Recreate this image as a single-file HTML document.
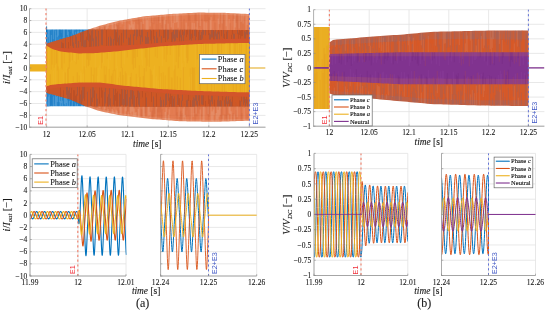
<!DOCTYPE html><html><head><meta charset="utf-8"><style>html,body{margin:0;padding:0;background:#fff;width:550px;height:313px;overflow:hidden}svg{display:block}</style></head><body>
<svg width="550" height="313" viewBox="0 0 550 313">
<rect width="550" height="313" fill="#fff"/>
<line x1="46.6" y1="8.6" x2="46.6" y2="127.2" stroke="#e2e2e2" stroke-width="0.8" />
<line x1="87.15" y1="8.6" x2="87.15" y2="127.2" stroke="#e2e2e2" stroke-width="0.8" />
<line x1="127.7" y1="8.6" x2="127.7" y2="127.2" stroke="#e2e2e2" stroke-width="0.8" />
<line x1="168.25" y1="8.6" x2="168.25" y2="127.2" stroke="#e2e2e2" stroke-width="0.8" />
<line x1="208.8" y1="8.6" x2="208.8" y2="127.2" stroke="#e2e2e2" stroke-width="0.8" />
<line x1="249.35" y1="8.6" x2="249.35" y2="127.2" stroke="#e2e2e2" stroke-width="0.8" />
<line x1="29.5" y1="8.7" x2="265.5" y2="8.7" stroke="#e2e2e2" stroke-width="0.8" />
<line x1="29.5" y1="20.55" x2="265.5" y2="20.55" stroke="#e2e2e2" stroke-width="0.8" />
<line x1="29.5" y1="32.4" x2="265.5" y2="32.4" stroke="#e2e2e2" stroke-width="0.8" />
<line x1="29.5" y1="44.25" x2="265.5" y2="44.25" stroke="#e2e2e2" stroke-width="0.8" />
<line x1="29.5" y1="56.1" x2="265.5" y2="56.1" stroke="#e2e2e2" stroke-width="0.8" />
<line x1="29.5" y1="67.95" x2="265.5" y2="67.95" stroke="#e2e2e2" stroke-width="0.8" />
<line x1="29.5" y1="79.8" x2="265.5" y2="79.8" stroke="#e2e2e2" stroke-width="0.8" />
<line x1="29.5" y1="91.65" x2="265.5" y2="91.65" stroke="#e2e2e2" stroke-width="0.8" />
<line x1="29.5" y1="103.5" x2="265.5" y2="103.5" stroke="#e2e2e2" stroke-width="0.8" />
<line x1="29.5" y1="115.35" x2="265.5" y2="115.35" stroke="#e2e2e2" stroke-width="0.8" />
<line x1="29.5" y1="127.2" x2="265.5" y2="127.2" stroke="#e2e2e2" stroke-width="0.8" />
<clipPath id="cTL"><rect x="29.5" y="6.6" width="236.0" height="120.60000000000001"/></clipPath>
<g clip-path="url(#cTL)">
<polygon points="29.5,64.28 46.3,64.28 46.3,71.62 29.5,71.62" fill="#EDB120" />
<polygon points="46.3,29.44 48.35,29.44 50.4,29.44 52.45,29.44 54.5,29.44 56.55,29.44 58.6,29.44 60.65,29.44 62.7,29.45 64.75,29.45 66.81,29.46 68.86,29.47 70.91,29.47 72.96,29.48 75.01,29.49 77.06,29.49 79.11,29.5 81.16,29.51 83.21,29.51 85.26,29.52 87.31,29.53 89.36,29.53 91.41,29.54 93.46,29.55 95.51,29.55 97.56,29.56 99.61,29.57 101.66,29.57 103.71,29.58 105.76,29.59 107.82,29.59 109.87,29.6 111.92,29.61 113.97,29.62 116.02,29.62 118.07,29.63 120.12,29.64 122.17,29.64 124.22,29.65 126.27,29.66 128.32,29.66 130.37,29.67 132.42,29.68 134.47,29.68 136.52,29.69 138.57,29.7 140.62,29.7 142.67,29.71 144.72,29.72 146.77,29.72 148.83,29.73 150.88,29.74 152.93,29.74 154.98,29.75 157.03,29.75 159.08,29.76 161.13,29.77 163.18,29.77 165.23,29.78 167.28,29.79 169.33,29.79 171.38,29.8 173.43,29.8 175.48,29.81 177.53,29.82 179.58,29.82 181.63,29.83 183.68,29.83 185.73,29.84 187.78,29.85 189.84,29.85 191.89,29.86 193.94,29.86 195.99,29.87 198.04,29.88 200.09,29.88 202.14,29.89 204.19,29.9 206.24,29.9 208.29,29.91 210.34,29.91 212.39,29.92 214.44,29.93 216.49,29.93 218.54,29.94 220.59,29.94 222.64,29.95 224.69,29.96 226.74,29.96 228.79,29.97 230.85,29.97 232.9,29.98 234.95,29.99 237,29.99 239.05,30 241.1,30.01 243.15,30.01 245.2,30.02 247.25,30.02 249.3,30.03 249.3,106.46 247.25,106.47 245.2,106.47 243.15,106.48 241.1,106.49 239.05,106.49 237,106.5 234.95,106.51 232.9,106.51 230.85,106.52 228.79,106.52 226.74,106.53 224.69,106.54 222.64,106.54 220.59,106.55 218.54,106.55 216.49,106.56 214.44,106.57 212.39,106.57 210.34,106.58 208.29,106.58 206.24,106.59 204.19,106.6 202.14,106.6 200.09,106.61 198.04,106.62 195.99,106.62 193.94,106.63 191.89,106.63 189.84,106.64 187.78,106.65 185.73,106.65 183.68,106.66 181.63,106.66 179.58,106.67 177.53,106.68 175.48,106.68 173.43,106.69 171.38,106.69 169.33,106.7 167.28,106.71 165.23,106.71 163.18,106.72 161.13,106.73 159.08,106.73 157.03,106.74 154.98,106.74 152.93,106.75 150.88,106.76 148.83,106.75 146.77,106.74 144.72,106.72 142.67,106.71 140.62,106.7 138.57,106.68 136.52,106.67 134.47,106.66 132.42,106.64 130.37,106.63 128.32,106.62 126.27,106.6 124.22,106.59 122.17,106.58 120.12,106.56 118.07,106.55 116.02,106.54 113.97,106.52 111.92,106.51 109.87,106.49 107.82,106.48 105.76,106.47 103.71,106.45 101.66,106.44 99.61,106.43 97.56,106.41 95.51,106.4 93.46,106.39 91.41,106.37 89.36,106.36 87.31,106.35 85.26,106.33 83.21,106.32 81.16,106.31 79.11,106.29 77.06,106.28 75.01,106.27 72.96,106.25 70.91,106.24 68.86,106.22 66.81,106.21 64.75,106.2 62.7,106.18 60.65,106.17 58.6,106.2 56.55,106.24 54.5,106.29 52.45,106.33 50.4,106.37 48.35,106.42 46.3,106.46" fill="#2A88CE" />
<polygon points="46.3,43.66 48.35,43.04 50.4,42.43 52.45,41.81 54.5,41.2 56.55,40.58 58.6,39.97 60.65,39.35 62.7,38.74 64.75,38.12 66.81,37.51 68.86,36.89 70.91,36.2 72.96,35.43 75.01,34.65 77.06,33.88 79.11,33.1 81.16,32.32 83.21,31.55 85.26,30.77 87.31,29.99 89.36,29.26 91.41,28.55 93.46,27.85 95.51,27.14 97.56,26.43 99.61,25.72 101.66,25.17 103.71,24.65 105.76,24.13 107.82,23.62 109.87,23.1 111.92,22.59 113.97,22.07 116.02,21.55 118.07,21.04 120.12,20.53 122.17,20.17 124.22,19.81 126.27,19.45 128.32,19.09 130.37,18.73 132.42,18.37 134.47,18.01 136.52,17.65 138.57,17.29 140.62,16.93 142.67,16.57 144.72,16.3 146.77,16.12 148.83,15.93 150.88,15.75 152.93,15.57 154.98,15.38 157.03,15.2 159.08,15.01 161.13,14.83 163.18,14.64 165.23,14.46 167.28,14.28 169.33,14.09 171.38,13.96 173.43,13.86 175.48,13.75 177.53,13.65 179.58,13.54 181.63,13.44 183.68,13.33 185.73,13.23 187.78,13.12 189.84,13.02 191.89,12.91 193.94,12.81 195.99,12.71 198.04,12.6 200.09,12.56 202.14,12.59 204.19,12.61 206.24,12.63 208.29,12.66 210.34,12.68 212.39,12.7 214.44,12.73 216.49,12.75 218.54,12.77 220.59,12.8 222.64,12.82 224.69,12.84 226.74,12.93 228.79,13.03 230.85,13.13 232.9,13.23 234.95,13.33 237,13.43 239.05,13.53 241.1,13.63 243.15,13.73 245.2,13.83 247.25,13.93 249.3,14.03 249.3,120.68 247.25,120.75 245.2,120.82 243.15,120.9 241.1,120.97 239.05,121.04 237,121.11 234.95,121.18 232.9,121.25 230.85,121.32 228.79,121.39 226.74,121.46 224.69,121.53 222.64,121.6 220.59,121.67 218.54,121.75 216.49,121.82 214.44,121.86 212.39,121.82 210.34,121.79 208.29,121.75 206.24,121.72 204.19,121.68 202.14,121.65 200.09,121.62 198.04,121.58 195.99,121.55 193.94,121.51 191.89,121.48 189.84,121.44 187.78,121.41 185.73,121.37 183.68,121.34 181.63,121.3 179.58,121.24 177.53,121.08 175.48,120.92 173.43,120.76 171.38,120.59 169.33,120.43 167.28,120.27 165.23,120.11 163.18,119.95 161.13,119.78 159.08,119.62 157.03,119.46 154.98,119.3 152.93,119.14 150.88,118.97 148.83,118.77 146.77,118.52 144.72,118.28 142.67,118.04 140.62,117.79 138.57,117.55 136.52,117.31 134.47,117.06 132.42,116.82 130.37,116.58 128.32,116.34 126.27,116.09 124.22,115.85 122.17,115.61 120.12,115.36 118.07,114.95 116.02,114.52 113.97,114.1 111.92,113.67 109.87,113.25 107.82,112.82 105.76,112.4 103.71,111.97 101.66,111.55 99.61,111.07 97.56,110.38 95.51,109.68 93.46,108.99 91.41,108.29 89.36,107.6 87.31,106.91 85.26,106.13 83.21,105.22 81.16,104.31 79.11,103.4 77.06,102.49 75.01,101.58 72.96,100.67 70.91,99.76 68.86,99.04 66.81,98.47 64.75,97.91 62.7,97.35 60.65,96.78 58.6,96.22 56.55,95.65 54.5,95.09 52.45,94.53 50.4,93.96 48.35,93.4 46.3,92.84" fill="#D95319" fill-opacity="0.68"/>
<polygon points="46.3,45.73 48.35,45.12 50.4,44.5 52.45,43.89 54.5,43.27 56.55,42.66 58.6,42.04 60.65,41.43 62.7,40.81 64.75,40.19 66.81,39.58 68.86,38.96 70.91,38.28 72.96,37.5 75.01,36.73 77.06,35.95 79.11,35.17 81.16,34.4 83.21,33.62 85.26,32.84 87.31,32.07 89.36,31.34 91.41,30.63 93.46,29.92 95.51,29.21 97.56,28.5 99.61,27.79 101.66,27.24 103.71,26.72 105.76,26.21 107.82,25.69 109.87,25.18 111.92,24.66 113.97,24.14 116.02,23.63 118.07,23.11 120.12,22.6 122.17,22.24 124.22,21.88 126.27,21.52 128.32,21.16 130.37,20.8 132.42,20.44 134.47,20.08 136.52,19.72 138.57,19.36 140.62,19 142.67,18.64 144.72,18.38 146.77,18.19 148.83,18.01 150.88,17.82 152.93,17.64 154.98,17.45 157.03,17.27 159.08,17.09 161.13,16.9 163.18,16.72 165.23,16.53 167.28,16.35 169.33,16.17 171.38,16.04 173.43,15.93 175.48,15.83 177.53,15.72 179.58,15.62 181.63,15.51 183.68,15.41 185.73,15.3 187.78,15.2 189.84,15.09 191.89,14.99 193.94,14.88 195.99,14.78 198.04,14.67 200.09,14.64 202.14,14.66 204.19,14.68 206.24,14.71 208.29,14.73 210.34,14.75 212.39,14.78 214.44,14.8 216.49,14.82 218.54,14.85 220.59,14.87 222.64,14.89 224.69,14.92 226.74,15.01 228.79,15.11 230.85,15.21 232.9,15.31 234.95,15.41 237,15.51 239.05,15.61 241.1,15.71 243.15,15.81 245.2,15.91 247.25,16.01 249.3,16.11 249.3,118.61 247.25,118.68 245.2,118.75 243.15,118.82 241.1,118.89 239.05,118.96 237,119.03 234.95,119.1 232.9,119.18 230.85,119.25 228.79,119.32 226.74,119.39 224.69,119.46 222.64,119.53 220.59,119.6 218.54,119.67 216.49,119.74 214.44,119.78 212.39,119.75 210.34,119.71 208.29,119.68 206.24,119.65 204.19,119.61 202.14,119.58 200.09,119.54 198.04,119.51 195.99,119.47 193.94,119.44 191.89,119.4 189.84,119.37 187.78,119.33 185.73,119.3 183.68,119.26 181.63,119.23 179.58,119.17 177.53,119.01 175.48,118.84 173.43,118.68 171.38,118.52 169.33,118.36 167.28,118.2 165.23,118.03 163.18,117.87 161.13,117.71 159.08,117.55 157.03,117.39 154.98,117.22 152.93,117.06 150.88,116.9 148.83,116.69 146.77,116.45 144.72,116.21 142.67,115.96 140.62,115.72 138.57,115.48 136.52,115.23 134.47,114.99 132.42,114.75 130.37,114.51 128.32,114.26 126.27,114.02 124.22,113.78 122.17,113.53 120.12,113.29 118.07,112.88 116.02,112.45 113.97,112.03 111.92,111.6 109.87,111.17 107.82,110.75 105.76,110.32 103.71,109.9 101.66,109.47 99.61,109 97.56,108.3 95.51,107.61 93.46,106.92 91.41,106.22 89.36,105.53 87.31,104.83 85.26,104.06 83.21,103.15 81.16,102.24 79.11,101.33 77.06,100.41 75.01,99.5 72.96,98.59 70.91,97.68 68.86,96.96 66.81,96.4 64.75,95.84 62.7,95.27 60.65,94.71 58.6,94.14 56.55,93.58 54.5,93.02 52.45,92.45 50.4,91.89 48.35,91.33 46.3,90.76" fill="#D95319" fill-opacity="0.3"/>
<polygon points="46.3,43.66 48.35,43.04 50.4,42.43 52.45,41.81 54.5,41.2 56.55,40.58 58.6,39.97 60.65,39.35 62.7,38.74 64.75,38.12 66.81,37.51 68.86,36.89 70.91,36.2 72.96,35.43 75.01,34.65 77.06,33.88 79.11,33.1 81.16,32.32 83.21,31.55 85.26,30.77 87.31,29.99 89.36,29.53 91.41,29.54 93.46,29.55 95.51,29.55 97.56,29.56 99.61,29.57 101.66,29.57 103.71,29.58 105.76,29.59 107.82,29.59 109.87,29.6 111.92,29.61 113.97,29.62 116.02,29.62 118.07,29.63 120.12,29.64 122.17,29.64 124.22,29.65 126.27,29.66 128.32,29.66 130.37,29.67 132.42,29.68 134.47,29.68 136.52,29.69 138.57,29.7 140.62,29.7 142.67,29.71 144.72,29.72 146.77,29.72 148.83,29.73 150.88,29.74 152.93,29.74 154.98,29.75 157.03,29.75 159.08,29.76 161.13,29.77 163.18,29.77 165.23,29.78 167.28,29.79 169.33,29.79 171.38,29.8 173.43,29.8 175.48,29.81 177.53,29.82 179.58,29.82 181.63,29.83 183.68,29.83 185.73,29.84 187.78,29.85 189.84,29.85 191.89,29.86 193.94,29.86 195.99,29.87 198.04,29.88 200.09,29.88 202.14,29.89 204.19,29.9 206.24,29.9 208.29,29.91 210.34,29.91 212.39,29.92 214.44,29.93 216.49,29.93 218.54,29.94 220.59,29.94 222.64,29.95 224.69,29.96 226.74,29.96 228.79,29.97 230.85,29.97 232.9,29.98 234.95,29.99 237,29.99 239.05,30 241.1,30.01 243.15,30.01 245.2,30.02 247.25,30.02 249.3,30.03 249.3,106.46 247.25,106.47 245.2,106.47 243.15,106.48 241.1,106.49 239.05,106.49 237,106.5 234.95,106.51 232.9,106.51 230.85,106.52 228.79,106.52 226.74,106.53 224.69,106.54 222.64,106.54 220.59,106.55 218.54,106.55 216.49,106.56 214.44,106.57 212.39,106.57 210.34,106.58 208.29,106.58 206.24,106.59 204.19,106.6 202.14,106.6 200.09,106.61 198.04,106.62 195.99,106.62 193.94,106.63 191.89,106.63 189.84,106.64 187.78,106.65 185.73,106.65 183.68,106.66 181.63,106.66 179.58,106.67 177.53,106.68 175.48,106.68 173.43,106.69 171.38,106.69 169.33,106.7 167.28,106.71 165.23,106.71 163.18,106.72 161.13,106.73 159.08,106.73 157.03,106.74 154.98,106.74 152.93,106.75 150.88,106.76 148.83,106.75 146.77,106.74 144.72,106.72 142.67,106.71 140.62,106.7 138.57,106.68 136.52,106.67 134.47,106.66 132.42,106.64 130.37,106.63 128.32,106.62 126.27,106.6 124.22,106.59 122.17,106.58 120.12,106.56 118.07,106.55 116.02,106.54 113.97,106.52 111.92,106.51 109.87,106.49 107.82,106.48 105.76,106.47 103.71,106.45 101.66,106.44 99.61,106.43 97.56,106.41 95.51,106.4 93.46,106.39 91.41,106.37 89.36,106.36 87.31,106.35 85.26,106.13 83.21,105.22 81.16,104.31 79.11,103.4 77.06,102.49 75.01,101.58 72.96,100.67 70.91,99.76 68.86,99.04 66.81,98.47 64.75,97.91 62.7,97.35 60.65,96.78 58.6,96.22 56.55,95.65 54.5,95.09 52.45,94.53 50.4,93.96 48.35,93.4 46.3,92.84" fill="#D95319" fill-opacity="0.65"/>
<polygon points="46.3,46.62 48.35,46.81 50.4,46.99 52.45,47.18 54.5,47.36 56.55,47.55 58.6,47.73 60.65,47.92 62.7,48.1 64.75,48.29 66.81,48.35 68.86,48.22 70.91,48.09 72.96,47.96 75.01,47.84 77.06,47.71 79.11,47.58 81.16,47.45 83.21,47.32 85.26,47.19 87.31,47.03 89.36,46.87 91.41,46.71 93.46,46.54 95.51,46.38 97.56,46.22 99.61,46.06 101.66,45.97 103.71,45.9 105.76,45.83 107.82,45.76 109.87,45.69 111.92,45.62 113.97,45.55 116.02,45.49 118.07,45.42 120.12,45.35 122.17,45.28 124.22,45.21 126.27,45.14 128.32,45.07 130.37,45 132.42,44.93 134.47,44.86 136.52,44.71 138.57,44.54 140.62,44.37 142.67,44.19 144.72,44.02 146.77,43.85 148.83,43.67 150.88,43.5 152.93,43.33 154.98,43.15 157.03,42.98 159.08,42.8 161.13,42.63 163.18,42.46 165.23,42.28 167.28,42.11 169.33,41.94 171.38,41.8 173.43,41.68 175.48,41.56 177.53,41.43 179.58,41.31 181.63,41.19 183.68,41.07 185.73,40.95 187.78,40.83 189.84,40.7 191.89,40.58 193.94,40.46 195.99,40.34 198.04,40.22 200.09,40.1 202.14,39.98 204.19,39.85 206.24,39.73 208.29,39.61 210.34,39.5 212.39,39.44 214.44,39.38 216.49,39.31 218.54,39.25 220.59,39.19 222.64,39.13 224.69,39.07 226.74,39.01 228.79,38.94 230.85,38.88 232.9,38.82 234.95,38.76 237,38.7 239.05,38.63 241.1,38.57 243.15,38.51 245.2,38.45 247.25,38.39 249.3,38.33 249.3,96.98 247.25,96.91 245.2,96.84 243.15,96.77 241.1,96.7 239.05,96.63 237,96.56 234.95,96.49 232.9,96.42 230.85,96.35 228.79,96.28 226.74,96.21 224.69,96.14 222.64,96.07 220.59,96 218.54,95.93 216.49,95.86 214.44,95.79 212.39,95.72 210.34,95.65 208.29,95.58 206.24,95.51 204.19,95.44 202.14,95.37 200.09,95.3 198.04,95.23 195.99,95.16 193.94,95.09 191.89,95.02 189.84,94.95 187.78,94.88 185.73,94.81 183.68,94.74 181.63,94.67 179.58,94.57 177.53,94.39 175.48,94.2 173.43,94.01 171.38,93.82 169.33,93.63 167.28,93.44 165.23,93.25 163.18,93.06 161.13,92.87 159.08,92.68 157.03,92.5 154.98,92.31 152.93,92.12 150.88,91.93 148.83,91.74 146.77,91.55 144.72,91.36 142.67,91.17 140.62,90.98 138.57,90.79 136.52,90.61 134.47,90.42 132.42,90.25 130.37,90.07 128.32,89.9 126.27,89.73 124.22,89.55 122.17,89.38 120.12,89.21 118.07,89.03 116.02,88.86 113.97,88.68 111.92,88.51 109.87,88.34 107.82,88.16 105.76,87.99 103.71,87.82 101.66,87.64 99.61,87.49 97.56,87.41 95.51,87.33 93.46,87.24 91.41,87.16 89.36,87.08 87.31,87 85.26,86.92 83.21,86.91 81.16,86.91 79.11,86.91 77.06,86.91 75.01,86.91 72.96,86.91 70.91,86.91 68.86,86.91 66.81,86.91 64.75,87.06 62.7,87.31 60.65,87.55 58.6,87.8 56.55,88.05 54.5,88.29 52.45,88.54 50.4,88.79 48.35,89.03 46.3,89.28" fill="#D3542A" />
<path d="M90.1 29.11V29.51M94.1 27.64V29.2M95.1 27.55V29.55M96.1 26.94V29.44M98.1 26.41V29.39M101.1 27.46V29.57M103.1 26.76V29.58M106.1 26.34V29.59M107.1 25.53V29.59M108.1 23.73V28.17M112.1 23.47V29.61M113.1 23.7V29.61M115.1 22.7V29.62M116.1 26.39V29.62M122.1 20.27V24.32M125.1 20.52V29.65M129.1 24.17V29.66M130.1 25.28V29.67M131.1 19.1V27.6M132.1 21.19V29.67M133.1 24.29V29.68M134.1 21.78V29.68M141.1 22.04V29.7M143.1 17.07V23.96M146.1 16.91V29.72M147.1 19.79V29.72M148.1 17.07V29.73M150.1 16.09V26.5M160.1 15.5V22.95M164.1 19.72V29.78M165.1 14.99V24.27M168.1 23.61V29.79M171.1 14V27.43M173.1 22.93V29.8M174.1 13.9V23.07M176.1 13.98V22.69M177.1 14.07V21.89M178.1 13.79V27.71M186.1 22.56V29.84M192.1 22.67V29.86M194.1 23.14V29.87M197.1 21.07V29.87M200.1 12.8V26.09M204.1 21.4V29.9M206.1 22.48V29.9M210.1 19.83V29.91M211.1 17.07V29.92M218.1 18.52V29.94M219.1 13.08V24.19M222.1 12.86V23.5M226.1 12.94V26.3M227.1 14.64V29.96M229.1 19.04V29.97M234.1 18.81V29.98M235.1 13.52V27.48M239.1 13.72V28.6M241.1 14.1V21.86M243.1 14.19V23.55M246.1 16.11V30.02M247.1 14.16V24.87" stroke="#ffffff" stroke-opacity="0.22" stroke-width="0.7" fill="none"/>
<path d="M91.1 29.32V29.54M99.1 25.94V28.3M100.1 25.91V28.99M104.1 25.71V29.58M105.1 25.36V29.59M114.1 22.57V27.74M117.1 24.78V29.63M118.1 25.03V29.63M119.1 20.88V29.1M126.1 20.5V29.66M136.1 19.19V29.69M138.1 17.58V24.42M139.1 17.36V29.17M140.1 21.31V29.7M142.1 21.37V29.71M151.1 16.27V22.77M152.1 22.28V29.74M154.1 15.69V24.22M156.1 15.62V29.75M158.1 16.91V29.76M159.1 15.06V21.13M162.1 15.18V28.2M163.1 19.65V29.77M166.1 20.34V29.78M170.1 21.39V29.79M181.1 15.07V29.83M184.1 18.82V29.84M188.1 13.47V26.23M189.1 13.21V20.18M190.1 16.14V29.85M195.1 12.86V20.44M196.1 12.85V26.78M199.1 12.83V27.39M202.1 18.87V29.89M205.1 13.11V21.26M207.1 12.82V21.06M209.1 17.41V29.91M214.1 12.77V20.09M215.1 22.75V29.93M220.1 13.19V27.36M223.1 13.51V29.95M224.1 20.39V29.95M230.1 23.26V29.97M233.1 13.7V20.71M236.1 13.78V22.88M237.1 13.52V29.74M238.1 13.84V30M240.1 14.07V29.54M242.1 21.2V30.01M244.1 17.3V30.01" stroke="#b04028" stroke-opacity="0.2" stroke-width="0.7" fill="none"/>
<path d="M92.1 28.65V29.02M93.1 28V28.95M97.1 27.11V29.37M102.1 25.12V27.53M109.1 26.81V29.6M110.1 23.42V28.81M111.1 25.03V29.61M120.1 20.61V27.09M121.1 20.57V27.05M123.1 20.06V24.58M124.1 25.91V29.65M127.1 22.54V29.66M128.1 23.17V29.66M135.1 23.32V29.68M137.1 23.83V29.69M144.1 16.87V24.72M145.1 16.34V28.57M149.1 16.49V29.06M153.1 16.06V23.23M155.1 18.3V29.75M157.1 15.27V24.25M161.1 15.17V25.1M167.1 14.64V28.55M169.1 17.49V29.79M172.1 14.35V28.8M175.1 14.03V22.92M179.1 16.64V29.82M180.1 13.6V28.46M182.1 13.68V22.02M183.1 13.94V20.78M185.1 13.36V24.96M187.1 13.7V27.98M191.1 13.2V22.47M193.1 14.77V29.86M198.1 13.13V23.17M201.1 20.71V29.89M203.1 13.15V29.02M208.1 22.23V29.91M212.1 13.12V28.77M213.1 21.41V29.92M216.1 17.46V29.93M217.1 13.05V23.02M221.1 19.09V29.95M225.1 15.28V29.96M228.1 21.3V29.97M231.1 13.28V29.81M232.1 13.69V26.41M245.1 14.09V25.69M248.1 14.24V25.4" stroke="#F29070" stroke-opacity="0.3" stroke-width="0.7" fill="none"/>
<path d="M88.1 106.35V107.08M89.1 106.73V107.33M94.1 107.36V109.15M95.1 107.57V109.22M96.1 106.4V109.23M101.1 106.44V109.33M102.1 109.41V111.42M106.1 106.47V110.56M109.1 107.71V112.72M111.1 106.5V112.67M118.1 108.09V114.54M119.1 110.21V114.87M123.1 108.39V115.58M127.1 106.61V115.26M129.1 106.62V113.94M137.1 109.59V117.28M141.1 108.72V117.34M142.1 109.74V117.46M145.1 106.73V113.31M146.1 106.73V115.59M152.1 110.8V118.57M153.1 107.8V118.84M154.1 106.75V114.41M155.1 106.74V113.85M157.1 108.85V118.98M158.1 106.73V112.25M159.1 106.73V118.35M160.1 106.73V112.31M161.1 106.73V118.97M162.1 109.25V119.37M167.1 112.47V119.67M176.1 106.68V115.02M177.1 112.29V120.99M180.1 111.6V120.89M181.1 110.59V120.7M182.1 113.18V121.06M186.1 106.65V117.04M188.1 106.65V116.58M190.1 108.4V121.38M194.1 106.63V112.99M195.1 107.54V121.39M197.1 106.62V116.38M199.1 106.61V113.68M202.1 106.6V116.6M207.1 106.59V114.72M209.1 106.58V117.03M215.1 106.56V114.33M221.1 108.58V121.15M222.1 106.54V118.74M226.1 106.53V118.47M227.1 107.48V121.27M233.1 112.98V120.74M236.1 110.2V120.9M241.1 106.97V120.77M242.1 113.06V120.73M247.1 113.69V120.62" stroke="#b04028" stroke-opacity="0.2" stroke-width="0.7" fill="none"/>
<path d="M90.1 106.36V107.05M91.1 106.37V107.33M99.1 106.42V108.09M100.1 106.43V108.63M104.1 106.46V110.21M105.1 106.46V109.29M108.1 109V112.42M112.1 108.86V113.37M113.1 110.32V113.61M116.1 109.72V114M117.1 111.08V114.43M120.1 106.56V113.93M121.1 106.57V113.74M125.1 107.34V115.47M126.1 106.6V111.32M128.1 111.55V115.99M130.1 106.63V113.47M131.1 106.63V115.08M132.1 106.64V111.68M133.1 106.65V115.75M134.1 108.42V116.96M135.1 112.55V116.7M136.1 112.09V116.87M138.1 108.88V117.15M139.1 106.69V116.5M143.1 106.71V116.34M144.1 106.72V117.09M148.1 106.75V116.53M149.1 106.75V115.46M150.1 111.82V118.68M156.1 106.74V118.27M165.1 111.88V120.07M166.1 107.59V120.09M168.1 114.74V120.22M169.1 109.33V120.01M179.1 106.67V116.75M183.1 108.36V120.8M184.1 106.66V117.47M185.1 114.8V121.15M191.1 107.19V121.28M193.1 106.63V116.82M196.1 106.62V113.71M200.1 109.39V121.07M203.1 106.81V121.11M204.1 106.6V120.63M208.1 106.59V114.23M211.1 106.58V120.85M212.1 111.4V121.25M213.1 109.51V121.83M214.1 106.57V115.4M216.1 112.96V121.75M217.1 106.56V119.54M218.1 109.81V121.66M219.1 106.55V116.65M220.1 106.55V114.82M223.1 115.28V121.26M228.1 114.83V121.35M229.1 106.52V113.44M230.1 106.52V114.04M231.1 111.28V121.1M234.1 114.38V121M237.1 106.5V117.31M244.1 107.91V120.59" stroke="#ffffff" stroke-opacity="0.22" stroke-width="0.7" fill="none"/>
<path d="M92.1 107.24V108.07M93.1 106.95V108.61M97.1 107.84V110M98.1 106.42V110.29M103.1 106.45V110.22M107.1 106.48V109.84M110.1 106.5V110.82M114.1 106.52V109.66M115.1 106.53V112.43M122.1 107.82V115.08M124.1 106.95V115.65M140.1 107.27V117.24M147.1 112.39V117.97M151.1 106.76V118.62M163.1 110.37V119.86M164.1 114.48V119.77M170.1 106.7V114.53M171.1 106.7V118.93M172.1 113.59V120.24M173.1 106.69V119.76M174.1 108.84V120.74M175.1 106.68V116.99M178.1 114.35V120.72M187.1 110.44V121.37M189.1 106.64V119.23M192.1 112.58V121M198.1 112.69V121.31M201.1 106.61V113.84M205.1 107.45V121.65M206.1 107.7V121.31M210.1 114.1V121.51M224.1 106.54V114.04M225.1 106.53V113.88M232.1 106.51V116.75M235.1 107.34V120.75M238.1 106.5V116.77M239.1 107.81V120.99M240.1 106.49V118.91M243.1 106.48V119.18M245.1 113.43V120.51M246.1 106.47V119.5M248.1 109.42V120.38" stroke="#F29070" stroke-opacity="0.3" stroke-width="0.7" fill="none"/>
<path d="M60.5 39.4V45.96M64.5 38.4V48.26M66.5 37.6V43.44M67.5 39.5V48.3M69.5 38.29V48.18M71.5 41.39V48.05M74.5 34.84V44.26M77.5 33.71V46.89M79.5 32.95V41.74M94.5 29.55V36.77M97.5 36.49V46.23M99.5 29.57V40.86M100.5 30.87V46.02M103.5 34.16V45.91M104.5 29.58V37.2M105.5 32.61V45.84M107.5 29.59V41.82M109.5 37.21V45.71M112.5 34.77V45.6M120.5 29.64V36.39M122.5 35.1V45.27M124.5 36.23V45.2M125.5 37.91V45.16M127.5 34.77V45.1M131.5 31.34V44.96M132.5 38.17V44.93M135.5 35.27V44.79M138.5 37.93V44.55M143.5 29.71V44.02M144.5 29.79V44.04M149.5 29.73V39.49M152.5 36.63V43.36M155.5 29.75V38.66M158.5 29.76V35.62M160.5 29.77V35.35M162.5 29.77V37.25M166.5 35.75V42.18M169.5 35V41.93M170.5 33.88V41.86M178.5 32.59V41.38M185.5 29.84V36.4M188.5 35.84V40.78M193.5 29.86V34.25M197.5 29.88V37.4M204.5 31.39V39.84M206.5 33.64V39.72M207.5 32.12V39.66M220.5 31.2V39.19M222.5 34.49V39.13M225.5 32.86V39.04M228.5 32.76V38.95M229.5 29.97V35.53M230.5 30.2V38.89M235.5 33.81V38.74M236.5 30.87V38.71M243.5 34.67V38.5M248.5 34.67V38.35" stroke="#E05A20" stroke-opacity="0.35" stroke-width="0.7" fill="none"/>
<path d="M61.5 41.94V47.99M65.5 37.9V47.98M72.5 35.6V46.21M73.5 42.46V47.93M75.5 34.47V44M76.5 36.86V47.74M78.5 41.01V47.62M81.5 32.19V46.3M83.5 31.44V47.06M84.5 40.3V47.24M85.5 39.72V47.17M88.5 29.73V41.22M91.5 30.68V46.7M92.5 29.54V41.09M93.5 38.37V46.54M95.5 30.05V46.38M96.5 36.67V46.3M98.5 31.02V46.15M101.5 29.57V44.81M102.5 29.58V45.1M108.5 36.87V45.74M110.5 36.54V45.67M111.5 38.41V45.64M113.5 39.04V45.57M114.5 29.62V40.38M117.5 29.63V42.15M119.5 35.42V45.37M123.5 29.65V42.68M126.5 29.66V38.72M128.5 37.56V45.06M130.5 34.46V44.99M133.5 34.07V44.89M134.5 29.68V35.94M136.5 29.69V39.9M137.5 29.69V36.46M140.5 35.26V44.38M141.5 29.71V37.25M142.5 29.71V41.8M145.5 36.22V43.95M146.5 37.37V43.87M147.5 32.03V43.78M148.5 37.13V43.7M150.5 29.74V40.41M154.5 36.05V43.19M156.5 31.8V43.02M157.5 37.65V42.94M159.5 29.76V36.6M161.5 35.98V42.6M164.5 29.78V37.89M167.5 29.79V40.39M168.5 29.79V38.92M172.5 31.93V41.73M173.5 29.8V38.63M174.5 34.32V41.61M175.5 29.81V40.82M176.5 29.81V37.35M177.5 29.82V37.99M180.5 29.82V37.47M181.5 34.88V41.2M183.5 31.44V41.08M184.5 29.84V35.4M189.5 29.85V39.98M191.5 33.85V40.61M194.5 29.87V35.87M195.5 29.87V40.14M199.5 29.88V39.9M201.5 32.15V40.01M202.5 29.89V38.65M203.5 29.89V34.85M205.5 29.9V35.27M209.5 33.16V39.55M210.5 34.39V39.49M211.5 29.92V37.45M212.5 29.92V37.44M214.5 31.53V39.37M215.5 29.93V36.32M216.5 33.51V39.31M217.5 31.7V39.28M219.5 31.57V39.22M223.5 29.95V38.15M227.5 30.27V38.98M233.5 33.44V38.8M234.5 34.09V38.77M237.5 29.99V34.16M244.5 31.13V38.47M245.5 32.23V38.44M246.5 30.02V34.42M247.5 30.02V34.82" stroke="#4a5a80" stroke-opacity="0.35" stroke-width="0.7" fill="none"/>
<path d="M62.5 42.8V48.08M63.5 43.32V48.17M68.5 42.16V48.24M70.5 36.34V45.77M80.5 32.57V41.76M82.5 31.82V46.09M86.5 36.6V47.09M87.5 29.95V40.02M89.5 33.7V46.86M90.5 35.4V46.78M106.5 29.67V45.81M115.5 29.62V45.2M116.5 32.23V45.47M118.5 37.63V45.4M121.5 32.98V45.3M129.5 37.87V45.03M139.5 29.7V36.27M151.5 30.9V43.45M153.5 29.74V39.27M163.5 29.77V37.95M165.5 29.78V41.99M171.5 32.43V41.79M179.5 31.48V41.32M182.5 29.83V34.9M186.5 29.84V37.12M187.5 29.85V34.45M190.5 29.85V39.28M192.5 29.86V38.14M196.5 29.87V36.77M198.5 31.87V40.19M200.5 35.23V40.07M208.5 29.91V35.07M213.5 30.27V39.4M218.5 29.94V34.12M221.5 29.95V36.24M224.5 33.81V39.07M226.5 31.77V39.01M231.5 34.82V38.86M232.5 29.98V34.33M238.5 32.72V38.65M239.5 30V34.81M240.5 30.86V38.59M241.5 30.01V36.27M242.5 30.01V36.13" stroke="#7a3020" stroke-opacity="0.25" stroke-width="0.7" fill="none"/>
<path d="M60.5 87.73V96.74M63.5 90.4V97.56M70.5 93.26V99.61M71.5 87.82V100.02M73.5 90.15V100.91M74.5 90.33V101.35M75.5 95.62V101.8M76.5 94.27V102.24M79.5 86.91V103.54M81.5 90.41V104.46M84.5 86.92V100.71M91.5 97.68V106.37M94.5 90.41V106.39M99.5 87.48V103.68M101.5 87.63V97.56M102.5 90.39V106.45M107.5 96.85V106.48M114.5 95.09V106.53M115.5 88.81V100.67M116.5 93.14V106.54M117.5 91.53V106.54M120.5 94.31V106.56M121.5 89.32V105.11M125.5 90.02V106.6M132.5 90.25V104.23M136.5 97.09V106.67M137.5 90.7V97.78M142.5 91.16V97.39M145.5 92.89V106.73M151.5 91.99V101.75M156.5 93.39V106.74M169.5 97.68V106.7M170.5 93.74V103.97M171.5 96.02V106.69M173.5 98.67V106.69M178.5 94.47V104.94M179.5 98.24V106.67M188.5 94.9V100.93M190.5 100.36V106.64M199.5 95.28V105.44M203.5 95.42V104.91M205.5 101.06V106.59M208.5 95.59V103.83M209.5 99.46V106.58M214.5 99.87V106.57M220.5 100.01V106.55M222.5 96.07V100.36M225.5 97.35V106.53M229.5 99.96V106.52M232.5 96.65V106.51M239.5 100.4V106.49M241.5 96.72V101.51M244.5 96.82V102.57M246.5 96.89V103.46" stroke="#7a3020" stroke-opacity="0.25" stroke-width="0.7" fill="none"/>
<path d="M61.5 87.45V91.54M62.5 87.33V94.03M64.5 89.64V97.84M65.5 89.25V98.11M72.5 89.25V100.46M78.5 86.91V98.75M85.5 96.93V106.16M86.5 93.7V106.26M88.5 92.22V106.35M89.5 87.09V106.35M95.5 94.18V106.4M98.5 87.44V97.31M100.5 91.07V106.43M103.5 96.68V106.45M106.5 91.41V106.47M111.5 88.65V106.51M112.5 88.56V103.14M118.5 89.07V100.08M128.5 89.91V100.33M135.5 95.58V106.66M140.5 98.67V106.7M141.5 98.74V106.7M143.5 91.25V100.56M144.5 91.34V104.57M147.5 92.71V106.74M148.5 96.12V106.75M149.5 91.8V103.43M150.5 92.12V106.76M152.5 92.08V103.85M154.5 92.26V98.18M155.5 96.83V106.74M157.5 92.54V104.01M158.5 95.07V106.73M159.5 92.72V99.21M162.5 100.43V106.72M164.5 93.18V104.44M167.5 96.16V106.71M175.5 94.2V104.74M176.5 94.29V102.22M180.5 95.59V106.67M183.5 94.73V104.74M184.5 94.77V104.21M185.5 101.9V106.65M189.5 100.56V106.64M191.5 95.01V104.24M200.5 98.5V106.61M204.5 99.17V106.6M206.5 95.52V105.08M207.5 97.44V106.59M213.5 95.76V102.22M215.5 95.83V104.81M216.5 97.47V106.56M223.5 101.26V106.54M233.5 96.44V105.22M234.5 96.48V105.96M235.5 96.51V102.21M236.5 96.54V102.59M237.5 96.58V105.14M238.5 99.16V106.49M242.5 102.07V106.48M248.5 96.96V101.6" stroke="#E05A20" stroke-opacity="0.35" stroke-width="0.7" fill="none"/>
<path d="M66.5 86.93V94.84M67.5 86.91V97.78M68.5 90.47V98.94M69.5 87.57V99.26M77.5 86.91V95.65M80.5 94.44V104.02M82.5 86.91V101.27M83.5 86.91V98.54M87.5 91.72V106.35M90.5 88.98V106.37M92.5 87.21V102.18M93.5 87.25V97.71M96.5 93.59V106.41M97.5 98.75V106.41M104.5 91.97V106.46M105.5 87.97V103.53M108.5 94.31V106.49M109.5 88.31V104.94M110.5 98.38V106.5M113.5 88.65V104.71M119.5 93.64V106.56M122.5 89.41V104.91M123.5 99.15V106.58M124.5 89.58V104.98M126.5 94.06V106.6M127.5 89.83V105.56M129.5 97.2V106.62M130.5 90.08V106.55M131.5 90.17V99.09M133.5 90.92V106.65M134.5 95.47V106.66M138.5 90.79V104.66M139.5 92.61V106.69M146.5 97.46V106.74M153.5 96.52V106.75M160.5 96.84V106.73M161.5 100.17V106.72M163.5 99.73V106.72M165.5 93.96V106.71M166.5 93.37V104.97M168.5 93.55V100.83M172.5 95.87V106.69M174.5 96.56V106.69M177.5 94.38V104.91M181.5 100.54V106.66M182.5 94.7V100.87M186.5 100.31V106.65M187.5 99.59V106.65M192.5 100.24V106.63M193.5 97.23V106.63M194.5 98.5V106.63M195.5 95.14V100.73M196.5 95.18V104.8M197.5 100.94V106.62M198.5 95.25V100.81M201.5 95.35V104.31M202.5 95.38V104.88M210.5 100.21V106.58M211.5 95.69V101.63M212.5 95.72V104.21M217.5 99.84V106.56M218.5 95.93V106.41M219.5 100.66V106.55M221.5 100.74V106.55M224.5 99.83V106.54M226.5 96.2V104.1M227.5 101.38V106.53M228.5 96.27V103.86M230.5 99.11V106.52M231.5 101.78V106.52M240.5 100.95V106.49M243.5 96.78V104.85M245.5 98.99V106.47M247.5 99.53V106.47" stroke="#4a5a80" stroke-opacity="0.35" stroke-width="0.7" fill="none"/>
<path d="M47.3 34.39V43.36M48.3 29.44V37.28M49.3 29.44V42.57M51.3 34.94V42.16M53.3 29.44V39.21M55.3 30.5V40.96M57.3 29.44V37.23M58.3 29.44V35.68M63.3 29.45V38.21M64.3 29.45V37.78M67.3 29.46V35.15M68.3 31.69V37.06M72.3 29.48V33.54M73.3 29.48V35.01M75.3 31.85V34.54M77.3 31.59V33.78M78.3 30.58V33.41M80.3 31.04V32.65M81.3 29.63V32.27M84.3 29.52V30.87M85.3 29.73V30.76M86.3 29.77V30.38M87.3 29.62V30" stroke="#ffffff" stroke-opacity="0.22" stroke-width="0.7" fill="none"/>
<path d="M50.3 31.16V42.46M52.3 29.44V41.83M54.3 31.52V41.26M56.3 29.44V35.06M59.3 29.44V38.4M60.3 29.44V36.69M61.3 33.19V39.16M62.3 29.45V36.96M65.3 29.45V37.54M66.3 29.46V36.46M69.3 29.88V36.74M70.3 31.91V36.41M71.3 29.47V33.59M74.3 31.53V34.92M76.3 29.49V33.81M79.3 29.5V31.37M82.3 29.68V31.89M83.3 30.04V31.51" stroke="#0060A8" stroke-opacity="0.3" stroke-width="0.7" fill="none"/>
<path d="M47.3 93.11V101.86M50.3 95.55V106.38M51.3 94.21V104.7M52.3 95.93V106.33M54.3 95.03V103.78M58.3 96.34V106.2M63.3 97.51V104.57M68.3 98.89V105.17M70.3 102.36V106.23M71.3 99.93V104.58M73.3 100.9V106.25M74.3 102.92V106.26M76.3 102.15V104.38M78.3 103.04V106.03M79.3 103.49V105.61M80.3 104.02V106.3M83.3 105.41V106.32M84.3 105.71V106.25" stroke="#0060A8" stroke-opacity="0.3" stroke-width="0.7" fill="none"/>
<path d="M48.3 96.63V106.42M49.3 94.93V106.4M53.3 96.38V106.31M55.3 95.31V105.69M56.3 96.78V106.25M57.3 95.86V102.12M59.3 96.41V102.25M60.3 101.01V106.18M61.3 96.96V103.21M62.3 100.64V106.18M64.3 97.78V104.14M65.3 98.06V105.61M66.3 98.33V102.98M67.3 100.22V106.21M69.3 101.1V106.23M72.3 100.76V106.25M75.3 103.08V106.27M77.3 104.01V106.28M81.3 104.92V106.31M82.3 105.22V106.31" stroke="#ffffff" stroke-opacity="0.22" stroke-width="0.7" fill="none"/>
<polygon points="46.3,45.44 48.35,46.83 50.4,48.04 52.45,49.12 54.5,49.73 56.55,50.34 58.6,50.95 60.65,51.44 62.7,51.67 64.75,51.91 66.81,52.14 68.86,52.38 70.91,52.62 72.96,52.85 75.01,53.09 77.06,53.33 79.11,53.41 81.16,53.38 83.21,53.34 85.26,53.31 87.31,53.27 89.36,53.24 91.41,53.2 93.46,53.16 95.51,53.1 97.56,52.92 99.61,52.75 101.66,52.58 103.71,52.41 105.76,52.24 107.82,52.07 109.87,51.9 111.92,51.73 113.97,51.56 116.02,51.39 118.07,51.22 120.12,51.05 122.17,50.81 124.22,50.56 126.27,50.32 128.32,50.08 130.37,49.83 132.42,49.59 134.47,49.35 136.52,49.11 138.57,48.86 140.62,48.62 142.67,48.38 144.72,48.13 146.77,47.89 148.83,47.65 150.88,47.4 152.93,47.16 154.98,46.92 157.03,46.68 159.08,46.43 161.13,46.26 163.18,46.14 165.23,46.01 167.28,45.89 169.33,45.77 171.38,45.65 173.43,45.53 175.48,45.41 177.53,45.28 179.58,45.16 181.63,45.04 183.68,44.92 185.73,44.8 187.78,44.68 189.84,44.56 191.89,44.43 193.94,44.31 195.99,44.19 198.04,44.07 200.09,43.95 202.14,43.91 204.19,43.86 206.24,43.82 208.29,43.77 210.34,43.72 212.39,43.68 214.44,43.63 216.49,43.59 218.54,43.54 220.59,43.5 222.64,43.45 224.69,43.41 226.74,43.36 228.79,43.31 230.85,43.27 232.9,43.22 234.95,43.18 237,43.13 239.05,43.09 241.1,43.06 243.15,43.06 245.2,43.06 247.25,43.06 249.3,43.06 249.3,92.24 247.25,92.24 245.2,92.24 243.15,92.24 241.1,92.24 239.05,92.21 237,92.15 234.95,92.09 232.9,92.03 230.85,91.97 228.79,91.91 226.74,91.85 224.69,91.79 222.64,91.73 220.59,91.67 218.54,91.61 216.49,91.55 214.44,91.49 212.39,91.42 210.34,91.36 208.29,91.3 206.24,91.24 204.19,91.18 202.14,91.12 200.09,91.06 198.04,90.96 195.99,90.85 193.94,90.74 191.89,90.64 189.84,90.53 187.78,90.42 185.73,90.32 183.68,90.21 181.63,90.11 179.58,90 177.53,89.89 175.48,89.79 173.43,89.68 171.38,89.57 169.33,89.47 167.28,89.36 165.23,89.25 163.18,89.15 161.13,89.04 159.08,88.9 157.03,88.71 154.98,88.53 152.93,88.34 150.88,88.16 148.83,87.97 146.77,87.79 144.72,87.6 142.67,87.42 140.62,87.23 138.57,87.04 136.52,86.86 134.47,86.67 132.42,86.49 130.37,86.3 128.32,86.12 126.27,85.93 124.22,85.74 122.17,85.48 120.12,85.2 118.07,84.92 116.02,84.64 113.97,84.36 111.92,84.08 109.87,83.81 107.82,83.53 105.76,83.25 103.71,82.97 101.66,82.69 99.61,82.47 97.56,82.47 95.51,82.47 93.46,82.47 91.41,82.47 89.36,82.47 87.31,82.47 85.26,82.47 83.21,82.47 81.16,82.47 79.11,82.53 77.06,82.68 75.01,82.84 72.96,82.99 70.91,83.14 68.86,83.29 66.81,83.44 64.75,83.6 62.7,83.75 60.65,83.9 58.6,84.11 56.55,84.36 54.5,84.6 52.45,84.84 50.4,85.08 48.35,85.66 46.3,86.32" fill="#EDB120" />
<path d="M47.3 46.11V69.93M51.3 48.52V69.63M52.3 49.04V64.61M54.3 49.67V67.69M57.3 50.56V70.41M58.3 66.6V84.15M61.3 51.51V68.13M62.3 51.62V69.58M64.3 51.86V63.31M67.3 68.58V83.41M70.3 52.55V61.77M73.3 76.05V82.96M76.3 53.24V64.12M79.3 75.42V82.53M84.3 66.23V82.47M86.3 53.29V67.62M89.3 53.24V65.12M90.3 53.22V60.32M93.3 74.55V82.47M94.3 67.57V82.47M96.3 67.31V82.47M101.3 52.61V68.2M104.3 65.93V83.05M106.3 66.65V83.32M107.3 52.12V58.77M109.3 68.96V83.73M112.3 73.63V84.14M113.3 70.27V84.27M114.3 51.54V71.05M115.3 69.56V84.54M118.3 77.57V84.95M123.3 75.03V85.62M125.3 71.44V85.84M126.3 73.27V85.93M127.3 50.2V57.4M131.3 72.98V86.39M132.3 49.61V64.28M134.3 49.37V57.99M136.3 73.95V86.84M139.3 65.24V87.11M140.3 76.93V87.2M145.3 48.07V57.53M146.3 47.95V71.38M147.3 47.83V65.94M150.3 68.97V88.11M151.3 70.63V88.2M152.3 74.59V88.29M155.3 46.88V56.63M157.3 46.64V58.05M159.3 66.06V88.92M161.3 73V89.05M163.3 72.31V89.15M164.3 46.07V59.34M165.3 75.44V89.26M166.3 45.95V61.98M167.3 45.89V54.78M168.3 67.37V89.41M169.3 66.48V89.47M170.3 45.71V54.97M171.3 77.67V89.57M172.3 77.75V89.62M174.3 69.38V89.73M175.3 65.39V89.78M176.3 45.36V62.03M179.3 45.18V56.62M186.3 44.77V57.86M188.3 44.65V60.82M190.3 68.2V90.55M193.3 67.91V90.71M199.3 66.45V91.02M201.3 43.92V67.63M206.3 43.81V58.52M207.3 63.77V91.27M211.3 69.79V91.39M214.3 67.85V91.48M218.3 43.55V69.2M219.3 43.52V65.74M234.3 43.19V61.96M237.3 43.12V70.96M242.3 76.14V92.24M247.3 68.26V92.24M248.3 63.85V92.24" stroke="#E08A1A" stroke-opacity="0.25" stroke-width="0.7" fill="none"/>
<path d="M48.3 46.79V67.61M49.3 47.39V59.37M53.3 70.64V84.74M55.3 64.86V84.5M59.3 51.11V69.26M60.3 51.35V68.31M63.3 71.14V83.7M66.3 67.49V83.48M71.3 52.66V62.53M74.3 53.01V61.15M75.3 53.12V62.04M80.3 71.23V82.49M81.3 72.43V82.47M82.3 53.36V69.62M83.3 73.66V82.47M85.3 53.31V69.62M92.3 75.98V82.47M95.3 53.1V68.25M97.3 75.58V82.47M98.3 67.75V82.47M99.3 65.46V82.47M100.3 52.7V69.53M103.3 52.45V63.62M108.3 52.03V69.5M110.3 51.87V60.37M116.3 51.37V68.27M117.3 66.09V84.82M119.3 76.72V85.09M124.3 50.55V64.33M128.3 74.89V86.11M129.3 75.43V86.2M138.3 77.15V87.02M141.3 48.54V59.71M142.3 48.42V65.86M148.3 47.71V59.74M153.3 69.39V88.38M154.3 65.53V88.47M156.3 76.13V88.65M158.3 80.29V88.83M160.3 76.36V88.98M162.3 46.19V66.25M173.3 45.54V70.79M181.3 45.06V70.19M182.3 63.29V90.14M184.3 44.88V61.57M185.3 44.82V67.22M189.3 76.63V90.5M191.3 73.96V90.61M195.3 44.23V67.09M196.3 74.66V90.87M198.3 44.05V67.65M202.3 43.9V59.46M204.3 43.86V64.49M209.3 43.75V69.38M210.3 79.45V91.36M213.3 73.85V91.45M215.3 80.26V91.51M216.3 43.59V56.23M220.3 43.5V61.73M223.3 76.61V91.75M225.3 43.39V67.14M226.3 43.37V66.96M227.3 73.97V91.87M228.3 43.32V63.39M231.3 43.26V55.22M232.3 43.24V70.57M238.3 43.1V59.34M243.3 65.77V92.24M245.3 77.73V92.24" stroke="#F5C040" stroke-opacity="0.3" stroke-width="0.7" fill="none"/>
<path d="M50.3 74.12V85.11M56.3 50.26V63.49M65.3 72.56V83.55M68.3 67.19V83.33M69.3 52.43V68.93M72.3 52.78V60.16M77.3 72.54V82.67M78.3 53.38V59.48M87.3 53.27V59.39M88.3 53.25V66.13M91.3 67.27V82.47M102.3 52.53V62.66M105.3 74.75V83.19M111.3 75.81V84M120.3 71.75V85.22M121.3 50.91V67.95M122.3 67.67V85.49M130.3 76.99V86.3M133.3 49.49V69.39M135.3 49.25V67.76M137.3 49.01V57.01M143.3 75.99V87.47M144.3 68.01V87.56M149.3 47.59V66.75M177.3 76.3V89.88M178.3 45.24V68.18M180.3 77.87V90.04M183.3 67.17V90.19M187.3 44.71V63.13M192.3 67.13V90.66M194.3 67.72V90.76M197.3 44.11V59.35M200.3 80.97V91.07M203.3 43.88V56.74M205.3 43.84V64.88M208.3 43.77V68.26M212.3 43.68V68.43M217.3 43.57V58.68M221.3 43.48V69.91M222.3 66.42V91.72M224.3 77.32V91.78M229.3 43.3V56.69M230.3 43.28V68.67M233.3 81.31V92.04M235.3 43.17V61.44M236.3 73.76V92.13M239.3 43.08V71.01M240.3 80.59V92.23M241.3 43.06V68.91M244.3 74V92.24M246.3 43.06V62.9" stroke="#D06818" stroke-opacity="0.18" stroke-width="0.7" fill="none"/>
<line x1="46.6" y1="26.48" x2="46.6" y2="44.25" stroke="#0072BD" stroke-width="1" />
<line x1="249.3" y1="67.95" x2="265.5" y2="67.95" stroke="#EDB120" stroke-width="1.1" />
</g>
<line x1="46" y1="8.6" x2="46" y2="127.2" stroke="#F18672" stroke-width="1.2" stroke-dasharray="2.2,2.6" stroke-dashoffset="0.4"/>
<line x1="249.4" y1="8.6" x2="249.4" y2="127.2" stroke="#6474D6" stroke-width="1.0" stroke-dasharray="2.2,2.6" stroke-dashoffset="0.4"/>
<line x1="29.5" y1="8.6" x2="29.5" y2="127.6" stroke="#9a9a9a" stroke-width="0.8" />
<line x1="29.1" y1="127.2" x2="265.5" y2="127.2" stroke="#9a9a9a" stroke-width="0.85" />
<line x1="29.5" y1="8.7" x2="31.3" y2="8.7" stroke="#888" stroke-width="0.6" />
<line x1="29.5" y1="20.55" x2="31.3" y2="20.55" stroke="#888" stroke-width="0.6" />
<line x1="29.5" y1="32.4" x2="31.3" y2="32.4" stroke="#888" stroke-width="0.6" />
<line x1="29.5" y1="44.25" x2="31.3" y2="44.25" stroke="#888" stroke-width="0.6" />
<line x1="29.5" y1="56.1" x2="31.3" y2="56.1" stroke="#888" stroke-width="0.6" />
<line x1="29.5" y1="67.95" x2="31.3" y2="67.95" stroke="#888" stroke-width="0.6" />
<line x1="29.5" y1="79.8" x2="31.3" y2="79.8" stroke="#888" stroke-width="0.6" />
<line x1="29.5" y1="91.65" x2="31.3" y2="91.65" stroke="#888" stroke-width="0.6" />
<line x1="29.5" y1="103.5" x2="31.3" y2="103.5" stroke="#888" stroke-width="0.6" />
<line x1="29.5" y1="115.35" x2="31.3" y2="115.35" stroke="#888" stroke-width="0.6" />
<line x1="29.5" y1="127.2" x2="31.3" y2="127.2" stroke="#888" stroke-width="0.6" />
<line x1="46.6" y1="125.4" x2="46.6" y2="127.2" stroke="#888" stroke-width="0.6" />
<line x1="87.15" y1="125.4" x2="87.15" y2="127.2" stroke="#888" stroke-width="0.6" />
<line x1="127.7" y1="125.4" x2="127.7" y2="127.2" stroke="#888" stroke-width="0.6" />
<line x1="168.25" y1="125.4" x2="168.25" y2="127.2" stroke="#888" stroke-width="0.6" />
<line x1="208.8" y1="125.4" x2="208.8" y2="127.2" stroke="#888" stroke-width="0.6" />
<line x1="249.35" y1="125.4" x2="249.35" y2="127.2" stroke="#888" stroke-width="0.6" />
<text x="27.4" y="11.3" font-size="7.5" text-anchor="end" font-family="'Liberation Serif', 'DejaVu Serif', serif" fill="#1a1a1a" stroke="#1a1a1a" stroke-width="0.1" letter-spacing="0.12" >10</text>
<text x="27.4" y="23.15" font-size="7.5" text-anchor="end" font-family="'Liberation Serif', 'DejaVu Serif', serif" fill="#1a1a1a" stroke="#1a1a1a" stroke-width="0.1" letter-spacing="0.12" >8</text>
<text x="27.4" y="35" font-size="7.5" text-anchor="end" font-family="'Liberation Serif', 'DejaVu Serif', serif" fill="#1a1a1a" stroke="#1a1a1a" stroke-width="0.1" letter-spacing="0.12" >6</text>
<text x="27.4" y="46.85" font-size="7.5" text-anchor="end" font-family="'Liberation Serif', 'DejaVu Serif', serif" fill="#1a1a1a" stroke="#1a1a1a" stroke-width="0.1" letter-spacing="0.12" >4</text>
<text x="27.4" y="58.7" font-size="7.5" text-anchor="end" font-family="'Liberation Serif', 'DejaVu Serif', serif" fill="#1a1a1a" stroke="#1a1a1a" stroke-width="0.1" letter-spacing="0.12" >2</text>
<text x="27.4" y="70.55" font-size="7.5" text-anchor="end" font-family="'Liberation Serif', 'DejaVu Serif', serif" fill="#1a1a1a" stroke="#1a1a1a" stroke-width="0.1" letter-spacing="0.12" >0</text>
<text x="27.4" y="82.4" font-size="7.5" text-anchor="end" font-family="'Liberation Serif', 'DejaVu Serif', serif" fill="#1a1a1a" stroke="#1a1a1a" stroke-width="0.1" letter-spacing="0.12" >&#8722;2</text>
<text x="27.4" y="94.25" font-size="7.5" text-anchor="end" font-family="'Liberation Serif', 'DejaVu Serif', serif" fill="#1a1a1a" stroke="#1a1a1a" stroke-width="0.1" letter-spacing="0.12" >&#8722;4</text>
<text x="27.4" y="106.1" font-size="7.5" text-anchor="end" font-family="'Liberation Serif', 'DejaVu Serif', serif" fill="#1a1a1a" stroke="#1a1a1a" stroke-width="0.1" letter-spacing="0.12" >&#8722;6</text>
<text x="27.4" y="117.95" font-size="7.5" text-anchor="end" font-family="'Liberation Serif', 'DejaVu Serif', serif" fill="#1a1a1a" stroke="#1a1a1a" stroke-width="0.1" letter-spacing="0.12" >&#8722;8</text>
<text x="27.4" y="129.8" font-size="7.5" text-anchor="end" font-family="'Liberation Serif', 'DejaVu Serif', serif" fill="#1a1a1a" stroke="#1a1a1a" stroke-width="0.1" letter-spacing="0.12" >&#8722;10</text>
<text x="46.6" y="137.1" font-size="7.5" text-anchor="middle" font-family="'Liberation Serif', 'DejaVu Serif', serif" fill="#1a1a1a" stroke="#1a1a1a" stroke-width="0.1" letter-spacing="0.12" >12</text>
<text x="87.15" y="137.1" font-size="7.5" text-anchor="middle" font-family="'Liberation Serif', 'DejaVu Serif', serif" fill="#1a1a1a" stroke="#1a1a1a" stroke-width="0.1" letter-spacing="0.12" >12.05</text>
<text x="127.7" y="137.1" font-size="7.5" text-anchor="middle" font-family="'Liberation Serif', 'DejaVu Serif', serif" fill="#1a1a1a" stroke="#1a1a1a" stroke-width="0.1" letter-spacing="0.12" >12.1</text>
<text x="168.25" y="137.1" font-size="7.5" text-anchor="middle" font-family="'Liberation Serif', 'DejaVu Serif', serif" fill="#1a1a1a" stroke="#1a1a1a" stroke-width="0.1" letter-spacing="0.12" >12.15</text>
<text x="208.8" y="137.1" font-size="7.5" text-anchor="middle" font-family="'Liberation Serif', 'DejaVu Serif', serif" fill="#1a1a1a" stroke="#1a1a1a" stroke-width="0.1" letter-spacing="0.12" >12.2</text>
<text x="249.35" y="137.1" font-size="7.5" text-anchor="middle" font-family="'Liberation Serif', 'DejaVu Serif', serif" fill="#1a1a1a" stroke="#1a1a1a" stroke-width="0.1" letter-spacing="0.12" >12.25</text>
<text x="0" y="0" font-size="7.2" text-anchor="middle" dominant-baseline="central" font-family="'Liberation Sans', 'DejaVu Sans', sans-serif" fill="#F0303A" transform="translate(40.4,120.4) rotate(-90)">E1</text>
<text x="0" y="0" font-size="7.2" text-anchor="middle" dominant-baseline="central" font-family="'Liberation Sans', 'DejaVu Sans', sans-serif" fill="#3F56C4" transform="translate(255.6,113.5) rotate(-90)">E2+E3</text>
<text x="147.3" y="146.9" font-size="9.4" text-anchor="middle" font-family="'Liberation Serif', 'DejaVu Serif', serif" fill="#1a1a1a" stroke="#1a1a1a" stroke-width="0.12" paint-order="stroke"><tspan font-style="italic">time</tspan> [s]</text>
<text x="0" y="0" font-size="10.4" text-anchor="middle" font-family="'Liberation Serif', 'DejaVu Serif', serif" fill="#1a1a1a" stroke="#1a1a1a" stroke-width="0.12" paint-order="stroke" transform="translate(9.7,67.5) rotate(-90)"><tspan font-style="italic">i</tspan>/<tspan font-style="italic">I</tspan><tspan font-style="italic" font-size="6.6" dy="2">out</tspan><tspan dy="-2"> [&#8722;]</tspan></text>
<rect x="199.6" y="54.5" width="45.4" height="29.2" fill="#fff" stroke="#666" stroke-width="0.7"/>
<line x1="201.7" y1="59.1" x2="216.6" y2="59.1" stroke="#0072BD" stroke-width="1.1" />
<text x="217.8" y="62" font-size="8.4" font-family="'Liberation Serif', 'DejaVu Serif', serif" fill="#1a1a1a" stroke="#1a1a1a" stroke-width="0.12" paint-order="stroke">Phase <tspan font-style="italic">a</tspan></text>
<line x1="201.7" y1="68.8" x2="216.6" y2="68.8" stroke="#D95319" stroke-width="1.1" />
<text x="217.8" y="71.7" font-size="8.4" font-family="'Liberation Serif', 'DejaVu Serif', serif" fill="#1a1a1a" stroke="#1a1a1a" stroke-width="0.12" paint-order="stroke">Phase <tspan font-style="italic">c</tspan></text>
<line x1="201.7" y1="78.5" x2="216.6" y2="78.5" stroke="#EDB120" stroke-width="1.1" />
<text x="217.8" y="81.4" font-size="8.4" font-family="'Liberation Serif', 'DejaVu Serif', serif" fill="#1a1a1a" stroke="#1a1a1a" stroke-width="0.12" paint-order="stroke">Phase <tspan font-style="italic">b</tspan></text>
<line x1="329.4" y1="9.7" x2="329.4" y2="126.2" stroke="#e2e2e2" stroke-width="0.8" />
<line x1="369.2" y1="9.7" x2="369.2" y2="126.2" stroke="#e2e2e2" stroke-width="0.8" />
<line x1="409" y1="9.7" x2="409" y2="126.2" stroke="#e2e2e2" stroke-width="0.8" />
<line x1="448.8" y1="9.7" x2="448.8" y2="126.2" stroke="#e2e2e2" stroke-width="0.8" />
<line x1="488.6" y1="9.7" x2="488.6" y2="126.2" stroke="#e2e2e2" stroke-width="0.8" />
<line x1="528.4" y1="9.7" x2="528.4" y2="126.2" stroke="#e2e2e2" stroke-width="0.8" />
<line x1="313.6" y1="9.7" x2="544.4" y2="9.7" stroke="#e2e2e2" stroke-width="0.8" />
<line x1="313.6" y1="24.26" x2="544.4" y2="24.26" stroke="#e2e2e2" stroke-width="0.8" />
<line x1="313.6" y1="38.83" x2="544.4" y2="38.83" stroke="#e2e2e2" stroke-width="0.8" />
<line x1="313.6" y1="53.39" x2="544.4" y2="53.39" stroke="#e2e2e2" stroke-width="0.8" />
<line x1="313.6" y1="67.95" x2="544.4" y2="67.95" stroke="#e2e2e2" stroke-width="0.8" />
<line x1="313.6" y1="82.51" x2="544.4" y2="82.51" stroke="#e2e2e2" stroke-width="0.8" />
<line x1="313.6" y1="97.08" x2="544.4" y2="97.08" stroke="#e2e2e2" stroke-width="0.8" />
<line x1="313.6" y1="111.64" x2="544.4" y2="111.64" stroke="#e2e2e2" stroke-width="0.8" />
<line x1="313.6" y1="126.2" x2="544.4" y2="126.2" stroke="#e2e2e2" stroke-width="0.8" />
<clipPath id="cTR"><rect x="313.6" y="7.699999999999999" width="230.79999999999995" height="118.5"/></clipPath>
<g clip-path="url(#cTR)">
<polygon points="313.6,26.88 329.6,26.88 329.6,109.02 313.6,109.02" fill="#EAAE22" />
<line x1="313.6" y1="67.95" x2="329.6" y2="67.95" stroke="#7E2F8E" stroke-width="1.3" />
<polygon points="329.6,42.32 332.97,39.91 336.34,39.62 339.71,39.34 343.08,39.05 346.45,38.76 349.82,38.48 353.19,38.19 356.56,37.9 359.93,37.62 363.29,37.33 366.66,37.05 370.03,36.76 373.4,36.47 376.77,36.19 380.14,35.9 383.51,35.71 386.88,35.51 390.25,35.32 393.62,35.12 396.99,34.92 400.36,34.71 403.73,34.41 407.1,34.1 410.47,33.79 413.84,33.49 417.21,33.18 420.58,32.87 423.95,32.57 427.32,32.26 430.68,31.95 434.05,31.79 437.42,31.7 440.79,31.62 444.16,31.54 447.53,31.46 450.9,31.38 454.27,31.29 457.64,31.21 461.01,31.13 464.38,31.05 467.75,30.97 471.12,30.89 474.49,30.8 477.86,30.72 481.23,30.66 484.6,30.64 487.97,30.62 491.34,30.6 494.71,30.58 498.07,30.56 501.44,30.54 504.81,30.52 508.18,30.5 511.55,30.48 514.92,30.46 518.29,30.44 521.66,30.42 525.03,30.4 528.4,30.38 528.4,106.1 525.03,106.06 521.66,106.02 518.29,105.98 514.92,105.94 511.55,105.9 508.18,105.86 504.81,105.82 501.44,105.78 498.07,105.74 494.71,105.7 491.34,105.66 487.97,105.62 484.6,105.58 481.23,105.54 477.86,105.46 474.49,105.35 471.12,105.25 467.75,105.15 464.38,105.05 461.01,104.95 457.64,104.84 454.27,104.74 450.9,104.64 447.53,104.54 444.16,104.43 440.79,104.33 437.42,104.23 434.05,104.13 430.68,103.95 427.32,103.65 423.95,103.34 420.58,103.04 417.21,102.74 413.84,102.44 410.47,102.14 407.1,101.83 403.73,101.53 400.36,101.23 396.99,100.93 393.62,100.63 390.25,100.32 386.88,100.02 383.51,99.72 380.14,99.42 376.77,99.09 373.4,98.76 370.03,98.44 366.66,98.11 363.29,97.78 359.93,97.46 356.56,97.13 353.19,96.8 349.82,96.47 346.45,96.15 343.08,95.82 339.71,95.49 336.34,95.17 332.97,94.84 329.6,93.58" fill="#BE6044" />
<polygon points="329.6,47.56 332.97,45.22 336.34,45 339.71,44.79 343.08,44.57 346.45,44.35 349.82,44.13 353.19,43.92 356.56,43.7 359.93,43.48 363.29,43.27 366.66,43.05 370.03,42.83 373.4,42.61 376.77,42.4 380.14,42.18 383.51,42.06 386.88,41.93 390.25,41.8 393.62,41.67 396.99,41.55 400.36,41.41 403.73,41.17 407.1,40.93 410.47,40.7 413.84,40.46 417.21,40.22 420.58,39.98 423.95,39.75 427.32,39.51 430.68,39.27 434.05,39.17 437.42,39.16 440.79,39.14 444.16,39.13 447.53,39.12 450.9,39.11 454.27,39.09 457.64,39.08 461.01,39.07 464.38,39.06 467.75,39.04 471.12,39.03 474.49,39.02 477.86,39.01 481.23,39.02 484.6,39.06 487.97,39.11 491.34,39.16 494.71,39.21 498.07,39.26 501.44,39.31 504.81,39.36 508.18,39.41 511.55,39.45 514.92,39.5 518.29,39.55 521.66,39.6 525.03,39.65 528.4,39.7 528.4,100.28 525.03,100.27 521.66,100.26 518.29,100.25 514.92,100.24 511.55,100.22 508.18,100.21 504.81,100.2 501.44,100.19 498.07,100.18 494.71,100.17 491.34,100.16 487.97,100.15 484.6,100.14 481.23,100.13 477.86,100.08 474.49,100 471.12,99.93 467.75,99.86 464.38,99.79 461.01,99.71 457.64,99.64 454.27,99.57 450.9,99.49 447.53,99.42 444.16,99.35 440.79,99.28 437.42,99.2 434.05,99.13 430.68,98.98 427.32,98.71 423.95,98.44 420.58,98.16 417.21,97.89 413.84,97.62 410.47,97.35 407.1,97.07 403.73,96.8 400.36,96.53 396.99,96.26 393.62,95.99 390.25,95.71 386.88,95.44 383.51,95.17 380.14,94.9 376.77,94.6 373.4,94.3 370.03,94 366.66,93.71 363.29,93.41 359.93,93.11 356.56,92.81 353.19,92.52 349.82,92.22 346.45,91.92 343.08,91.62 339.71,91.33 336.34,91.03 332.97,90.73 329.6,89.5" fill="#D25A2C" />
<polygon points="329.6,53.97 332.97,53.89 336.34,53.8 339.71,53.72 343.08,53.64 346.45,53.55 349.82,53.47 353.19,53.38 356.56,53.3 359.93,53.22 363.29,53.13 366.66,53.05 370.03,52.97 373.4,52.88 376.77,52.8 380.14,52.72 383.51,52.63 386.88,52.55 390.25,52.46 393.62,52.38 396.99,52.3 400.36,52.22 403.73,52.22 407.1,52.22 410.47,52.22 413.84,52.22 417.21,52.22 420.58,52.22 423.95,52.22 427.32,52.22 430.68,52.22 434.05,52.22 437.42,52.22 440.79,52.22 444.16,52.22 447.53,52.22 450.9,52.22 454.27,52.22 457.64,52.22 461.01,52.22 464.38,52.22 467.75,52.22 471.12,52.22 474.49,52.22 477.86,52.22 481.23,52.22 484.6,52.22 487.97,52.22 491.34,52.22 494.71,52.22 498.07,52.22 501.44,52.22 504.81,52.22 508.18,52.22 511.55,52.22 514.92,52.22 518.29,52.22 521.66,52.22 525.03,52.22 528.4,52.22 528.4,84.26 525.03,84.26 521.66,84.26 518.29,84.26 514.92,84.26 511.55,84.26 508.18,84.26 504.81,84.26 501.44,84.26 498.07,84.26 494.71,84.26 491.34,84.26 487.97,84.26 484.6,84.26 481.23,84.26 477.86,84.26 474.49,84.26 471.12,84.26 467.75,84.26 464.38,84.26 461.01,84.26 457.64,84.26 454.27,84.26 450.9,84.26 447.53,84.26 444.16,84.26 440.79,84.26 437.42,84.26 434.05,84.26 430.68,84.26 427.32,84.26 423.95,84.26 420.58,84.26 417.21,84.26 413.84,84.26 410.47,84.26 407.1,84.26 403.73,84.26 400.36,84.26 396.99,84.11 393.62,83.94 390.25,83.78 386.88,83.61 383.51,83.44 380.14,83.27 376.77,83.11 373.4,82.94 370.03,82.77 366.66,82.61 363.29,82.44 359.93,82.27 356.56,82.1 353.19,81.94 349.82,81.77 346.45,81.6 343.08,81.43 339.71,81.27 336.34,81.1 332.97,80.93 329.6,80.77" fill="#904082" />
<polygon points="329.6,56.3 332.97,56.3 336.34,56.3 339.71,56.3 343.08,56.3 346.45,56.3 349.82,56.3 353.19,56.3 356.56,56.3 359.93,56.3 363.29,56.3 366.66,56.3 370.03,56.3 373.4,56.3 376.77,56.3 380.14,56.3 383.51,56.3 386.88,56.3 390.25,56.3 393.62,56.3 396.99,56.3 400.36,56.3 403.73,56.3 407.1,56.3 410.47,56.3 413.84,56.3 417.21,56.3 420.58,56.3 423.95,56.3 427.32,56.3 430.68,56.3 434.05,56.3 437.42,56.3 440.79,56.3 444.16,56.3 447.53,56.3 450.9,56.3 454.27,56.3 457.64,56.3 461.01,56.3 464.38,56.3 467.75,56.3 471.12,56.3 474.49,56.3 477.86,56.3 481.23,56.3 484.6,56.3 487.97,56.3 491.34,56.3 494.71,56.3 498.07,56.3 501.44,56.3 504.81,56.3 508.18,56.3 511.55,56.3 514.92,56.3 518.29,56.3 521.66,56.3 525.03,56.3 528.4,56.3 528.4,79.02 525.03,79 521.66,78.99 518.29,78.97 514.92,78.96 511.55,78.94 508.18,78.93 504.81,78.91 501.44,78.9 498.07,78.88 494.71,78.86 491.34,78.85 487.97,78.83 484.6,78.82 481.23,78.8 477.86,78.79 474.49,78.77 471.12,78.76 467.75,78.74 464.38,78.73 461.01,78.71 457.64,78.7 454.27,78.68 450.9,78.67 447.53,78.65 444.16,78.64 440.79,78.62 437.42,78.6 434.05,78.59 430.68,78.57 427.32,78.56 423.95,78.54 420.58,78.53 417.21,78.51 413.84,78.5 410.47,78.48 407.1,78.47 403.73,78.45 400.36,78.44 396.99,78.34 393.62,78.22 390.25,78.11 386.88,78 383.51,77.89 380.14,77.78 376.77,77.67 373.4,77.55 370.03,77.44 366.66,77.33 363.29,77.22 359.93,77.11 356.56,77 353.19,76.89 349.82,76.77 346.45,76.66 343.08,76.55 339.71,76.44 336.34,76.33 332.97,76.22 329.6,76.11" fill="#80338F" />
<path d="M330.3 42.34V46.53M331.3 44.86V53.93M336.3 39.9V48.42M337.3 39.7V46.14M347.3 41.01V53.53M348.3 38.91V48.59M350.3 38.5V49.58M356.3 38.17V46.43M357.3 47.6V53.28M360.3 38V44.23M362.3 48.43V53.16M365.3 43.97V53.08M374.3 36.95V43.28M376.3 36.67V49.15M378.3 36.76V50.07M380.3 42.93V52.71M387.3 46.76V52.54M389.3 45.32V52.49M391.3 45.12V52.44M398.3 37.34V52.27M402.3 35.2V45.1M405.3 42.98V52.22M407.3 40.38V52.22M410.3 39.95V52.22M414.3 33.86V52.22M415.3 40.53V52.22M416.3 33.9V40.13M417.3 35.98V52.22M418.3 33.35V45.89M419.3 42.46V52.22M425.3 43.38V52.22M426.3 32.97V42.76M427.3 38.02V52.22M429.3 35.35V52.22M430.3 32.45V42.95M431.3 32.47V43.71M432.3 32.65V47.96M433.3 32.55V43.42M434.3 46.02V52.22M436.3 36.95V52.22M440.3 45.88V52.22M441.3 32.09V52.03M448.3 42.56V52.22M452.3 31.56V46.32M453.3 32.6V52.22M455.3 45.31V52.22M458.3 37.02V52.22M460.3 31.23V39.73M461.3 34.83V52.22M462.3 31.53V47.46M464.3 32.78V52.22M468.3 31.59V44.85M469.3 31.72V39.03M475.3 30.96V44.22M479.3 31.23V50.28M482.3 33.57V52.22M487.3 31.18V47.08M489.3 31.28V44.92M495.3 44.41V52.22M500.3 34.18V52.22M503.3 34.37V52.22M504.3 31.19V44.33M506.3 31.01V42.47M508.3 41.37V52.22M511.3 38.23V52.22M512.3 40.9V52.22M513.3 30.84V51.25M516.3 33.03V52.22M522.3 30.43V48.52M523.3 30.88V51.12M524.3 30.92V50.34M527.3 44V52.22" stroke="#EA5A1E" stroke-opacity="0.45" stroke-width="0.7" fill="none"/>
<path d="M332.3 49.27V53.9M333.3 47.57V53.88M334.3 42.63V53.85M338.3 39.89V50.45M339.3 48.28V53.73M340.3 40.08V48.12M341.3 39.88V45.66M342.3 45.72V53.65M343.3 44.85V53.63M344.3 39.39V53.61M346.3 45.26V53.56M349.3 39.47V53.48M351.3 39.1V50.19M353.3 38.44V47.3M354.3 38.57V48.37M355.3 48.11V53.33M358.3 43.72V53.26M361.3 37.61V52.32M363.3 37.66V50.13M364.3 44.11V53.11M366.3 37.13V48.73M367.3 39.5V53.03M368.3 46.15V53.01M371.3 39.92V52.93M372.3 36.69V46.37M373.3 48.15V52.89M375.3 37.91V52.84M377.3 38.66V52.79M382.3 36.09V44.51M384.3 36.06V41.46M385.3 36.35V50.87M390.3 36.66V52.46M393.3 35.26V41.19M394.3 41.37V52.36M395.3 39.62V52.34M396.3 36.57V52.31M397.3 44.55V52.29M400.3 35.44V49.72M401.3 36.44V52.22M403.3 34.81V41.56M404.3 43.59V52.22M406.3 34.18V50.81M411.3 34.5V42.14M412.3 44V52.22M420.3 33.33V40.88M422.3 33.01V48.16M424.3 36.89V52.22M437.3 32.02V46.81M438.3 33.2V52.22M439.3 44.72V52.22M442.3 39.29V52.22M446.3 33.62V52.22M447.3 31.51V47.59M449.3 31.47V47.33M451.3 38.18V52.22M454.3 31.69V50.13M456.3 45.87V52.22M457.3 44.33V52.22M463.3 32.7V52.22M472.3 30.97V40.05M473.3 34.06V52.22M474.3 31.03V51.31M477.3 37.76V52.22M480.3 33.05V52.22M485.3 31.43V47.95M486.3 37.52V52.22M488.3 45.26V52.22M494.3 30.59V37.53M496.3 31.19V51.95M497.3 30.85V52.22M498.3 31.65V52.22M501.3 38.76V52.22M505.3 30.71V41.57M507.3 30.55V44.8M509.3 37.28V52.22M510.3 31.19V48.76M515.3 30.51V41.75M518.3 30.61V40.38M519.3 30.63V46.85M520.3 31.48V52.22M521.3 30.52V41.45M525.3 39.57V52.22M526.3 34.69V52.22" stroke="#6a6a90" stroke-opacity="0.3" stroke-width="0.7" fill="none"/>
<path d="M335.3 40.2V46.73M345.3 39.21V50.82M352.3 39.9V53.41M359.3 37.8V46.63M369.3 37.46V46.09M370.3 45.6V52.96M379.3 36.06V47.81M381.3 35.95V51.13M383.3 37.71V52.64M386.3 42.11V52.56M388.3 36.29V52.51M392.3 35.38V41.36M399.3 40.88V52.25M408.3 34.28V45.33M409.3 37.03V52.22M413.3 37.66V52.22M421.3 33.03V45.36M423.3 39.26V52.22M428.3 35.81V52.22M435.3 32.1V45.63M443.3 32V51.42M444.3 31.98V43.74M445.3 32.22V43.33M450.3 31.43V45.37M459.3 31.41V45.22M465.3 43.34V52.22M466.3 31.51V51.17M467.3 35.55V52.22M470.3 31.13V40.65M471.3 31.42V51.46M476.3 45.47V52.22M478.3 39.31V52.22M481.3 35.99V52.22M483.3 31.4V48.34M484.3 30.98V45.54M490.3 31.29V49.24M491.3 37.52V52.22M492.3 30.84V47.86M493.3 30.6V39.25M499.3 30.96V43.96M502.3 39.93V52.22M514.3 43.44V52.22M517.3 30.78V46.66" stroke="#ffffff" stroke-opacity="0.12" stroke-width="0.7" fill="none"/>
<path d="M330.3 80.8V93.18M331.3 85.26V93.96M332.3 80.9V85.59M333.3 84.94V94.75M335.3 81.05V86.19M336.3 86.14V95.11M339.3 89.73V95.01M340.3 90.89V95.2M341.3 89.17V95.28M342.3 81.4V91.85M343.3 86.93V95.22M346.3 84V95.58M349.3 89.58V95.65M351.3 81.84V94.09M354.3 81.99V90.89M355.3 82.04V92.1M358.3 82.19V92.53M363.3 88.9V97.16M365.3 87.87V97.21M369.3 82.74V88.48M371.3 82.84V90.55M376.3 89.74V98.77M380.3 93.12V98.76M385.3 89.51V99.51M387.3 83.63V94.09M402.3 84.26V95.02M405.3 84.26V97.25M406.3 84.26V95.67M408.3 84.26V97M409.3 84.26V100.07M411.3 93.75V101.5M420.3 85.16V102.26M423.3 87.28V103.21M427.3 94.12V103.47M428.3 84.26V92.1M430.3 96.25V103.68M432.3 85.47V103.86M439.3 84.26V96.51M443.3 89.93V104.32M448.3 93.11V104.39M450.3 84.26V92.18M457.3 84.26V101.37M459.3 87.65V104.68M463.3 84.26V103.1M466.3 84.26V93.34M468.3 84.26V96.71M475.3 84.26V96.1M478.3 91.69V104.68M480.3 85.11V105.49M482.3 84.26V100.97M485.3 94.71V105.53M486.3 84.26V91.67M487.3 94.49V105.05M488.3 84.26V100.06M491.3 86.63V105.64M494.3 86.36V105.51M502.3 84.26V98.22M504.3 84.26V101.67M506.3 84.26V103.83M507.3 89.57V105.5M509.3 84.26V99.03M510.3 97.92V105.17M511.3 84.26V102.28M512.3 90.84V105.67M515.3 84.26V99.55M520.3 91.1V105.69M522.3 92.45V105.76M523.3 93.45V105.6M524.3 95.51V105.99" stroke="#EA5A1E" stroke-opacity="0.45" stroke-width="0.7" fill="none"/>
<path d="M334.3 87.62V94.21M337.3 82.23V94.84M345.3 86.36V95.88M347.3 88.92V95.92M350.3 81.79V86.26M357.3 82.14V90.17M360.3 82.29V94.7M362.3 85.86V97.28M368.3 91.36V97.52M377.3 84.93V98.54M378.3 86.11V98.81M379.3 86.5V98.91M382.3 93.97V99.43M386.3 94.25V99.54M388.3 83.68V95.25M392.3 83.88V97.11M399.3 84.45V101.08M404.3 84.26V96.52M418.3 84.26V100M421.3 92.65V103M424.3 84.36V103.3M425.3 84.26V102.72M437.3 84.26V93.22M447.3 85.56V104.08M451.3 84.26V100.03M464.3 84.26V102.59M470.3 94.39V105.13M472.3 89.83V105.04M474.3 93.2V104.67M476.3 85.56V104.96M479.3 84.47V104.85M483.3 84.26V97.03M484.3 84.26V90.9M500.3 89.71V105.09M514.3 85.57V105.82M518.3 97.63V105.63M527.3 84.26V98.86" stroke="#ffffff" stroke-opacity="0.12" stroke-width="0.7" fill="none"/>
<path d="M338.3 81.2V90.61M344.3 81.49V94.46M348.3 81.69V90.98M352.3 90.35V96.36M353.3 83.96V96.74M356.3 86.08V96.42M359.3 86.52V96.62M361.3 82.34V88.58M364.3 85.35V97.84M366.3 82.59V87.19M367.3 84.09V97.67M370.3 82.79V91.72M372.3 82.88V94.83M373.3 90.88V98.48M374.3 88.94V98.83M375.3 83.26V98.5M381.3 83.33V98.38M383.3 88.14V98.95M384.3 83.48V93.64M389.3 83.73V91.42M390.3 85.72V100.06M391.3 83.83V97.09M393.3 89.96V99.87M394.3 83.98V89.19M395.3 84.03V99.33M396.3 84.08V99.63M397.3 93.79V100.18M398.3 85.08V100.8M400.3 94.64V100.49M401.3 91.1V100.78M403.3 84.26V91.5M407.3 84.26V96.18M410.3 84.26V98.09M412.3 91.53V101.51M413.3 86.9V102M414.3 88.62V102.28M415.3 93.09V102.45M416.3 84.26V91.25M417.3 90.59V101.97M419.3 84.26V96.23M422.3 84.26V91.97M426.3 87.23V102.79M429.3 84.94V103.79M431.3 92.92V103.61M433.3 84.26V95.06M434.3 84.26V98.08M435.3 96.07V103.84M436.3 84.26V90.62M438.3 97.36V103.76M440.3 84.26V97.63M441.3 86.43V103.65M442.3 84.26V98.16M444.3 84.26V93.85M445.3 84.26V102.88M446.3 97.81V104.09M449.3 86.85V103.81M452.3 94.23V104.11M453.3 84.26V104.01M454.3 84.26V94.86M455.3 84.26V100.01M456.3 94.44V104.51M458.3 91.58V104.2M460.3 89.66V104.39M461.3 91.26V104.46M462.3 84.26V95.42M465.3 93.44V104.9M467.3 84.26V100.93M469.3 84.26V103.33M471.3 97.34V104.6M473.3 90.53V104.99M477.3 84.26V92.98M481.3 84.26V94.11M489.3 84.26V104.7M490.3 84.26V93.5M492.3 98.61V104.91M493.3 84.26V92.5M495.3 95.16V105.58M496.3 87.9V104.93M497.3 90.7V105.34M498.3 84.26V103.45M499.3 91.84V105.26M501.3 84.26V99.61M503.3 92.57V105.72M505.3 97.41V105.81M508.3 88.05V105.37M513.3 84.26V96.7M516.3 84.26V103.82M517.3 84.26V91.79M519.3 84.26V97.31M521.3 92.7V105.39M525.3 84.46V105.71M526.3 84.26V95.52" stroke="#6a6a90" stroke-opacity="0.3" stroke-width="0.7" fill="none"/>
<path d="M330.3 53.95V63.58M333.3 73.77V80.95M336.3 73.12V81.1M340.3 53.7V59.79M342.3 72.36V81.4M343.3 53.63V59.85M359.3 53.23V61.77M364.3 53.11V62.11M374.3 52.86V58.05M380.3 74.03V83.28M381.3 52.69V64.62M390.3 73.97V83.78M392.3 74.5V83.88M396.3 52.31V60.56M414.3 70.98V84.26M419.3 75.86V84.26M425.3 52.22V66.09M430.3 52.22V58.87M433.3 76.77V84.26M437.3 70.99V84.26M444.3 52.22V58.68M445.3 52.22V60.23M460.3 52.22V58.21M461.3 52.22V65.5M463.3 52.22V63.74M465.3 71.01V84.26M468.3 77.24V84.26M469.3 52.22V66.28M470.3 78.43V84.26M473.3 75.45V84.26M477.3 72.86V84.26M479.3 74.91V84.26M492.3 52.22V63.86M499.3 52.22V61.9M504.3 70.28V84.26M507.3 71.51V84.26M509.3 52.22V61.55M513.3 76.78V84.26M514.3 52.22V63.8M516.3 52.22V62.35M517.3 72.91V84.26M519.3 52.22V66.19M526.3 75.42V84.26" stroke="#D05030" stroke-opacity="0.25" stroke-width="0.7" fill="none"/>
<path d="M331.3 73.97V80.85M334.3 71.04V81M337.3 74.56V81.15M339.3 53.73V62.95M341.3 53.68V64.36M344.3 71.7V81.49M347.3 53.53V62.23M349.3 53.48V58.79M351.3 53.43V66.02M356.3 69.42V82.09M357.3 53.28V62.61M358.3 53.26V60.84M361.3 75.14V82.34M363.3 53.13V59.14M365.3 53.08V61.97M366.3 53.06V60.14M367.3 70.79V82.64M369.3 52.98V60.38M370.3 74.64V82.79M371.3 52.93V65.15M378.3 72.52V83.18M379.3 52.74V58.43M384.3 52.61V63.88M385.3 52.59V58.82M387.3 52.54V60.36M388.3 52.51V57.81M393.3 52.39V64.14M395.3 52.34V61.01M398.3 75.51V84.17M399.3 76.98V84.21M400.3 52.22V60.55M408.3 74.31V84.26M412.3 52.22V61.06M413.3 52.22V57.16M415.3 52.22V59.77M417.3 52.22V63.67M418.3 52.22V65.83M421.3 74.38V84.26M422.3 52.22V59.59M426.3 76.66V84.26M427.3 77.87V84.26M432.3 52.22V60.3M434.3 52.22V58.38M435.3 78.77V84.26M446.3 78.76V84.26M447.3 73.15V84.26M450.3 52.22V57.54M452.3 78.85V84.26M454.3 52.22V62.23M456.3 74.78V84.26M457.3 76.29V84.26M458.3 73.28V84.26M464.3 75.71V84.26M471.3 76.05V84.26M480.3 52.22V57.28M482.3 76.37V84.26M483.3 72.77V84.26M485.3 77.63V84.26M486.3 52.22V61.38M489.3 75.39V84.26M490.3 52.22V65.08M491.3 76.44V84.26M494.3 52.22V65.16M495.3 77.62V84.26M502.3 52.22V63.92M503.3 52.22V57.14M505.3 79.25V84.26M506.3 75.1V84.26M508.3 69.87V84.26M510.3 52.22V66.63M511.3 52.22V59.92M512.3 52.22V61.85M518.3 52.22V58.08M525.3 75.41V84.26" stroke="#6a2078" stroke-opacity="0.35" stroke-width="0.7" fill="none"/>
<path d="M332.3 53.9V65.12M335.3 53.83V63.81M338.3 71.07V81.2M345.3 53.58V65.15M346.3 76.8V81.59M348.3 76.28V81.69M350.3 69.18V81.79M352.3 53.41V63.8M353.3 73.32V81.94M354.3 53.36V61.32M355.3 74.71V82.04M360.3 73.66V82.29M362.3 53.16V62.5M368.3 78.1V82.69M372.3 75.3V82.88M373.3 52.89V62.61M375.3 71.2V83.03M376.3 52.81V62.76M377.3 52.79V59.98M382.3 72.33V83.38M383.3 71.7V83.43M386.3 74.39V83.58M389.3 77.64V83.73M391.3 52.44V63.41M394.3 74.19V83.98M397.3 52.29V63.45M401.3 72.08V84.26M402.3 52.22V60.93M403.3 78.55V84.26M404.3 72.13V84.26M405.3 52.22V59.68M406.3 76.36V84.26M407.3 76.52V84.26M409.3 52.22V66.15M410.3 52.22V62.65M411.3 71.12V84.26M416.3 77.07V84.26M420.3 52.22V64.13M423.3 75.45V84.26M424.3 52.22V61.25M428.3 70.06V84.26M429.3 77.62V84.26M431.3 52.22V63.62M436.3 52.22V64.41M438.3 76.53V84.26M439.3 52.22V66.13M440.3 71.51V84.26M441.3 77.63V84.26M442.3 70.52V84.26M443.3 70.85V84.26M448.3 52.22V65.28M449.3 78.74V84.26M451.3 52.22V61.5M453.3 71.69V84.26M455.3 79.07V84.26M459.3 52.22V62.84M462.3 52.22V59M466.3 77.86V84.26M467.3 76.48V84.26M472.3 52.22V63.86M474.3 52.22V60.2M475.3 52.22V60.05M476.3 52.22V58.75M478.3 72.25V84.26M481.3 73.81V84.26M484.3 52.22V61.3M487.3 52.22V65.57M488.3 75.9V84.26M493.3 52.22V63.25M496.3 52.22V57.21M497.3 52.22V57.32M498.3 74.97V84.26M500.3 70.69V84.26M501.3 73.84V84.26M515.3 73.7V84.26M520.3 52.22V65.96M521.3 71.88V84.26M522.3 52.22V57.87M523.3 52.22V64.89M524.3 72.72V84.26M527.3 52.22V66.18" stroke="#9a4aa8" stroke-opacity="0.35" stroke-width="0.7" fill="none"/>
<path d="M314.1 65.54V109.02M318.1 26.88V61.26M320.1 79.82V109.02M324.1 47.95V109.02M325.1 53.88V109.02M327.1 45.66V109.02M328.1 60.76V109.02M329.1 26.88V54.65" stroke="#D06818" stroke-opacity="0.2" stroke-width="0.7" fill="none"/>
<path d="M315.1 73.39V109.02M316.1 26.88V83.64M317.1 71.9V109.02M322.1 59.17V109.02M323.1 73.12V109.02" stroke="#E08A1A" stroke-opacity="0.3" stroke-width="0.7" fill="none"/>
<path d="M319.1 80.79V109.02M321.1 26.88V71.1M326.1 83.8V109.02" stroke="#F5C040" stroke-opacity="0.3" stroke-width="0.7" fill="none"/>
<line x1="313.6" y1="67.95" x2="329.6" y2="67.95" stroke="#7E2F8E" stroke-width="1.3" />
<line x1="528.4" y1="67.95" x2="544.4" y2="67.95" stroke="#7E2F8E" stroke-width="1.3" />
</g>
<line x1="329.4" y1="9.7" x2="329.4" y2="126.2" stroke="#F18672" stroke-width="1.2" stroke-dasharray="2.2,2.6" stroke-dashoffset="0.4"/>
<line x1="528.4" y1="9.7" x2="528.4" y2="126.2" stroke="#6474D6" stroke-width="1.0" stroke-dasharray="2.2,2.6" stroke-dashoffset="0.4"/>
<line x1="313.6" y1="9.7" x2="313.6" y2="126.6" stroke="#9a9a9a" stroke-width="0.8" />
<line x1="313.2" y1="126.2" x2="544.4" y2="126.2" stroke="#9a9a9a" stroke-width="0.85" />
<line x1="313.6" y1="9.7" x2="315.4" y2="9.7" stroke="#888" stroke-width="0.6" />
<line x1="313.6" y1="24.26" x2="315.4" y2="24.26" stroke="#888" stroke-width="0.6" />
<line x1="313.6" y1="38.83" x2="315.4" y2="38.83" stroke="#888" stroke-width="0.6" />
<line x1="313.6" y1="53.39" x2="315.4" y2="53.39" stroke="#888" stroke-width="0.6" />
<line x1="313.6" y1="67.95" x2="315.4" y2="67.95" stroke="#888" stroke-width="0.6" />
<line x1="313.6" y1="82.51" x2="315.4" y2="82.51" stroke="#888" stroke-width="0.6" />
<line x1="313.6" y1="97.08" x2="315.4" y2="97.08" stroke="#888" stroke-width="0.6" />
<line x1="313.6" y1="111.64" x2="315.4" y2="111.64" stroke="#888" stroke-width="0.6" />
<line x1="313.6" y1="126.2" x2="315.4" y2="126.2" stroke="#888" stroke-width="0.6" />
<line x1="329.4" y1="124.4" x2="329.4" y2="126.2" stroke="#888" stroke-width="0.6" />
<line x1="369.2" y1="124.4" x2="369.2" y2="126.2" stroke="#888" stroke-width="0.6" />
<line x1="409" y1="124.4" x2="409" y2="126.2" stroke="#888" stroke-width="0.6" />
<line x1="448.8" y1="124.4" x2="448.8" y2="126.2" stroke="#888" stroke-width="0.6" />
<line x1="488.6" y1="124.4" x2="488.6" y2="126.2" stroke="#888" stroke-width="0.6" />
<line x1="528.4" y1="124.4" x2="528.4" y2="126.2" stroke="#888" stroke-width="0.6" />
<text x="311.2" y="12.3" font-size="7.5" text-anchor="end" font-family="'Liberation Serif', 'DejaVu Serif', serif" fill="#1a1a1a" stroke="#1a1a1a" stroke-width="0.1" letter-spacing="0.12" >1</text>
<text x="311.2" y="26.86" font-size="7.5" text-anchor="end" font-family="'Liberation Serif', 'DejaVu Serif', serif" fill="#1a1a1a" stroke="#1a1a1a" stroke-width="0.1" letter-spacing="0.12" >0.75</text>
<text x="311.2" y="41.43" font-size="7.5" text-anchor="end" font-family="'Liberation Serif', 'DejaVu Serif', serif" fill="#1a1a1a" stroke="#1a1a1a" stroke-width="0.1" letter-spacing="0.12" >0.5</text>
<text x="311.2" y="55.99" font-size="7.5" text-anchor="end" font-family="'Liberation Serif', 'DejaVu Serif', serif" fill="#1a1a1a" stroke="#1a1a1a" stroke-width="0.1" letter-spacing="0.12" >0.25</text>
<text x="311.2" y="70.55" font-size="7.5" text-anchor="end" font-family="'Liberation Serif', 'DejaVu Serif', serif" fill="#1a1a1a" stroke="#1a1a1a" stroke-width="0.1" letter-spacing="0.12" >0</text>
<text x="311.2" y="85.11" font-size="7.5" text-anchor="end" font-family="'Liberation Serif', 'DejaVu Serif', serif" fill="#1a1a1a" stroke="#1a1a1a" stroke-width="0.1" letter-spacing="0.12" >&#8722;0.25</text>
<text x="311.2" y="99.67" font-size="7.5" text-anchor="end" font-family="'Liberation Serif', 'DejaVu Serif', serif" fill="#1a1a1a" stroke="#1a1a1a" stroke-width="0.1" letter-spacing="0.12" >&#8722;0.5</text>
<text x="311.2" y="114.24" font-size="7.5" text-anchor="end" font-family="'Liberation Serif', 'DejaVu Serif', serif" fill="#1a1a1a" stroke="#1a1a1a" stroke-width="0.1" letter-spacing="0.12" >&#8722;0.75</text>
<text x="311.2" y="128.8" font-size="7.5" text-anchor="end" font-family="'Liberation Serif', 'DejaVu Serif', serif" fill="#1a1a1a" stroke="#1a1a1a" stroke-width="0.1" letter-spacing="0.12" >&#8722;1</text>
<text x="329.4" y="135.3" font-size="7.5" text-anchor="middle" font-family="'Liberation Serif', 'DejaVu Serif', serif" fill="#1a1a1a" stroke="#1a1a1a" stroke-width="0.1" letter-spacing="0.12" >12</text>
<text x="369.2" y="135.3" font-size="7.5" text-anchor="middle" font-family="'Liberation Serif', 'DejaVu Serif', serif" fill="#1a1a1a" stroke="#1a1a1a" stroke-width="0.1" letter-spacing="0.12" >12.05</text>
<text x="409" y="135.3" font-size="7.5" text-anchor="middle" font-family="'Liberation Serif', 'DejaVu Serif', serif" fill="#1a1a1a" stroke="#1a1a1a" stroke-width="0.1" letter-spacing="0.12" >12.1</text>
<text x="448.8" y="135.3" font-size="7.5" text-anchor="middle" font-family="'Liberation Serif', 'DejaVu Serif', serif" fill="#1a1a1a" stroke="#1a1a1a" stroke-width="0.1" letter-spacing="0.12" >12.15</text>
<text x="488.6" y="135.3" font-size="7.5" text-anchor="middle" font-family="'Liberation Serif', 'DejaVu Serif', serif" fill="#1a1a1a" stroke="#1a1a1a" stroke-width="0.1" letter-spacing="0.12" >12.2</text>
<text x="528.4" y="135.3" font-size="7.5" text-anchor="middle" font-family="'Liberation Serif', 'DejaVu Serif', serif" fill="#1a1a1a" stroke="#1a1a1a" stroke-width="0.1" letter-spacing="0.12" >12.25</text>
<text x="0" y="0" font-size="7.2" text-anchor="middle" dominant-baseline="central" font-family="'Liberation Sans', 'DejaVu Sans', sans-serif" fill="#F0303A" transform="translate(324.2,119.8) rotate(-90)">E1</text>
<text x="0" y="0" font-size="7.2" text-anchor="middle" dominant-baseline="central" font-family="'Liberation Sans', 'DejaVu Sans', sans-serif" fill="#3F56C4" transform="translate(534.9,112.6) rotate(-90)">E2+E3</text>
<text x="428.8" y="145" font-size="9.4" text-anchor="middle" font-family="'Liberation Serif', 'DejaVu Serif', serif" fill="#1a1a1a" stroke="#1a1a1a" stroke-width="0.12" paint-order="stroke"><tspan font-style="italic">time</tspan> [s]</text>
<text x="0" y="0" font-size="10.4" text-anchor="middle" font-family="'Liberation Serif', 'DejaVu Serif', serif" fill="#1a1a1a" stroke="#1a1a1a" stroke-width="0.12" paint-order="stroke" transform="translate(289.6,67.7) rotate(-90)"><tspan font-style="italic">V</tspan>/<tspan font-style="italic">V</tspan><tspan font-style="italic" font-size="6.6" dy="2">DC</tspan><tspan dy="-2"> [&#8722;]</tspan></text>
<rect x="332" y="95" width="40.2" height="30.9" fill="#fff" stroke="#666" stroke-width="0.7"/>
<line x1="334" y1="99.8" x2="348.7" y2="99.8" stroke="#0072BD" stroke-width="1.1" />
<text x="349.9" y="102" font-size="6.5" font-family="'Liberation Serif', 'DejaVu Serif', serif" fill="#111" stroke="#111" stroke-width="0.12" paint-order="stroke">Phase <tspan font-style="italic">c</tspan></text>
<line x1="334" y1="107" x2="348.7" y2="107" stroke="#D95319" stroke-width="1.1" />
<text x="349.9" y="109.2" font-size="6.5" font-family="'Liberation Serif', 'DejaVu Serif', serif" fill="#111" stroke="#111" stroke-width="0.12" paint-order="stroke">Phase <tspan font-style="italic">b</tspan></text>
<line x1="334" y1="114.2" x2="348.7" y2="114.2" stroke="#EDB120" stroke-width="1.1" />
<text x="349.9" y="116.4" font-size="6.5" font-family="'Liberation Serif', 'DejaVu Serif', serif" fill="#111" stroke="#111" stroke-width="0.12" paint-order="stroke">Phase <tspan font-style="italic">a</tspan></text>
<line x1="334" y1="121.4" x2="348.7" y2="121.4" stroke="#7E2F8E" stroke-width="1.1" />
<text x="349.9" y="123.6" font-size="6.5" font-family="'Liberation Serif', 'DejaVu Serif', serif" fill="#111" stroke="#111" stroke-width="0.12" paint-order="stroke">Neutral</text>
<line x1="30" y1="154.4" x2="30" y2="276" stroke="#e2e2e2" stroke-width="0.8" />
<line x1="78" y1="154.4" x2="78" y2="276" stroke="#e2e2e2" stroke-width="0.8" />
<line x1="126" y1="154.4" x2="126" y2="276" stroke="#e2e2e2" stroke-width="0.8" />
<line x1="30" y1="154.4" x2="126" y2="154.4" stroke="#e2e2e2" stroke-width="0.8" />
<line x1="30" y1="166.56" x2="126" y2="166.56" stroke="#e2e2e2" stroke-width="0.8" />
<line x1="30" y1="178.72" x2="126" y2="178.72" stroke="#e2e2e2" stroke-width="0.8" />
<line x1="30" y1="190.88" x2="126" y2="190.88" stroke="#e2e2e2" stroke-width="0.8" />
<line x1="30" y1="203.04" x2="126" y2="203.04" stroke="#e2e2e2" stroke-width="0.8" />
<line x1="30" y1="215.2" x2="126" y2="215.2" stroke="#e2e2e2" stroke-width="0.8" />
<line x1="30" y1="227.36" x2="126" y2="227.36" stroke="#e2e2e2" stroke-width="0.8" />
<line x1="30" y1="239.52" x2="126" y2="239.52" stroke="#e2e2e2" stroke-width="0.8" />
<line x1="30" y1="251.68" x2="126" y2="251.68" stroke="#e2e2e2" stroke-width="0.8" />
<line x1="30" y1="263.84" x2="126" y2="263.84" stroke="#e2e2e2" stroke-width="0.8" />
<line x1="30" y1="276" x2="126" y2="276" stroke="#e2e2e2" stroke-width="0.8" />
<line x1="160.6" y1="154.4" x2="160.6" y2="276" stroke="#e2e2e2" stroke-width="0.8" />
<line x1="208.65" y1="154.4" x2="208.65" y2="276" stroke="#e2e2e2" stroke-width="0.8" />
<line x1="256.7" y1="154.4" x2="256.7" y2="276" stroke="#e2e2e2" stroke-width="0.8" />
<line x1="160.6" y1="154.4" x2="256.7" y2="154.4" stroke="#e2e2e2" stroke-width="0.8" />
<line x1="160.6" y1="166.56" x2="256.7" y2="166.56" stroke="#e2e2e2" stroke-width="0.8" />
<line x1="160.6" y1="178.72" x2="256.7" y2="178.72" stroke="#e2e2e2" stroke-width="0.8" />
<line x1="160.6" y1="190.88" x2="256.7" y2="190.88" stroke="#e2e2e2" stroke-width="0.8" />
<line x1="160.6" y1="203.04" x2="256.7" y2="203.04" stroke="#e2e2e2" stroke-width="0.8" />
<line x1="160.6" y1="215.2" x2="256.7" y2="215.2" stroke="#e2e2e2" stroke-width="0.8" />
<line x1="160.6" y1="227.36" x2="256.7" y2="227.36" stroke="#e2e2e2" stroke-width="0.8" />
<line x1="160.6" y1="239.52" x2="256.7" y2="239.52" stroke="#e2e2e2" stroke-width="0.8" />
<line x1="160.6" y1="251.68" x2="256.7" y2="251.68" stroke="#e2e2e2" stroke-width="0.8" />
<line x1="160.6" y1="263.84" x2="256.7" y2="263.84" stroke="#e2e2e2" stroke-width="0.8" />
<line x1="160.6" y1="276" x2="256.7" y2="276" stroke="#e2e2e2" stroke-width="0.8" />
<clipPath id="cBL1"><rect x="30" y="150" width="96.5" height="126"/></clipPath>
<g clip-path="url(#cBL1)">
<polyline points="30,213.54 30.2,214.07 30.4,214.63 30.6,215.2 30.8,215.77 31,216.33 31.2,216.86 31.4,217.34 31.6,217.78 31.8,218.15 32,218.45 32.2,218.67 32.4,218.8 32.6,218.85 32.8,218.8 33,218.67 33.2,218.45 33.4,218.15 33.6,217.78 33.8,217.34 34,216.86 34.2,216.33 34.4,215.77 34.6,215.2 34.8,214.63 35,214.07 35.2,213.54 35.4,213.06 35.6,212.62 35.8,212.25 36,211.95 36.2,211.73 36.4,211.6 36.6,211.55 36.8,211.6 37,211.73 37.2,211.95 37.4,212.25 37.6,212.62 37.8,213.06 38,213.54 38.2,214.07 38.4,214.63 38.6,215.2 38.8,215.77 39,216.33 39.2,216.86 39.4,217.34 39.6,217.78 39.8,218.15 40,218.45 40.2,218.67 40.4,218.8 40.6,218.85 40.8,218.8 41,218.67 41.2,218.45 41.4,218.15 41.6,217.78 41.8,217.34 42,216.86 42.2,216.33 42.4,215.77 42.6,215.2 42.8,214.63 43,214.07 43.2,213.54 43.4,213.06 43.6,212.62 43.8,212.25 44,211.95 44.2,211.73 44.4,211.6 44.6,211.55 44.8,211.6 45,211.73 45.2,211.95 45.4,212.25 45.6,212.62 45.8,213.06 46,213.54 46.2,214.07 46.4,214.63 46.6,215.2 46.8,215.77 47,216.33 47.2,216.86 47.4,217.34 47.6,217.78 47.8,218.15 48,218.45 48.2,218.67 48.4,218.8 48.6,218.85 48.8,218.8 49,218.67 49.2,218.45 49.4,218.15 49.6,217.78 49.8,217.34 50,216.86 50.2,216.33 50.4,215.77 50.6,215.2 50.8,214.63 51,214.07 51.2,213.54 51.4,213.06 51.6,212.62 51.8,212.25 52,211.95 52.2,211.73 52.4,211.6 52.6,211.55 52.8,211.6 53,211.73 53.2,211.95 53.4,212.25 53.6,212.62 53.8,213.06 54,213.54 54.2,214.07 54.4,214.63 54.6,215.2 54.8,215.77 55,216.33 55.2,216.86 55.4,217.34 55.6,217.78 55.8,218.15 56,218.45 56.2,218.67 56.4,218.8 56.6,218.85 56.8,218.8 57,218.67 57.2,218.45 57.4,218.15 57.6,217.78 57.8,217.34 58,216.86 58.2,216.33 58.4,215.77 58.6,215.2 58.8,214.63 59,214.07 59.2,213.54 59.4,213.06 59.6,212.62 59.8,212.25 60,211.95 60.2,211.73 60.4,211.6 60.6,211.55 60.8,211.6 61,211.73 61.2,211.95 61.4,212.25 61.6,212.62 61.8,213.06 62,213.54 62.2,214.07 62.4,214.63 62.6,215.2 62.8,215.77 63,216.33 63.2,216.86 63.4,217.34 63.6,217.78 63.8,218.15 64,218.45 64.2,218.67 64.4,218.8 64.6,218.85 64.8,218.8 65,218.67 65.2,218.45 65.4,218.15 65.6,217.78 65.8,217.34 66,216.86 66.2,216.33 66.4,215.77 66.6,215.2 66.8,214.63 67,214.07 67.2,213.54 67.4,213.06 67.6,212.62 67.8,212.25 68,211.95 68.2,211.73 68.4,211.6 68.6,211.55 68.8,211.6 69,211.73 69.2,211.95 69.4,212.25 69.6,212.62 69.8,213.06 70,213.54 70.2,214.07 70.4,214.63 70.6,215.2 70.8,215.77 71,216.33 71.2,216.86 71.4,217.34 71.6,217.78 71.8,218.15 72,218.45 72.2,218.67 72.4,218.8 72.6,218.85 72.8,218.8 73,218.67 73.2,218.45 73.4,218.15 73.6,217.78 73.8,217.34 74,216.86 74.2,216.33 74.4,215.77 74.6,215.2 74.8,214.63 75,214.07 75.2,213.54 75.4,213.06 75.6,212.62 75.8,212.25 76,211.95 76.2,211.73 76.4,211.6 76.6,211.55 76.8,211.6 77,211.73 77.2,211.95 77.4,212.25 77.6,212.62 77.8,213.06 78,213.54 78,213.54 78.2,217.13 78.4,220.11 78.6,222.24 78.8,223.41 79,223.61 79.2,222.94 79.4,221.51 79.6,219.43 79.8,216.7 80,213.28 80.2,209.03 80.4,203.83 80.6,198.81 80.8,193.67 81,188.61 81.2,183.95 81.4,180.04 81.6,177.24 81.8,175.8 82,175.87 82.2,177.44 82.4,180.36 82.6,184.35 82.8,189.05 83,194.1 83.2,199.2 83.4,204.14 83.6,208.83 83.8,213.29 84,217.65 84.2,222.05 84.4,226.63 84.6,231.44 84.8,236.43 85,241.43 85.2,246.16 85.4,250.26 85.6,253.4 85.8,255.28 86,255.71 86.2,254.64 86.4,252.19 86.6,248.59 86.8,244.18 87,239.3 87.2,234.28 87.4,229.37 87.6,224.68 87.8,220.22 88,215.9 88.2,211.58 88.4,207.11 88.6,202.41 88.8,197.5 89,192.52 89.2,187.71 89.4,183.4 89.6,179.94 89.8,177.66 90,176.78 90.2,177.38 90.4,179.41 90.6,182.66 90.8,186.83 91,191.57 91.2,196.54 91.4,201.48 91.6,206.22 91.8,210.72 92,215.04 92.2,219.33 92.4,223.73 92.6,228.34 92.8,233.19 93,238.16 93.2,243.04 93.4,247.53 93.6,251.27 93.8,253.93 94,255.25 94.2,255.1 94.4,253.49 94.6,250.59 94.8,246.67 95,242.07 95.2,237.15 95.4,232.19 95.6,227.39 95.8,222.83 96,218.47 96.2,214.19 96.4,209.84 96.6,205.3 96.8,200.53 97,195.58 97.2,190.65 97.4,186.01 97.6,182.01 97.8,178.99 98,177.25 98.2,176.95 98.4,178.13 98.6,180.67 98.8,184.31 99,188.74 99.2,193.6 99.4,198.57 99.6,203.42 99.8,208.06 100,212.47 100.2,216.75 100.4,221.06 100.6,225.53 100.8,230.23 101,235.14 101.2,240.11 101.4,244.87 101.6,249.1 101.8,252.44 102,254.59 102.2,255.33 102.4,254.59 102.6,252.44 102.8,249.1 103,244.87 103.2,240.1 103.4,235.14 103.6,230.23 103.8,225.53 104,221.06 104.2,216.75 104.4,212.47 104.6,208.06 104.8,203.43 105,198.57 105.2,193.6 105.4,188.75 105.6,184.32 105.8,180.68 106,178.14 106.2,176.96 106.4,177.26 106.6,179 106.8,182.02 107,186.02 107.2,190.66 107.4,195.59 107.6,200.54 107.8,205.31 108,209.84 108.2,214.19 108.4,218.47 108.6,222.82 108.8,227.38 109,232.18 109.2,237.13 109.4,242.05 109.6,246.64 109.8,250.56 110,253.46 110.2,255.06 110.4,255.21 110.6,253.89 110.8,251.23 111,247.49 111.2,243 111.4,238.13 111.6,233.16 111.8,228.32 112,223.72 112.2,219.33 112.4,215.04 112.6,210.72 112.8,206.23 113,201.51 113.2,196.59 113.4,191.63 113.6,186.91 113.8,182.75 114,179.51 114.2,177.5 114.4,176.9 114.6,177.79 114.8,180.07 115,183.52 115.2,187.82 115.4,192.61 115.6,197.58 115.8,202.47 116,207.15 116.2,211.6 116.4,215.9 116.6,220.19 116.8,224.62 117,229.27 117.2,234.15 117.4,239.12 117.6,243.94 117.8,248.31 118,251.86 118.2,254.26 118.4,255.3 118.6,254.85 118.8,252.97 119,249.84 119.2,245.76 119.4,241.08 119.6,236.13 119.8,231.2 120,226.45 120.2,221.94 120.4,217.61 120.6,213.33 120.8,208.95 121,204.37 121.2,199.56 121.4,194.6 121.6,189.7 121.8,185.16 122,181.33 122.2,178.55 122.4,177.08 122.6,177.08 122.8,178.55 123,181.33 123.2,185.16 123.4,189.7 123.6,194.6 123.8,199.56 124,204.37 124.2,208.95 124.4,213.33 124.6,217.61 124.8,221.94 125,226.45 125.2,231.2 125.4,236.13 125.6,241.08 125.8,245.76 126,249.84 126.2,252.97 126.4,254.85" fill="none" stroke="#0072BD" stroke-width="1.1" stroke-linejoin="round" />
<polyline points="30,218.84 30.2,218.84 30.4,218.75 30.6,218.57 30.8,218.31 31,217.97 31.2,217.57 31.4,217.11 31.6,216.6 31.8,216.05 32,215.49 32.2,214.91 32.4,214.35 32.6,213.8 32.8,213.29 33,212.83 33.2,212.43 33.4,212.09 33.6,211.83 33.8,211.65 34,211.56 34.2,211.56 34.4,211.65 34.6,211.83 34.8,212.09 35,212.43 35.2,212.83 35.4,213.29 35.6,213.8 35.8,214.35 36,214.91 36.2,215.49 36.4,216.05 36.6,216.6 36.8,217.11 37,217.57 37.2,217.97 37.4,218.31 37.6,218.57 37.8,218.75 38,218.84 38.2,218.84 38.4,218.75 38.6,218.57 38.8,218.31 39,217.97 39.2,217.57 39.4,217.11 39.6,216.6 39.8,216.05 40,215.49 40.2,214.91 40.4,214.35 40.6,213.8 40.8,213.29 41,212.83 41.2,212.43 41.4,212.09 41.6,211.83 41.8,211.65 42,211.56 42.2,211.56 42.4,211.65 42.6,211.83 42.8,212.09 43,212.43 43.2,212.83 43.4,213.29 43.6,213.8 43.8,214.35 44,214.91 44.2,215.49 44.4,216.05 44.6,216.6 44.8,217.11 45,217.57 45.2,217.97 45.4,218.31 45.6,218.57 45.8,218.75 46,218.84 46.2,218.84 46.4,218.75 46.6,218.57 46.8,218.31 47,217.97 47.2,217.57 47.4,217.11 47.6,216.6 47.8,216.05 48,215.49 48.2,214.91 48.4,214.35 48.6,213.8 48.8,213.29 49,212.83 49.2,212.43 49.4,212.09 49.6,211.83 49.8,211.65 50,211.56 50.2,211.56 50.4,211.65 50.6,211.83 50.8,212.09 51,212.43 51.2,212.83 51.4,213.29 51.6,213.8 51.8,214.35 52,214.91 52.2,215.49 52.4,216.05 52.6,216.6 52.8,217.11 53,217.57 53.2,217.97 53.4,218.31 53.6,218.57 53.8,218.75 54,218.84 54.2,218.84 54.4,218.75 54.6,218.57 54.8,218.31 55,217.97 55.2,217.57 55.4,217.11 55.6,216.6 55.8,216.05 56,215.49 56.2,214.91 56.4,214.35 56.6,213.8 56.8,213.29 57,212.83 57.2,212.43 57.4,212.09 57.6,211.83 57.8,211.65 58,211.56 58.2,211.56 58.4,211.65 58.6,211.83 58.8,212.09 59,212.43 59.2,212.83 59.4,213.29 59.6,213.8 59.8,214.35 60,214.91 60.2,215.49 60.4,216.05 60.6,216.6 60.8,217.11 61,217.57 61.2,217.97 61.4,218.31 61.6,218.57 61.8,218.75 62,218.84 62.2,218.84 62.4,218.75 62.6,218.57 62.8,218.31 63,217.97 63.2,217.57 63.4,217.11 63.6,216.6 63.8,216.05 64,215.49 64.2,214.91 64.4,214.35 64.6,213.8 64.8,213.29 65,212.83 65.2,212.43 65.4,212.09 65.6,211.83 65.8,211.65 66,211.56 66.2,211.56 66.4,211.65 66.6,211.83 66.8,212.09 67,212.43 67.2,212.83 67.4,213.29 67.6,213.8 67.8,214.35 68,214.91 68.2,215.49 68.4,216.05 68.6,216.6 68.8,217.11 69,217.57 69.2,217.97 69.4,218.31 69.6,218.57 69.8,218.75 70,218.84 70.2,218.84 70.4,218.75 70.6,218.57 70.8,218.31 71,217.97 71.2,217.57 71.4,217.11 71.6,216.6 71.8,216.05 72,215.49 72.2,214.91 72.4,214.35 72.6,213.8 72.8,213.29 73,212.83 73.2,212.43 73.4,212.09 73.6,211.83 73.8,211.65 74,211.56 74.2,211.56 74.4,211.65 74.6,211.83 74.8,212.09 75,212.43 75.2,212.83 75.4,213.29 75.6,213.8 75.8,214.35 76,214.91 76.2,215.49 76.4,216.05 76.6,216.6 76.8,217.11 77,217.57 77.2,217.97 77.4,218.31 77.6,218.57 77.8,218.75 78,218.84 78,218.84 78.2,218.21 78.4,217.06 78.6,215.54 78.8,213.88 79,212.35 79.2,211.17 79.4,210.57 79.6,210.64 79.8,211.41 80,212.82 80.2,214.75 80.4,217.08 80.6,219.65 80.8,222.1 81,224.49 81.2,226.92 81.4,229.46 81.6,232.17 81.8,235.02 82,237.91 82.2,240.65 82.4,243.03 82.6,244.83 82.8,245.83 83,245.93 83.2,245.08 83.4,243.35 83.6,240.89 83.8,237.9 84,234.62 84.2,231.25 84.4,227.95 84.6,224.8 84.8,221.8 85,218.89 85.2,215.98 85.4,212.98 85.6,209.84 85.8,206.57 86,203.26 86.2,200.08 86.4,197.24 86.6,194.97 86.8,193.47 87,192.89 87.2,193.26 87.4,194.55 87.6,196.61 87.8,199.24 88,202.21 88.2,205.3 88.4,208.36 88.6,211.28 88.8,214.06 89,216.75 89.2,219.43 89.4,222.19 89.6,225.11 89.8,228.17 90,231.29 90.2,234.33 90.4,237.06 90.6,239.26 90.8,240.72 91,241.29 91.2,240.91 91.4,239.61 91.6,237.52 91.8,234.83 92,231.77 92.2,228.56 92.4,225.37 92.6,222.31 92.8,219.4 93,216.6 93.2,213.83 93.4,210.98 93.6,208 93.8,204.87 94,201.66 94.2,198.52 94.4,195.65 94.6,193.28 94.8,191.62 95,190.84 95.2,191.01 95.4,192.12 95.6,194.04 95.8,196.6 96,199.56 96.2,202.71 96.4,205.85 96.6,208.88 96.8,211.77 97,214.53 97.2,217.25 97.4,220.04 97.6,222.96 97.8,226.03 98,229.2 98.2,232.32 98.4,235.21 98.6,237.64 98.8,239.38 99,240.27 99.2,240.21 99.4,239.21 99.6,237.37 99.8,234.87 100,231.93 100.2,228.77 100.4,225.59 100.6,222.52 100.8,219.59 101,216.8 101.2,214.05 101.4,211.26 101.6,208.34 101.8,205.28 102,202.1 102.2,198.94 102.4,195.99 102.6,193.46 102.8,191.59 103,190.55 103.2,190.45 103.4,191.3 103.6,193.01 103.8,195.41 104,198.29 104.2,201.42 104.4,204.59 104.6,207.68 104.8,210.62 105,213.42 105.2,216.16 105.4,218.93 105.6,221.81 105.8,224.85 106,228.01 106.2,231.17 106.4,234.17 106.6,236.76 106.8,238.74 107,239.91 107.2,240.14 107.4,239.43 107.6,237.83 107.8,235.52 108,232.69 108.2,229.58 108.4,226.4 108.6,223.29 108.8,220.32 109,217.5 109.2,214.75 109.4,211.99 109.6,209.12 109.8,206.1 110,202.95 110.2,199.78 110.4,196.74 110.6,194.07 110.8,191.98 111,190.68 111.2,190.3 111.4,190.87 111.6,192.34 111.8,194.56 112,197.32 112.2,200.4 112.4,203.58 112.6,206.71 112.8,209.69 113,212.53 113.2,215.28 113.4,218.03 113.6,220.88 113.8,223.87 114,227.01 114.2,230.19 114.4,233.25 114.6,236 114.8,238.18 115,239.61 115.2,240.14 115.4,239.7 115.6,238.36 115.8,236.24 116,233.54 116.2,230.5 116.4,227.32 116.6,224.18 116.8,221.17 117,218.31 117.2,215.55 117.4,212.8 117.6,209.97 117.8,207 118,203.89 118.2,200.7 118.4,197.61 118.6,194.8 118.8,192.52 119,190.96 119.2,190.3 119.4,190.58 119.6,191.8 119.8,193.81 120,196.43 120.2,199.44 120.4,202.61 120.6,205.77 120.8,208.8 121,211.68 121.2,214.45 121.4,217.19 121.6,220 121.8,222.95 122,226.05 122.2,229.23 122.4,232.35 122.6,235.21 122.8,237.59 123,239.26 123.2,240.07 123.4,239.93 123.6,238.85 123.8,236.94 124,234.39 124.2,231.43 124.4,228.27 124.6,225.1 124.8,222.05 125,219.15 125.2,216.36 125.4,213.63 125.6,210.83 125.8,207.91 126,204.83 126.2,201.65 126.4,198.51" fill="none" stroke="#D95319" stroke-width="1.1" stroke-linejoin="round" />
<polyline points="30,213.8 30.2,213.29 30.4,212.83 30.6,212.43 30.8,212.09 31,211.83 31.2,211.65 31.4,211.56 31.6,211.56 31.8,211.65 32,211.83 32.2,212.09 32.4,212.43 32.6,212.83 32.8,213.29 33,213.8 33.2,214.35 33.4,214.91 33.6,215.49 33.8,216.05 34,216.6 34.2,217.11 34.4,217.57 34.6,217.97 34.8,218.31 35,218.57 35.2,218.75 35.4,218.84 35.6,218.84 35.8,218.75 36,218.57 36.2,218.31 36.4,217.97 36.6,217.57 36.8,217.11 37,216.6 37.2,216.05 37.4,215.49 37.6,214.91 37.8,214.35 38,213.8 38.2,213.29 38.4,212.83 38.6,212.43 38.8,212.09 39,211.83 39.2,211.65 39.4,211.56 39.6,211.56 39.8,211.65 40,211.83 40.2,212.09 40.4,212.43 40.6,212.83 40.8,213.29 41,213.8 41.2,214.35 41.4,214.91 41.6,215.49 41.8,216.05 42,216.6 42.2,217.11 42.4,217.57 42.6,217.97 42.8,218.31 43,218.57 43.2,218.75 43.4,218.84 43.6,218.84 43.8,218.75 44,218.57 44.2,218.31 44.4,217.97 44.6,217.57 44.8,217.11 45,216.6 45.2,216.05 45.4,215.49 45.6,214.91 45.8,214.35 46,213.8 46.2,213.29 46.4,212.83 46.6,212.43 46.8,212.09 47,211.83 47.2,211.65 47.4,211.56 47.6,211.56 47.8,211.65 48,211.83 48.2,212.09 48.4,212.43 48.6,212.83 48.8,213.29 49,213.8 49.2,214.35 49.4,214.91 49.6,215.49 49.8,216.05 50,216.6 50.2,217.11 50.4,217.57 50.6,217.97 50.8,218.31 51,218.57 51.2,218.75 51.4,218.84 51.6,218.84 51.8,218.75 52,218.57 52.2,218.31 52.4,217.97 52.6,217.57 52.8,217.11 53,216.6 53.2,216.05 53.4,215.49 53.6,214.91 53.8,214.35 54,213.8 54.2,213.29 54.4,212.83 54.6,212.43 54.8,212.09 55,211.83 55.2,211.65 55.4,211.56 55.6,211.56 55.8,211.65 56,211.83 56.2,212.09 56.4,212.43 56.6,212.83 56.8,213.29 57,213.8 57.2,214.35 57.4,214.91 57.6,215.49 57.8,216.05 58,216.6 58.2,217.11 58.4,217.57 58.6,217.97 58.8,218.31 59,218.57 59.2,218.75 59.4,218.84 59.6,218.84 59.8,218.75 60,218.57 60.2,218.31 60.4,217.97 60.6,217.57 60.8,217.11 61,216.6 61.2,216.05 61.4,215.49 61.6,214.91 61.8,214.35 62,213.8 62.2,213.29 62.4,212.83 62.6,212.43 62.8,212.09 63,211.83 63.2,211.65 63.4,211.56 63.6,211.56 63.8,211.65 64,211.83 64.2,212.09 64.4,212.43 64.6,212.83 64.8,213.29 65,213.8 65.2,214.35 65.4,214.91 65.6,215.49 65.8,216.05 66,216.6 66.2,217.11 66.4,217.57 66.6,217.97 66.8,218.31 67,218.57 67.2,218.75 67.4,218.84 67.6,218.84 67.8,218.75 68,218.57 68.2,218.31 68.4,217.97 68.6,217.57 68.8,217.11 69,216.6 69.2,216.05 69.4,215.49 69.6,214.91 69.8,214.35 70,213.8 70.2,213.29 70.4,212.83 70.6,212.43 70.8,212.09 71,211.83 71.2,211.65 71.4,211.56 71.6,211.56 71.8,211.65 72,211.83 72.2,212.09 72.4,212.43 72.6,212.83 72.8,213.29 73,213.8 73.2,214.35 73.4,214.91 73.6,215.49 73.8,216.05 74,216.6 74.2,217.11 74.4,217.57 74.6,217.97 74.8,218.31 75,218.57 75.2,218.75 75.4,218.84 75.6,218.84 75.8,218.75 76,218.57 76.2,218.31 76.4,217.97 76.6,217.57 76.8,217.11 77,216.6 77.2,216.05 77.4,215.49 77.6,214.91 77.8,214.35 78,213.8 78,213.8 78.2,212.39 78.4,211.4 78.6,210.88 78.8,210.84 79,211.23 79.2,212 79.4,213.11 79.6,214.58 79.8,216.43 80,218.74 80.2,221.56 80.4,224.9 80.6,227.53 80.8,230.03 81,232.22 81.2,233.9 81.4,234.91 81.6,235.16 81.8,234.62 82,233.35 82.2,231.47 82.4,229.15 82.6,226.6 82.8,223.97 83,221.41 83.2,218.97 83.4,216.65 83.6,214.42 83.8,212.19 84,209.89 84.2,207.47 84.4,204.96 84.6,202.41 84.8,199.97 85,197.81 85.2,196.1 85.4,195.02 85.6,194.66 85.8,195.07 86,196.2 86.2,197.94 86.4,200.12 86.6,202.57 86.8,205.11 87,207.61 87.2,209.99 87.4,212.26 87.6,214.44 87.8,216.61 88,218.85 88.2,221.2 88.4,223.66 88.6,226.16 88.8,228.58 89,230.75 89.2,232.5 89.4,233.66 89.6,234.11 89.8,233.82 90,232.8 90.2,231.17 90.4,229.08 90.6,226.7 90.8,224.21 91,221.75 91.2,219.38 91.4,217.14 91.6,214.98 91.8,212.84 92,210.64 92.2,208.34 92.4,205.92 92.6,203.45 92.8,201.03 93,198.84 93.2,197.04 93.4,195.81 93.6,195.26 93.8,195.45 94,196.37 94.2,197.91 94.4,199.94 94.6,202.26 94.8,204.73 95,207.18 95.2,209.54 95.4,211.78 95.6,213.92 95.8,216.05 96,218.22 96.2,220.5 96.4,222.89 96.6,225.35 96.8,227.77 97,229.99 97.2,231.84 97.4,233.15 97.6,233.79 97.8,233.69 98,232.87 98.2,231.41 98.4,229.45 98.6,227.16 98.8,224.72 99,222.27 99.2,219.91 99.4,217.66 99.6,215.51 99.8,213.4 100,211.24 100.2,208.99 100.4,206.61 100.6,204.16 100.8,201.74 101,199.49 101.2,197.59 101.4,196.21 101.6,195.48 101.8,195.48 102,196.21 102.2,197.6 102.4,199.5 102.6,201.75 102.8,204.18 103,206.62 103.2,209 103.4,211.25 103.6,213.4 103.8,215.51 104,217.66 104.2,219.9 104.4,222.25 104.6,224.69 104.8,227.12 105,229.4 105.2,231.36 105.4,232.81 105.6,233.63 105.8,233.72 106,233.08 106.2,231.77 106.4,229.92 106.6,227.71 106.8,225.3 107,222.85 107.2,220.47 107.4,218.2 107.6,216.04 107.8,213.93 108,211.8 108.2,209.58 108.4,207.24 108.6,204.8 108.8,202.37 109,200.06 109.2,198.06 109.4,196.53 109.6,195.63 109.8,195.45 110,196 110.2,197.23 110.4,199.01 110.6,201.19 110.8,203.58 111,206.03 111.2,208.42 111.4,210.7 111.6,212.87 111.8,214.99 112,217.11 112.2,219.32 112.4,221.64 112.6,224.07 112.8,226.51 113,228.84 113.2,230.89 113.4,232.48 113.6,233.47 113.8,233.74 114,233.29 114.2,232.14 114.4,230.41 114.6,228.28 114.8,225.9 115,223.45 115.2,221.05 115.4,218.76 115.6,216.58 115.8,214.46 116,212.34 116.2,210.15 116.4,207.84 116.6,205.42 116.8,202.98 117,200.62 117.2,198.53 117.4,196.87 117.6,195.8 117.8,195.44 118,195.8 118.2,196.87 118.4,198.53 118.6,200.63 118.8,202.98 119,205.42 119.2,207.84 119.4,210.15 119.6,212.34 119.8,214.46 120,216.58 120.2,218.76 120.4,221.05 120.6,223.45 120.8,225.9 121,228.27 121.2,230.41 121.4,232.13 121.6,233.28 121.8,233.74 122,233.46 122.2,232.48 122.4,230.89 122.6,228.84 122.8,226.51 123,224.06 123.2,221.64 123.4,219.32 123.6,217.11 123.8,214.99 124,212.88 124.2,210.71 124.4,208.43 124.6,206.04 124.8,203.59 125,201.2 125.2,199.02 125.4,197.24 125.6,196.01 125.8,195.46 126,195.65 126.2,196.55 126.4,198.07" fill="none" stroke="#EDB120" stroke-width="1.1" stroke-linejoin="round" />
</g>
<clipPath id="cBL2"><rect x="160.6" y="150" width="96.5" height="126"/></clipPath>
<g clip-path="url(#cBL2)">
<polyline points="160.6,217.94 160.8,221.14 161,224.54 161.2,228.2 161.4,232.08 161.6,236.1 161.8,240.1 162,243.85 162.2,247.13 162.4,249.69 162.6,251.36 162.8,251.98 163,251.52 163.2,250.01 163.4,247.56 163.6,244.38 163.8,240.68 164,236.71 164.2,232.68 164.4,228.77 164.6,225.07 164.8,221.64 165,218.41 165.2,215.32 165.4,212.22 165.6,209.01 165.8,205.59 166,201.92 166.2,198.02 166.4,193.99 166.6,190.01 166.8,186.28 167,183.05 167.2,180.55 167.4,178.96 167.6,178.42 167.8,178.96 168,180.55 168.2,183.05 168.4,186.28 168.6,190.01 168.8,193.99 169,198.02 169.2,201.92 169.4,205.59 169.6,209.01 169.8,212.22 170,215.32 170.2,218.41 170.4,221.64 170.6,225.07 170.8,228.77 171,232.68 171.2,236.71 171.4,240.68 171.6,244.38 171.8,247.56 172,250.01 172.2,251.52 172.4,251.98 172.6,251.36 172.8,249.69 173,247.13 173.2,243.85 173.4,240.1 173.6,236.1 173.8,232.08 174,228.2 174.2,224.54 174.4,221.14 174.6,217.94 174.8,214.85 175,211.75 175.2,208.52 175.4,205.06 175.6,201.35 175.8,197.42 176,193.39 176.2,189.43 176.4,185.76 176.6,182.63 176.8,180.25 177,178.81 177.2,178.43 177.4,179.13 177.6,180.87 177.8,183.5 178,186.82 178.2,190.6 178.4,194.6 178.6,198.62 178.8,202.49 179,206.12 179.2,209.51 179.4,212.69 179.6,215.78 179.8,218.89 180,222.14 180.2,225.61 180.4,229.34 180.6,233.28 180.8,237.31 181,241.26 181.2,244.89 181.4,247.98 181.6,250.3 181.8,251.66 182,251.96 182.2,251.17 182.4,249.36 182.6,246.68 182.8,243.31 183,239.51 183.2,235.5 183.4,231.49 183.6,227.63 183.8,224.02 184,220.65 184.2,217.48 184.4,214.39 184.6,211.28 184.8,208.01 185,204.52 185.2,200.77 185.4,196.82 185.6,192.79 185.8,188.86 186,185.25 186.2,182.22 186.4,179.97 186.6,178.68 186.8,178.47 187,179.33 187.2,181.21 187.4,183.96 187.6,187.36 187.8,191.19 188,195.21 188.2,199.21 188.4,203.05 188.6,206.64 188.8,209.99 189,213.16 189.2,216.24 189.4,219.36 189.6,222.64 189.8,226.16 190,229.92 190.2,233.88 190.4,237.91 190.6,241.83 190.8,245.4 191,248.38 191.2,250.56 191.4,251.77 191.6,251.91 191.8,250.96 192,249.01 192.2,246.21 192.4,242.76 192.6,238.91 192.8,234.89 193,230.9 193.2,227.07 193.4,223.5 193.6,220.16 193.8,217.01 194,213.93 194.2,210.8 194.4,207.5 194.6,203.97 194.8,200.19 195,196.22 195.2,192.18 195.4,188.29 195.6,184.75 195.8,181.82 196,179.71 196.2,178.58 196.4,178.53 196.6,179.55 196.8,181.57 197,184.43 197.2,187.91 197.4,191.79 197.6,195.81 197.8,199.8 198,203.6 198.2,207.16 198.4,210.48 198.6,213.62 198.8,216.7 199,219.84 199.2,223.15 199.4,226.7 199.6,230.5 199.8,234.49 200,238.51 200.2,242.39 200.4,245.89 200.6,248.77 200.8,250.81 201,251.86 201.2,251.83 201.4,250.73 201.6,248.64 201.8,245.73 202,242.21 202.2,238.32 202.4,234.29 202.6,230.31 202.8,226.52 203,222.98 203.2,219.68 203.4,216.55 203.6,213.47 203.8,210.32 204,206.99 204.2,203.42 204.4,199.6 204.6,195.61 204.8,191.59 205,187.73 205.2,184.27 205.4,181.45 205.6,179.48 205.8,178.5 206,178.61 206.2,179.79 206.4,181.95 206.6,184.92 206.8,188.48 207,192.38 207.2,196.42 207.4,200.38 207.6,204.15 207.8,207.67 208,210.96 208.2,214.08 208.4,217.17 208.5,215.2" fill="none" stroke="#0072BD" stroke-width="1.0" stroke-linejoin="round" />
<polyline points="160.6,224.72 160.8,219.95 161,215.37 161.2,210.8 161.4,206.05 161.6,200.99 161.8,195.55 162,189.78 162.2,183.83 162.4,177.94 162.6,172.42 162.8,167.64 163,163.94 163.2,161.59 163.4,160.78 163.6,161.59 163.8,163.94 164,167.64 164.2,172.42 164.4,177.94 164.6,183.83 164.8,189.78 165,195.55 165.2,200.99 165.4,206.05 165.6,210.8 165.8,215.37 166,219.95 166.2,224.72 166.4,229.81 166.6,235.27 166.8,241.06 167,247.02 167.2,252.89 167.4,258.36 167.6,263.08 167.8,266.69 168,268.93 168.2,269.61 168.4,268.69 168.6,266.23 168.8,262.43 169,257.58 169.2,252.03 169.4,246.12 169.6,240.17 169.8,234.43 170,229.02 170.2,223.99 170.4,219.26 170.6,214.69 170.8,210.1 171,205.31 171.2,200.2 171.4,194.71 171.6,188.9 171.8,182.93 172,177.08 172.2,171.65 172.4,167.01 172.6,163.49 172.8,161.37 173,160.8 173.2,161.85 173.4,164.41 173.6,168.3 173.8,173.21 174,178.8 174.2,184.73 174.4,190.67 174.6,196.39 174.8,201.77 175,206.78 175.2,211.49 175.4,216.05 175.6,220.65 175.8,225.46 176,230.6 176.2,236.12 176.4,241.95 176.6,247.91 176.8,253.75 177,259.13 177.2,263.7 177.4,267.12 177.6,269.13 177.8,269.57 178,268.41 178.2,265.74 178.4,261.76 178.6,256.79 178.8,251.16 179,245.23 179.2,239.29 179.4,233.59 179.6,228.24 179.8,223.26 180,218.57 180.2,214.01 180.4,209.4 180.6,204.57 180.8,199.4 181,193.85 181.2,188.01 181.4,182.04 181.6,176.23 181.8,170.9 182,166.4 182.2,163.08 182.4,161.18 182.6,160.86 182.8,162.14 183,164.92 183.2,168.98 183.4,174.02 183.6,179.68 183.8,185.62 184,191.54 184.2,197.22 184.4,202.54 184.6,207.5 184.8,212.18 185,216.74 185.2,221.36 185.4,226.21 185.6,231.41 185.8,236.98 186,242.84 186.2,248.8 186.4,254.59 186.6,259.87 186.8,264.29 187,267.51 187.2,269.3 187.4,269.5 187.6,268.1 187.8,265.22 188,261.07 188.2,255.98 188.4,250.28 188.6,244.33 188.8,238.42 189,232.77 189.2,227.47 189.4,222.54 189.6,217.88 189.8,213.32 190,208.69 190.2,203.81 190.4,198.59 190.6,192.99 190.8,187.12 191,181.15 191.2,175.39 191.4,170.16 191.6,165.82 191.8,162.7 192,161.03 192.2,160.95 192.4,162.46 192.6,165.45 192.8,169.68 193,174.84 193.2,180.56 193.4,186.52 193.6,192.41 193.8,198.04 194,203.31 194.2,208.22 194.4,212.87 194.6,217.42 194.8,222.07 195,226.96 195.2,232.22 195.4,237.84 195.6,243.73 195.8,249.69 196,255.43 196.2,260.6 196.4,264.86 196.6,267.88 196.8,269.43 197,269.39 197.2,267.76 197.4,264.67 197.6,260.36 197.8,255.15 198,249.4 198.2,243.43 198.4,237.55 198.6,231.95 198.8,226.71 199,221.83 199.2,217.19 199.4,212.64 199.6,207.98 199.8,203.05 200,197.77 200.2,192.12 200.4,186.22 200.6,180.27 200.8,174.56 201,169.44 201.2,165.27 201.4,162.35 201.6,160.91 201.8,161.07 202,162.82 202.2,166.01 202.4,170.4 202.6,175.67 202.8,181.45 203,187.41 203.2,193.28 203.4,198.86 203.6,204.07 203.8,208.93 204,213.55 204.2,218.11 204.4,222.78 204.6,227.73 204.8,233.04 205,238.71 205.2,244.63 205.4,250.57 205.6,256.25 205.8,261.3 206,265.39 206.2,268.21 206.4,269.53 206.6,269.25 206.8,267.39 207,264.09 207.2,259.63 207.4,254.31 207.6,248.51 207.8,242.54 208,236.69 208.2,231.14 208.4,225.96 208.5,215.2" fill="none" stroke="#D95319" stroke-width="0.9" stroke-linejoin="round" />
<polyline points="160.6,201.03 160.8,203.42 161,205.8 161.2,208.08 161.4,210.21 161.6,212.2 161.8,214.08 162,215.91 162.2,217.77 162.4,219.73 162.6,221.83 162.8,224.07 163,226.44 163.2,228.84 163.4,231.16 163.6,233.27 163.8,235.02 164,236.29 164.2,236.98 164.4,237.03 164.6,236.44 164.8,235.25 165,233.56 165.2,231.49 165.4,229.19 165.6,226.8 165.8,224.42 166,222.16 166.2,220.03 166.4,218.06 166.6,216.19 166.8,214.35 167,212.49 167.2,210.52 167.4,208.41 167.6,206.15 167.8,203.78 168,201.39 168.2,199.07 168.4,196.99 168.6,195.26 168.8,194.03 169,193.39 169.2,193.39 169.4,194.03 169.6,195.26 169.8,196.99 170,199.07 170.2,201.39 170.4,203.78 170.6,206.15 170.8,208.41 171,210.52 171.2,212.49 171.4,214.35 171.6,216.19 171.8,218.06 172,220.03 172.2,222.16 172.4,224.42 172.6,226.8 172.8,229.19 173,231.49 173.2,233.56 173.4,235.25 173.6,236.44 173.8,237.03 174,236.98 174.2,236.29 174.4,235.02 174.6,233.27 174.8,231.16 175,228.84 175.2,226.44 175.4,224.07 175.6,221.83 175.8,219.73 176,217.77 176.2,215.91 176.4,214.08 176.6,212.2 176.8,210.21 177,208.08 177.2,205.8 177.4,203.42 177.6,201.03 177.8,198.74 178,196.7 178.2,195.05 178.4,193.9 178.6,193.35 178.8,193.45 179,194.18 179.2,195.49 179.4,197.28 179.6,199.41 179.8,201.74 180,204.14 180.2,206.5 180.4,208.74 180.6,210.82 180.8,212.77 181,214.63 181.2,216.46 181.4,218.35 181.6,220.34 181.8,222.49 182,224.77 182.2,227.16 182.4,229.55 182.6,231.82 182.8,233.84 183,235.46 183.2,236.56 183.4,237.06 183.6,236.92 183.8,236.14 184,234.79 184.2,232.97 184.4,230.82 184.6,228.48 184.8,226.08 185,223.73 185.2,221.5 185.4,219.43 185.6,217.49 185.8,215.63 186,213.8 186.2,211.91 186.4,209.9 186.6,207.75 186.8,205.45 187,203.06 187.2,200.68 187.4,198.42 187.6,196.43 187.8,194.84 188,193.78 188.2,193.33 188.4,193.52 188.6,194.34 188.8,195.73 189,197.58 189.2,199.75 189.4,202.1 189.6,204.5 189.8,206.84 190,209.06 190.2,211.12 190.4,213.05 190.6,214.9 190.8,216.74 191,218.64 191.2,220.65 191.4,222.82 191.6,225.13 191.8,227.52 192,229.9 192.2,232.14 192.4,234.11 192.6,235.66 192.8,236.68 193,237.08 193.2,236.84 193.4,235.97 193.6,234.54 193.8,232.67 194,230.48 194.2,228.12 194.4,225.72 194.6,223.39 194.8,221.18 195,219.13 195.2,217.21 195.4,215.36 195.6,213.52 195.8,211.62 196,209.59 196.2,207.41 196.4,205.1 196.6,202.7 196.8,200.33 197,198.1 197.2,196.16 197.4,194.64 197.6,193.67 197.8,193.31 198,193.6 198.2,194.52 198.4,195.99 198.6,197.89 198.8,200.1 199,202.46 199.2,204.86 199.4,207.18 199.6,209.38 199.8,211.42 200,213.34 200.2,215.18 200.4,217.02 200.6,218.93 200.8,220.97 201,223.16 201.2,225.48 201.4,227.88 201.6,230.25 201.8,232.46 202,234.37 202.2,235.85 202.4,236.78 202.6,237.09 202.8,236.75 203,235.79 203.2,234.29 203.4,232.35 203.6,230.13 203.8,227.76 204,225.36 204.2,223.05 204.4,220.86 204.6,218.83 204.8,216.93 205,215.09 205.2,213.24 205.4,211.32 205.6,209.27 205.8,207.07 206,204.74 206.2,202.34 206.4,199.98 206.6,197.79 206.8,195.9 207,194.46 207.2,193.57 207.4,193.32 207.6,193.7 207.8,194.71 208,196.25 208.2,198.2 208.4,200.44 208.5,215.2 256.7,215.2" fill="none" stroke="#EDB120" stroke-width="1.0" stroke-linejoin="round" />
</g>
<line x1="77.8" y1="154.4" x2="77.8" y2="276" stroke="#F18672" stroke-width="1.2" stroke-dasharray="2.2,2.6" stroke-dashoffset="0.4"/>
<line x1="208.5" y1="154.4" x2="208.5" y2="276" stroke="#6474D6" stroke-width="1.0" stroke-dasharray="2.2,2.6" stroke-dashoffset="0.4"/>
<line x1="30" y1="154.4" x2="30" y2="276.4" stroke="#9a9a9a" stroke-width="0.8" />
<line x1="29.6" y1="276" x2="126" y2="276" stroke="#9a9a9a" stroke-width="0.85" />
<line x1="30" y1="154.4" x2="31.8" y2="154.4" stroke="#888" stroke-width="0.6" />
<line x1="30" y1="166.56" x2="31.8" y2="166.56" stroke="#888" stroke-width="0.6" />
<line x1="30" y1="178.72" x2="31.8" y2="178.72" stroke="#888" stroke-width="0.6" />
<line x1="30" y1="190.88" x2="31.8" y2="190.88" stroke="#888" stroke-width="0.6" />
<line x1="30" y1="203.04" x2="31.8" y2="203.04" stroke="#888" stroke-width="0.6" />
<line x1="30" y1="215.2" x2="31.8" y2="215.2" stroke="#888" stroke-width="0.6" />
<line x1="30" y1="227.36" x2="31.8" y2="227.36" stroke="#888" stroke-width="0.6" />
<line x1="30" y1="239.52" x2="31.8" y2="239.52" stroke="#888" stroke-width="0.6" />
<line x1="30" y1="251.68" x2="31.8" y2="251.68" stroke="#888" stroke-width="0.6" />
<line x1="30" y1="263.84" x2="31.8" y2="263.84" stroke="#888" stroke-width="0.6" />
<line x1="30" y1="276" x2="31.8" y2="276" stroke="#888" stroke-width="0.6" />
<line x1="30" y1="274.2" x2="30" y2="276" stroke="#888" stroke-width="0.6" />
<line x1="78" y1="274.2" x2="78" y2="276" stroke="#888" stroke-width="0.6" />
<line x1="126" y1="274.2" x2="126" y2="276" stroke="#888" stroke-width="0.6" />
<line x1="160.6" y1="154.4" x2="160.6" y2="276.4" stroke="#9a9a9a" stroke-width="0.8" />
<line x1="160.2" y1="276" x2="256.7" y2="276" stroke="#9a9a9a" stroke-width="0.85" />
<line x1="160.6" y1="154.4" x2="162.4" y2="154.4" stroke="#888" stroke-width="0.6" />
<line x1="160.6" y1="166.56" x2="162.4" y2="166.56" stroke="#888" stroke-width="0.6" />
<line x1="160.6" y1="178.72" x2="162.4" y2="178.72" stroke="#888" stroke-width="0.6" />
<line x1="160.6" y1="190.88" x2="162.4" y2="190.88" stroke="#888" stroke-width="0.6" />
<line x1="160.6" y1="203.04" x2="162.4" y2="203.04" stroke="#888" stroke-width="0.6" />
<line x1="160.6" y1="215.2" x2="162.4" y2="215.2" stroke="#888" stroke-width="0.6" />
<line x1="160.6" y1="227.36" x2="162.4" y2="227.36" stroke="#888" stroke-width="0.6" />
<line x1="160.6" y1="239.52" x2="162.4" y2="239.52" stroke="#888" stroke-width="0.6" />
<line x1="160.6" y1="251.68" x2="162.4" y2="251.68" stroke="#888" stroke-width="0.6" />
<line x1="160.6" y1="263.84" x2="162.4" y2="263.84" stroke="#888" stroke-width="0.6" />
<line x1="160.6" y1="276" x2="162.4" y2="276" stroke="#888" stroke-width="0.6" />
<line x1="160.6" y1="274.2" x2="160.6" y2="276" stroke="#888" stroke-width="0.6" />
<line x1="208.65" y1="274.2" x2="208.65" y2="276" stroke="#888" stroke-width="0.6" />
<line x1="256.7" y1="274.2" x2="256.7" y2="276" stroke="#888" stroke-width="0.6" />
<text x="27.4" y="157" font-size="7.5" text-anchor="end" font-family="'Liberation Serif', 'DejaVu Serif', serif" fill="#1a1a1a" stroke="#1a1a1a" stroke-width="0.1" letter-spacing="0.12" >10</text>
<text x="27.4" y="169.16" font-size="7.5" text-anchor="end" font-family="'Liberation Serif', 'DejaVu Serif', serif" fill="#1a1a1a" stroke="#1a1a1a" stroke-width="0.1" letter-spacing="0.12" >8</text>
<text x="27.4" y="181.32" font-size="7.5" text-anchor="end" font-family="'Liberation Serif', 'DejaVu Serif', serif" fill="#1a1a1a" stroke="#1a1a1a" stroke-width="0.1" letter-spacing="0.12" >6</text>
<text x="27.4" y="193.48" font-size="7.5" text-anchor="end" font-family="'Liberation Serif', 'DejaVu Serif', serif" fill="#1a1a1a" stroke="#1a1a1a" stroke-width="0.1" letter-spacing="0.12" >4</text>
<text x="27.4" y="205.64" font-size="7.5" text-anchor="end" font-family="'Liberation Serif', 'DejaVu Serif', serif" fill="#1a1a1a" stroke="#1a1a1a" stroke-width="0.1" letter-spacing="0.12" >2</text>
<text x="27.4" y="217.8" font-size="7.5" text-anchor="end" font-family="'Liberation Serif', 'DejaVu Serif', serif" fill="#1a1a1a" stroke="#1a1a1a" stroke-width="0.1" letter-spacing="0.12" >0</text>
<text x="27.4" y="229.96" font-size="7.5" text-anchor="end" font-family="'Liberation Serif', 'DejaVu Serif', serif" fill="#1a1a1a" stroke="#1a1a1a" stroke-width="0.1" letter-spacing="0.12" >&#8722;2</text>
<text x="27.4" y="242.12" font-size="7.5" text-anchor="end" font-family="'Liberation Serif', 'DejaVu Serif', serif" fill="#1a1a1a" stroke="#1a1a1a" stroke-width="0.1" letter-spacing="0.12" >&#8722;4</text>
<text x="27.4" y="254.28" font-size="7.5" text-anchor="end" font-family="'Liberation Serif', 'DejaVu Serif', serif" fill="#1a1a1a" stroke="#1a1a1a" stroke-width="0.1" letter-spacing="0.12" >&#8722;6</text>
<text x="27.4" y="266.44" font-size="7.5" text-anchor="end" font-family="'Liberation Serif', 'DejaVu Serif', serif" fill="#1a1a1a" stroke="#1a1a1a" stroke-width="0.1" letter-spacing="0.12" >&#8722;8</text>
<text x="27.4" y="278.6" font-size="7.5" text-anchor="end" font-family="'Liberation Serif', 'DejaVu Serif', serif" fill="#1a1a1a" stroke="#1a1a1a" stroke-width="0.1" letter-spacing="0.12" >&#8722;10</text>
<text x="30" y="285.3" font-size="7.5" text-anchor="middle" font-family="'Liberation Serif', 'DejaVu Serif', serif" fill="#1a1a1a" stroke="#1a1a1a" stroke-width="0.1" letter-spacing="0.12" >11.99</text>
<text x="78" y="285.3" font-size="7.5" text-anchor="middle" font-family="'Liberation Serif', 'DejaVu Serif', serif" fill="#1a1a1a" stroke="#1a1a1a" stroke-width="0.1" letter-spacing="0.12" >12</text>
<text x="126" y="285.3" font-size="7.5" text-anchor="middle" font-family="'Liberation Serif', 'DejaVu Serif', serif" fill="#1a1a1a" stroke="#1a1a1a" stroke-width="0.1" letter-spacing="0.12" >12.01</text>
<text x="160.6" y="285.3" font-size="7.5" text-anchor="middle" font-family="'Liberation Serif', 'DejaVu Serif', serif" fill="#1a1a1a" stroke="#1a1a1a" stroke-width="0.1" letter-spacing="0.12" >12.24</text>
<text x="208.6" y="285.3" font-size="7.5" text-anchor="middle" font-family="'Liberation Serif', 'DejaVu Serif', serif" fill="#1a1a1a" stroke="#1a1a1a" stroke-width="0.1" letter-spacing="0.12" >12.25</text>
<text x="256.7" y="285.3" font-size="7.5" text-anchor="middle" font-family="'Liberation Serif', 'DejaVu Serif', serif" fill="#1a1a1a" stroke="#1a1a1a" stroke-width="0.1" letter-spacing="0.12" >12.26</text>
<text x="0" y="0" font-size="7.2" text-anchor="middle" dominant-baseline="central" font-family="'Liberation Sans', 'DejaVu Sans', sans-serif" fill="#F0303A" transform="translate(72.4,269.6) rotate(-90)">E1</text>
<text x="0" y="0" font-size="7.2" text-anchor="middle" dominant-baseline="central" font-family="'Liberation Sans', 'DejaVu Sans', sans-serif" fill="#3F56C4" transform="translate(214.9,263.1) rotate(-90)">E2+E3</text>
<text x="146.1" y="293.8" font-size="9.4" text-anchor="middle" font-family="'Liberation Serif', 'DejaVu Serif', serif" fill="#1a1a1a" stroke="#1a1a1a" stroke-width="0.12" paint-order="stroke"><tspan font-style="italic">time</tspan> [s]</text>
<text x="0" y="0" font-size="10.4" text-anchor="middle" font-family="'Liberation Serif', 'DejaVu Serif', serif" fill="#1a1a1a" stroke="#1a1a1a" stroke-width="0.12" paint-order="stroke" transform="translate(10.2,214.9) rotate(-90)"><tspan font-style="italic">i</tspan>/<tspan font-style="italic">I</tspan><tspan font-style="italic" font-size="6.6" dy="2">out</tspan><tspan dy="-2"> [&#8722;]</tspan></text>
<rect x="32.2" y="158.8" width="45.0" height="28.9" fill="#fff" stroke="#666" stroke-width="0.7"/>
<line x1="34.2" y1="163.9" x2="48.7" y2="163.9" stroke="#0072BD" stroke-width="1.1" />
<text x="50.2" y="166.8" font-size="8.4" font-family="'Liberation Serif', 'DejaVu Serif', serif" fill="#1a1a1a" stroke="#1a1a1a" stroke-width="0.12" paint-order="stroke">Phase <tspan font-style="italic">a</tspan></text>
<line x1="34.2" y1="173" x2="48.7" y2="173" stroke="#D95319" stroke-width="1.1" />
<text x="50.2" y="175.9" font-size="8.4" font-family="'Liberation Serif', 'DejaVu Serif', serif" fill="#1a1a1a" stroke="#1a1a1a" stroke-width="0.12" paint-order="stroke">Phase <tspan font-style="italic">c</tspan></text>
<line x1="34.2" y1="182.1" x2="48.7" y2="182.1" stroke="#EDB120" stroke-width="1.1" />
<text x="50.2" y="185" font-size="8.4" font-family="'Liberation Serif', 'DejaVu Serif', serif" fill="#1a1a1a" stroke="#1a1a1a" stroke-width="0.12" paint-order="stroke">Phase <tspan font-style="italic">b</tspan></text>
<text x="142.7" y="306.9" font-size="12" text-anchor="middle" font-family="'Liberation Serif', 'DejaVu Serif', serif" fill="#1a1a1a" stroke="#1a1a1a" stroke-width="0.12" paint-order="stroke">(a)</text>
<line x1="314" y1="153.4" x2="314" y2="275.5" stroke="#e2e2e2" stroke-width="0.8" />
<line x1="360.9" y1="153.4" x2="360.9" y2="275.5" stroke="#e2e2e2" stroke-width="0.8" />
<line x1="407.8" y1="153.4" x2="407.8" y2="275.5" stroke="#e2e2e2" stroke-width="0.8" />
<line x1="314" y1="153.4" x2="407.8" y2="153.4" stroke="#e2e2e2" stroke-width="0.8" />
<line x1="314" y1="168.66" x2="407.8" y2="168.66" stroke="#e2e2e2" stroke-width="0.8" />
<line x1="314" y1="183.92" x2="407.8" y2="183.92" stroke="#e2e2e2" stroke-width="0.8" />
<line x1="314" y1="199.19" x2="407.8" y2="199.19" stroke="#e2e2e2" stroke-width="0.8" />
<line x1="314" y1="214.45" x2="407.8" y2="214.45" stroke="#e2e2e2" stroke-width="0.8" />
<line x1="314" y1="229.71" x2="407.8" y2="229.71" stroke="#e2e2e2" stroke-width="0.8" />
<line x1="314" y1="244.97" x2="407.8" y2="244.97" stroke="#e2e2e2" stroke-width="0.8" />
<line x1="314" y1="260.24" x2="407.8" y2="260.24" stroke="#e2e2e2" stroke-width="0.8" />
<line x1="314" y1="275.5" x2="407.8" y2="275.5" stroke="#e2e2e2" stroke-width="0.8" />
<line x1="441.5" y1="153.4" x2="441.5" y2="275.5" stroke="#e2e2e2" stroke-width="0.8" />
<line x1="488.5" y1="153.4" x2="488.5" y2="275.5" stroke="#e2e2e2" stroke-width="0.8" />
<line x1="535.5" y1="153.4" x2="535.5" y2="275.5" stroke="#e2e2e2" stroke-width="0.8" />
<line x1="441.5" y1="153.4" x2="535.5" y2="153.4" stroke="#e2e2e2" stroke-width="0.8" />
<line x1="441.5" y1="168.66" x2="535.5" y2="168.66" stroke="#e2e2e2" stroke-width="0.8" />
<line x1="441.5" y1="183.92" x2="535.5" y2="183.92" stroke="#e2e2e2" stroke-width="0.8" />
<line x1="441.5" y1="199.19" x2="535.5" y2="199.19" stroke="#e2e2e2" stroke-width="0.8" />
<line x1="441.5" y1="214.45" x2="535.5" y2="214.45" stroke="#e2e2e2" stroke-width="0.8" />
<line x1="441.5" y1="229.71" x2="535.5" y2="229.71" stroke="#e2e2e2" stroke-width="0.8" />
<line x1="441.5" y1="244.97" x2="535.5" y2="244.97" stroke="#e2e2e2" stroke-width="0.8" />
<line x1="441.5" y1="260.24" x2="535.5" y2="260.24" stroke="#e2e2e2" stroke-width="0.8" />
<line x1="441.5" y1="275.5" x2="535.5" y2="275.5" stroke="#e2e2e2" stroke-width="0.8" />
<clipPath id="cBR1"><rect x="314" y="150" width="94" height="126"/></clipPath>
<g clip-path="url(#cBR1)">
<polyline points="314,257.15 314.2,257.13 314.4,256.74 314.6,255.81 314.8,254.07 315,251.2 315.2,246.94 315.4,241.18 315.6,233.97 315.8,225.6 316,216.53 316.2,207.32 316.4,198.57 316.6,190.8 316.8,184.37 317,179.44 317.2,175.97 317.4,173.75 317.6,172.5 317.8,171.89 318,171.72 318.2,171.89 318.4,172.5 318.6,173.75 318.8,175.97 319,179.44 319.2,184.37 319.4,190.8 319.6,198.57 319.8,207.32 320,216.53 320.2,225.6 320.4,233.97 320.6,241.18 320.8,246.94 321,251.2 321.2,254.07 321.4,255.81 321.6,256.74 321.8,257.13 322,257.15 322.2,256.8 322.4,255.94 322.6,254.29 322.8,251.54 323,247.43 323.2,241.82 323.4,234.75 323.6,226.48 323.8,217.45 324,208.23 324.2,199.41 324.4,191.52 324.6,184.94 324.8,179.86 325,176.25 325.2,173.93 325.4,172.59 325.6,171.93 325.8,171.72 326,171.86 326.2,172.41 326.4,173.59 326.6,175.7 326.8,179.03 327,183.81 327.2,190.09 327.4,197.75 327.6,206.42 327.8,215.61 328,224.72 328.2,233.18 328.4,240.52 328.6,246.43 328.8,250.84 329,253.83 329.2,255.68 329.4,256.68 329.6,257.11 329.8,257.16 330,256.86 330.2,256.05 330.4,254.5 330.6,251.87 330.8,247.91 331,242.45 331.2,235.52 331.4,227.35 331.6,218.38 331.8,209.15 332,200.26 332.2,192.26 332.4,185.54 332.6,180.3 332.8,176.55 333,174.11 333.2,172.69 333.4,171.97 333.6,171.72 333.8,171.83 334,172.33 334.2,173.44 334.4,175.43 334.6,178.63 334.8,183.26 335,189.4 335.2,196.93 335.4,205.52 335.6,214.68 335.8,223.83 336,232.38 336.2,239.84 336.4,245.91 336.6,250.46 336.8,253.59 337,255.54 337.2,256.61 337.4,257.09 337.6,257.17 337.8,256.91 338,256.16 338.2,254.69 338.4,252.19 338.6,248.37 338.8,243.06 339,236.27 339.2,228.21 339.4,219.29 339.6,210.06 339.8,201.12 340,193 340.2,186.14 340.4,180.76 340.6,176.87 340.8,174.3 341,172.79 341.2,172.02 341.4,171.73 341.6,171.8 341.8,172.26 342,173.29 342.2,175.19 342.4,178.25 342.6,182.73 342.8,188.72 343,196.12 343.2,204.62 343.4,213.76 343.6,222.93 343.8,231.57 344,239.16 344.2,245.37 344.4,250.07 344.6,253.34 344.8,255.39 345,256.53 345.2,257.06 345.4,257.18 345.6,256.95 345.8,256.26 346,254.88 346.2,252.5 346.4,248.82 346.6,243.66 346.8,237.01 347,229.06 347.2,220.21 347.4,210.98 347.6,201.98 347.8,193.76 348,186.76 348.2,181.23 348.4,177.19 348.6,174.51 348.8,172.91 349,172.07 349.2,171.74 349.4,171.78 349.6,172.19 349.8,173.15 350,174.95 350.2,177.88 350.4,182.21 350.6,188.05 350.8,195.32 351,203.74 351.2,212.83 351.4,222.03 351.6,230.74 351.8,238.46 352,244.82 352.2,249.67 352.4,253.07 352.6,255.23 352.8,256.45 353,257.03 353.2,257.18 353.4,256.99 353.6,256.36 353.8,255.06 354,252.79 354.2,249.25 354.4,244.25 354.6,237.74 354.8,229.91 355,221.12 355.2,211.91 355.4,202.86 355.6,194.54 355.8,187.4 356,181.71 356.2,177.53 356.4,174.72 356.6,173.03 356.8,172.13 357,171.76 357.2,171.76 357.4,172.13 357.6,173.03 357.8,174.72 358,177.53 358.2,181.71 358.4,187.4 358.6,194.54 358.8,202.86 359,211.91 359.2,221.12 359.4,229.91 359.6,237.74 359.8,244.25 360,249.25 360.2,252.79 360.4,255.06 360.6,256.36 360.8,256.99 361,257.18 361,257.18 361.2,255.66 361.4,254.18 361.6,252.43 361.8,250.11 362,246.92 362.2,242.62 362.4,237.02 362.6,231.66 362.8,227.34 363,222.72 363.2,217.91 363.4,213.05 363.6,208.26 363.8,203.65 364,199.35 364.2,195.45 364.4,192.06 364.6,189.25 364.8,187.1 365,185.66 365.2,184.96 365.4,185.02 365.6,185.83 365.8,187.37 366,189.6 366.2,192.45 366.4,195.86 366.6,199.73 366.8,203.97 367,208.47 367.2,213.11 367.4,217.77 367.6,222.33 367.8,226.68 368,230.71 368.2,234.32 368.4,237.41 368.6,239.9 368.8,241.74 369,242.87 369.2,243.27 369.4,242.94 369.6,241.87 369.8,240.1 370,237.68 370.2,234.66 370.4,231.13 370.6,227.17 370.8,222.9 371,218.41 371.2,213.82 371.4,209.25 371.6,204.82 371.8,200.64 372,196.82 372.2,193.45 372.4,190.63 372.6,188.42 372.8,186.88 373,186.05 373.2,185.95 373.4,186.58 373.6,187.92 373.8,189.95 374,192.6 374.2,195.82 374.4,199.51 374.6,203.58 374.8,207.93 375,212.45 375.2,217.02 375.4,221.52 375.6,225.83 375.8,229.86 376,233.48 376.2,236.62 376.4,239.18 376.6,241.11 376.8,242.36 377,242.88 377.2,242.68 377.4,241.75 377.6,240.12 377.8,237.83 378,234.94 378.2,231.52 378.4,227.67 378.6,223.47 378.8,219.05 379,214.51 379.2,209.96 379.4,205.54 379.6,201.34 379.8,197.48 380,194.06 380.2,191.16 380.4,188.86 380.6,187.21 380.8,186.27 381,186.05 381.2,186.57 381.4,187.79 381.6,189.71 381.8,192.26 382,195.37 382.2,198.98 382.4,202.99 382.6,207.29 382.8,211.78 383,216.33 383.2,220.83 383.4,225.17 383.6,229.24 383.8,232.92 384,236.13 384.2,238.78 384.4,240.81 384.6,242.16 384.8,242.8 385,242.7 385.2,241.89 385.4,240.36 385.6,238.17 385.8,235.38 386,232.04 386.2,228.25 386.4,224.11 386.6,219.72 386.8,215.19 387,210.65 387.2,206.2 387.4,201.96 387.6,198.05 387.8,194.56 388,191.57 388.2,189.18 388.4,187.44 388.6,186.39 388.8,186.06 389,186.46 389.2,187.58 389.4,189.39 389.6,191.85 389.8,194.88 390,198.42 390.2,202.37 390.4,206.64 390.6,211.1 390.8,215.65 391,220.16 391.2,224.53 391.4,228.64 391.6,232.39 391.8,235.68 392,238.42 392.2,240.54 392.4,241.99 392.6,242.74 392.8,242.76 393,242.05 393.2,240.63 393.4,238.54 393.6,235.83 393.8,232.57 394,228.84 394.2,224.75 394.4,220.39 394.6,215.87 394.8,211.32 395,206.86 395.2,202.58 395.4,198.61 395.6,195.05 395.8,191.99 396,189.5 396.2,187.66 396.4,186.5 396.6,186.06 396.8,186.36 397,187.37 397.2,189.08 397.4,191.44 397.6,194.4 397.8,197.87 398,201.76 398.2,205.98 398.4,210.42 398.6,214.96 398.8,219.49 399,223.89 399.2,228.05 399.4,231.86 399.6,235.22 399.8,238.04 400,240.26 400.2,241.82 400.4,242.67 400.6,242.8 400.8,242.2 401,240.88 401.2,238.89 401.4,236.27 401.6,233.09 401.8,229.43 402,225.38 402.2,221.05 402.4,216.56 402.6,212 402.8,207.52 403,203.21 403.2,199.18 403.4,195.56 403.6,192.41 403.8,189.84 404,187.89 404.2,186.63 404.4,186.08 404.6,186.27 404.8,187.17 405,188.78 405.2,191.05 405.4,193.92 405.6,197.32 405.8,201.15 406,205.33 406.2,209.74 406.4,214.28 406.6,218.82 406.8,223.24 407,227.44 407.2,231.31 407.4,234.74 407.6,237.66 407.8,239.97 408,241.63" fill="none" stroke="#0072BD" stroke-width="1.0" stroke-linejoin="round" />
<polyline points="314,190.8 314.2,184.37 314.4,179.44 314.6,175.97 314.8,173.75 315,172.5 315.2,171.89 315.4,171.72 315.6,171.89 315.8,172.5 316,173.75 316.2,175.97 316.4,179.44 316.6,184.37 316.8,190.8 317,198.57 317.2,207.32 317.4,216.53 317.6,225.6 317.8,233.97 318,241.18 318.2,246.94 318.4,251.2 318.6,254.07 318.8,255.81 319,256.74 319.2,257.13 319.4,257.15 319.6,256.8 319.8,255.94 320,254.29 320.2,251.54 320.4,247.43 320.6,241.82 320.8,234.75 321,226.48 321.2,217.45 321.4,208.23 321.6,199.41 321.8,191.52 322,184.94 322.2,179.86 322.4,176.25 322.6,173.93 322.8,172.59 323,171.93 323.2,171.72 323.4,171.86 323.6,172.41 323.8,173.59 324,175.7 324.2,179.03 324.4,183.81 324.6,190.09 324.8,197.75 325,206.42 325.2,215.61 325.4,224.72 325.6,233.18 325.8,240.52 326,246.43 326.2,250.84 326.4,253.83 326.6,255.68 326.8,256.68 327,257.11 327.2,257.16 327.4,256.86 327.6,256.05 327.8,254.5 328,251.87 328.2,247.91 328.4,242.45 328.6,235.52 328.8,227.35 329,218.38 329.2,209.15 329.4,200.26 329.6,192.26 329.8,185.54 330,180.3 330.2,176.55 330.4,174.11 330.6,172.69 330.8,171.97 331,171.72 331.2,171.83 331.4,172.33 331.6,173.44 331.8,175.43 332,178.63 332.2,183.26 332.4,189.4 332.6,196.93 332.8,205.52 333,214.68 333.2,223.83 333.4,232.38 333.6,239.84 333.8,245.91 334,250.46 334.2,253.59 334.4,255.54 334.6,256.61 334.8,257.09 335,257.17 335.2,256.91 335.4,256.16 335.6,254.69 335.8,252.19 336,248.37 336.2,243.06 336.4,236.27 336.6,228.21 336.8,219.29 337,210.06 337.2,201.12 337.4,193 337.6,186.14 337.8,180.76 338,176.87 338.2,174.3 338.4,172.79 338.6,172.02 338.8,171.73 339,171.8 339.2,172.26 339.4,173.29 339.6,175.19 339.8,178.25 340,182.73 340.2,188.72 340.4,196.12 340.6,204.62 340.8,213.76 341,222.93 341.2,231.57 341.4,239.16 341.6,245.37 341.8,250.07 342,253.34 342.2,255.39 342.4,256.53 342.6,257.06 342.8,257.18 343,256.95 343.2,256.26 343.4,254.88 343.6,252.5 343.8,248.82 344,243.66 344.2,237.01 344.4,229.06 344.6,220.21 344.8,210.98 345,201.98 345.2,193.76 345.4,186.76 345.6,181.23 345.8,177.19 346,174.51 346.2,172.91 346.4,172.07 346.6,171.74 346.8,171.78 347,172.19 347.2,173.15 347.4,174.95 347.6,177.88 347.8,182.21 348,188.05 348.2,195.32 348.4,203.74 348.6,212.83 348.8,222.03 349,230.74 349.2,238.46 349.4,244.82 349.6,249.67 349.8,253.07 350,255.23 350.2,256.45 350.4,257.03 350.6,257.18 350.8,256.99 351,256.36 351.2,255.06 351.4,252.79 351.6,249.25 351.8,244.25 352,237.74 352.2,229.91 352.4,221.12 352.6,211.91 352.8,202.86 353,194.54 353.2,187.4 353.4,181.71 353.6,177.53 353.8,174.72 354,173.03 354.2,172.13 354.4,171.76 354.6,171.76 354.8,172.13 355,173.03 355.2,174.72 355.4,177.53 355.6,181.71 355.8,187.4 356,194.54 356.2,202.86 356.4,211.91 356.6,221.12 356.8,229.91 357,237.74 357.2,244.25 357.4,249.25 357.6,252.79 357.8,255.06 358,256.36 358.2,256.99 358.4,257.18 358.6,257.03 358.8,256.45 359,255.23 359.2,253.07 359.4,249.67 359.6,244.82 359.8,238.46 360,230.74 360.2,222.03 360.4,212.83 360.6,203.74 360.8,195.32 361,188.05 361,188.05 361.2,187.24 361.4,185.82 361.6,184.18 361.8,182.68 362,181.7 362.2,181.57 362.4,182.6 362.6,185.24 362.8,188.96 363,193.24 363.2,197.99 363.4,203.07 363.6,208.35 363.8,213.71 364,219.01 364.2,224.12 364.4,228.92 364.6,233.29 364.8,237.13 365,240.34 365.2,242.87 365.4,244.65 365.6,245.64 365.8,245.83 366,245.22 366.2,243.84 366.4,241.72 366.6,238.93 366.8,235.53 367,231.63 367.2,227.31 367.4,222.7 367.6,217.91 367.8,213.06 368,208.27 368.2,203.67 368.4,199.37 368.6,195.48 368.8,192.09 369,189.29 369.2,187.14 369.4,185.7 369.6,185 369.8,185.06 370,185.86 370.2,187.4 370.4,189.62 370.6,192.47 370.8,195.88 371,199.75 371.2,203.98 371.4,208.47 371.6,213.11 371.8,217.77 372,222.33 372.2,226.68 372.4,230.7 372.6,234.31 372.8,237.39 373,239.89 373.2,241.72 373.4,242.86 373.6,243.26 373.8,242.93 374,241.86 374.2,240.09 374.4,237.67 374.6,234.66 374.8,231.13 375,227.17 375.2,222.89 375.4,218.4 375.6,213.82 375.8,209.25 376,204.82 376.2,200.64 376.4,196.82 376.6,193.46 376.8,190.64 377,188.42 377.2,186.88 377.4,186.05 377.6,185.95 377.8,186.58 378,187.93 378.2,189.95 378.4,192.61 378.6,195.82 378.8,199.51 379,203.58 379.2,207.93 379.4,212.45 379.6,217.02 379.8,221.52 380,225.83 380.2,229.86 380.4,233.48 380.6,236.62 380.8,239.18 381,241.11 381.2,242.35 381.4,242.88 381.6,242.68 381.8,241.75 382,240.12 382.2,237.83 382.4,234.94 382.6,231.52 382.8,227.67 383,223.47 383.2,219.05 383.4,214.51 383.6,209.96 383.8,205.54 384,201.34 384.2,197.48 384.4,194.06 384.6,191.16 384.8,188.86 385,187.21 385.2,186.27 385.4,186.05 385.6,186.57 385.8,187.79 386,189.71 386.2,192.26 386.4,195.38 386.6,198.98 386.8,202.99 387,207.29 387.2,211.78 387.4,216.33 387.6,220.83 387.8,225.17 388,229.24 388.2,232.92 388.4,236.13 388.6,238.78 388.8,240.81 389,242.16 389.2,242.8 389.4,242.7 389.6,241.89 389.8,240.36 390,238.17 390.2,235.38 390.4,232.04 390.6,228.25 390.8,224.11 391,219.72 391.2,215.19 391.4,210.65 391.6,206.2 391.8,201.96 392,198.05 392.2,194.56 392.4,191.57 392.6,189.18 392.8,187.44 393,186.39 393.2,186.06 393.4,186.46 393.6,187.58 393.8,189.39 394,191.85 394.2,194.88 394.4,198.42 394.6,202.37 394.8,206.64 395,211.1 395.2,215.65 395.4,220.16 395.6,224.53 395.8,228.64 396,232.39 396.2,235.68 396.4,238.42 396.6,240.54 396.8,241.99 397,242.74 397.2,242.76 397.4,242.05 397.6,240.63 397.8,238.54 398,235.83 398.2,232.57 398.4,228.84 398.6,224.75 398.8,220.39 399,215.87 399.2,211.32 399.4,206.86 399.6,202.58 399.8,198.61 400,195.05 400.2,191.99 400.4,189.5 400.6,187.66 400.8,186.5 401,186.06 401.2,186.36 401.4,187.37 401.6,189.08 401.8,191.44 402,194.4 402.2,197.87 402.4,201.76 402.6,205.98 402.8,210.42 403,214.96 403.2,219.49 403.4,223.89 403.6,228.05 403.8,231.86 404,235.22 404.2,238.04 404.4,240.26 404.6,241.82 404.8,242.67 405,242.8 405.2,242.2 405.4,240.88 405.6,238.89 405.8,236.27 406,233.09 406.2,229.43 406.4,225.38 406.6,221.05 406.8,216.56 407,212 407.2,207.52 407.4,203.21 407.6,199.18 407.8,195.56 408,192.41" fill="none" stroke="#D95319" stroke-width="1.0" stroke-linejoin="round" />
<polyline points="314,184.94 314.2,191.52 314.4,199.41 314.6,208.23 314.8,217.45 315,226.48 315.2,234.75 315.4,241.82 315.6,247.43 315.8,251.54 316,254.29 316.2,255.94 316.4,256.8 316.6,257.15 316.8,257.13 317,256.74 317.2,255.81 317.4,254.07 317.6,251.2 317.8,246.94 318,241.18 318.2,233.97 318.4,225.6 318.6,216.53 318.8,207.32 319,198.57 319.2,190.8 319.4,184.37 319.6,179.44 319.8,175.97 320,173.75 320.2,172.5 320.4,171.89 320.6,171.72 320.8,171.89 321,172.5 321.2,173.75 321.4,175.97 321.6,179.44 321.8,184.37 322,190.8 322.2,198.57 322.4,207.32 322.6,216.53 322.8,225.6 323,233.97 323.2,241.18 323.4,246.94 323.6,251.2 323.8,254.07 324,255.81 324.2,256.74 324.4,257.13 324.6,257.15 324.8,256.8 325,255.94 325.2,254.29 325.4,251.54 325.6,247.43 325.8,241.82 326,234.75 326.2,226.48 326.4,217.45 326.6,208.23 326.8,199.41 327,191.52 327.2,184.94 327.4,179.86 327.6,176.25 327.8,173.93 328,172.59 328.2,171.93 328.4,171.72 328.6,171.86 328.8,172.41 329,173.59 329.2,175.7 329.4,179.03 329.6,183.81 329.8,190.09 330,197.75 330.2,206.42 330.4,215.61 330.6,224.72 330.8,233.18 331,240.52 331.2,246.43 331.4,250.84 331.6,253.83 331.8,255.68 332,256.68 332.2,257.11 332.4,257.16 332.6,256.86 332.8,256.05 333,254.5 333.2,251.87 333.4,247.91 333.6,242.45 333.8,235.52 334,227.35 334.2,218.38 334.4,209.15 334.6,200.26 334.8,192.26 335,185.54 335.2,180.3 335.4,176.55 335.6,174.11 335.8,172.69 336,171.97 336.2,171.72 336.4,171.83 336.6,172.33 336.8,173.44 337,175.43 337.2,178.63 337.4,183.26 337.6,189.4 337.8,196.93 338,205.52 338.2,214.68 338.4,223.83 338.6,232.38 338.8,239.84 339,245.91 339.2,250.46 339.4,253.59 339.6,255.54 339.8,256.61 340,257.09 340.2,257.17 340.4,256.91 340.6,256.16 340.8,254.69 341,252.19 341.2,248.37 341.4,243.06 341.6,236.27 341.8,228.21 342,219.29 342.2,210.06 342.4,201.12 342.6,193 342.8,186.14 343,180.76 343.2,176.87 343.4,174.3 343.6,172.79 343.8,172.02 344,171.73 344.2,171.8 344.4,172.26 344.6,173.29 344.8,175.19 345,178.25 345.2,182.73 345.4,188.72 345.6,196.12 345.8,204.62 346,213.76 346.2,222.93 346.4,231.57 346.6,239.16 346.8,245.37 347,250.07 347.2,253.34 347.4,255.39 347.6,256.53 347.8,257.06 348,257.18 348.2,256.95 348.4,256.26 348.6,254.88 348.8,252.5 349,248.82 349.2,243.66 349.4,237.01 349.6,229.06 349.8,220.21 350,210.98 350.2,201.98 350.4,193.76 350.6,186.76 350.8,181.23 351,177.19 351.2,174.51 351.4,172.91 351.6,172.07 351.8,171.74 352,171.78 352.2,172.19 352.4,173.15 352.6,174.95 352.8,177.88 353,182.21 353.2,188.05 353.4,195.32 353.6,203.74 353.8,212.83 354,222.03 354.2,230.74 354.4,238.46 354.6,244.82 354.8,249.67 355,253.07 355.2,255.23 355.4,256.45 355.6,257.03 355.8,257.18 356,256.99 356.2,256.36 356.4,255.06 356.6,252.79 356.8,249.25 357,244.25 357.2,237.74 357.4,229.91 357.6,221.12 357.8,211.91 358,202.86 358.2,194.54 358.4,187.4 358.6,181.71 358.8,177.53 359,174.72 359.2,173.03 359.4,172.13 359.6,171.76 359.8,171.76 360,172.13 360.2,173.03 360.4,174.72 360.6,177.53 360.8,181.71 361,187.4 361,187.4 361.2,190.34 361.4,193.77 361.6,197.72 361.8,202.21 362,207.2 362.2,212.66 362.4,218.5 362.6,222.32 362.8,223.71 363,224.86 363.2,225.75 363.4,226.34 363.6,226.63 363.8,226.61 364,226.27 364.2,225.63 364.4,224.7 364.6,223.51 364.8,222.09 365,220.47 365.2,218.7 365.4,216.81 365.6,214.87 365.8,212.91 366,211 366.2,209.17 366.4,207.48 366.6,205.96 366.8,204.67 367,203.63 367.2,202.86 367.4,202.4 367.6,202.24 367.8,202.4 368,202.86 368.2,203.63 368.4,204.67 368.6,205.96 368.8,207.48 369,209.17 369.2,211 369.4,212.91 369.6,214.87 369.8,216.81 370,218.7 370.2,220.47 370.4,222.09 370.6,223.51 370.8,224.7 371,225.63 371.2,226.27 371.4,226.61 371.6,226.63 371.8,226.34 372,225.75 372.2,224.86 372.4,223.71 372.6,222.32 372.8,220.72 373,218.97 373.2,217.1 373.4,215.16 373.6,213.2 373.8,211.28 374,209.43 374.2,207.72 374.4,206.18 374.6,204.85 374.8,203.77 375,202.96 375.2,202.45 375.4,202.24 375.6,202.35 375.8,202.77 376,203.5 376.2,204.5 376.4,205.76 376.6,207.24 376.8,208.9 377,210.71 377.2,212.62 377.4,214.57 377.6,216.52 377.8,218.42 378,220.21 378.2,221.86 378.4,223.31 378.6,224.54 378.8,225.51 379,226.2 379.2,226.58 379.4,226.65 379.6,226.41 379.8,225.86 380,225.01 380.2,223.9 380.4,222.54 380.6,220.97 380.8,219.24 381,217.38 381.2,215.45 381.4,213.5 381.6,211.56 381.8,209.7 382,207.97 382.2,206.4 382.4,205.03 382.6,203.91 382.8,203.06 383,202.5 383.2,202.25 383.4,202.32 383.6,202.69 383.8,203.37 384,204.33 384.2,205.55 384.4,207 384.6,208.64 384.8,210.44 385,212.33 385.2,214.28 385.4,216.23 385.6,218.14 385.8,219.95 386,221.62 386.2,223.11 386.4,224.37 386.6,225.38 386.8,226.11 387,226.54 387.2,226.66 387.4,226.46 387.6,225.96 387.8,225.16 388,224.08 388.2,222.76 388.4,221.22 388.6,219.51 388.8,217.67 389,215.75 389.2,213.79 389.4,211.85 389.6,209.98 389.8,208.22 390,206.62 390.2,205.22 390.4,204.06 390.6,203.17 390.8,202.57 391,202.27 391.2,202.29 391.4,202.62 391.6,203.25 391.8,204.17 392,205.35 392.2,206.77 392.4,208.39 392.6,210.16 392.8,212.04 393,213.98 393.2,215.94 393.4,217.86 393.6,219.69 393.8,221.38 394,222.9 394.2,224.2 394.4,225.25 394.6,226.02 394.8,226.5 395,226.66 395.2,226.51 395.4,226.05 395.6,225.29 395.8,224.26 396,222.97 396.2,221.46 396.4,219.78 396.6,217.95 396.8,216.04 397,214.08 397.2,212.14 397.4,210.25 397.6,208.47 397.8,206.85 398,205.42 398.2,204.22 398.4,203.29 398.6,202.64 398.8,202.3 399,202.27 399.2,202.55 399.4,203.13 399.6,204.01 399.8,205.16 400,206.55 400.2,208.13 400.4,209.89 400.6,211.75 400.8,213.69 401,215.65 401.2,217.57 401.4,219.42 401.6,221.14 401.8,222.69 402,224.02 402.2,225.11 402.4,225.92 402.6,226.44 402.8,226.66 403,226.55 403.2,226.14 403.4,225.43 403.6,224.43 403.8,223.18 404,221.7 404.2,220.04 404.4,218.23 404.6,216.33 404.8,214.38 405,212.43 405.2,210.53 405.4,208.73 405.6,207.08 405.8,205.62 406,204.39 406.2,203.41 406.4,202.72 406.6,202.33 406.8,202.25 407,202.48 407.2,203.03 407.4,203.86 407.6,204.97 407.8,206.32 408,207.88" fill="none" stroke="#EDB120" stroke-width="1.0" stroke-linejoin="round" />
<polyline points="314,214.45 314.2,214.45 314.4,214.45 314.6,214.45 314.8,214.45 315,214.45 315.2,214.45 315.4,214.45 315.6,214.45 315.8,214.45 316,214.45 316.2,214.45 316.4,214.45 316.6,214.45 316.8,214.45 317,214.45 317.2,214.45 317.4,214.45 317.6,214.45 317.8,214.45 318,214.45 318.2,214.45 318.4,214.45 318.6,214.45 318.8,214.45 319,214.45 319.2,214.45 319.4,214.45 319.6,214.45 319.8,214.45 320,214.45 320.2,214.45 320.4,214.45 320.6,214.45 320.8,214.45 321,214.45 321.2,214.45 321.4,214.45 321.6,214.45 321.8,214.45 322,214.45 322.2,214.45 322.4,214.45 322.6,214.45 322.8,214.45 323,214.45 323.2,214.45 323.4,214.45 323.6,214.45 323.8,214.45 324,214.45 324.2,214.45 324.4,214.45 324.6,214.45 324.8,214.45 325,214.45 325.2,214.45 325.4,214.45 325.6,214.45 325.8,214.45 326,214.45 326.2,214.45 326.4,214.45 326.6,214.45 326.8,214.45 327,214.45 327.2,214.45 327.4,214.45 327.6,214.45 327.8,214.45 328,214.45 328.2,214.45 328.4,214.45 328.6,214.45 328.8,214.45 329,214.45 329.2,214.45 329.4,214.45 329.6,214.45 329.8,214.45 330,214.45 330.2,214.45 330.4,214.45 330.6,214.45 330.8,214.45 331,214.45 331.2,214.45 331.4,214.45 331.6,214.45 331.8,214.45 332,214.45 332.2,214.45 332.4,214.45 332.6,214.45 332.8,214.45 333,214.45 333.2,214.45 333.4,214.45 333.6,214.45 333.8,214.45 334,214.45 334.2,214.45 334.4,214.45 334.6,214.45 334.8,214.45 335,214.45 335.2,214.45 335.4,214.45 335.6,214.45 335.8,214.45 336,214.45 336.2,214.45 336.4,214.45 336.6,214.45 336.8,214.45 337,214.45 337.2,214.45 337.4,214.45 337.6,214.45 337.8,214.45 338,214.45 338.2,214.45 338.4,214.45 338.6,214.45 338.8,214.45 339,214.45 339.2,214.45 339.4,214.45 339.6,214.45 339.8,214.45 340,214.45 340.2,214.45 340.4,214.45 340.6,214.45 340.8,214.45 341,214.45 341.2,214.45 341.4,214.45 341.6,214.45 341.8,214.45 342,214.45 342.2,214.45 342.4,214.45 342.6,214.45 342.8,214.45 343,214.45 343.2,214.45 343.4,214.45 343.6,214.45 343.8,214.45 344,214.45 344.2,214.45 344.4,214.45 344.6,214.45 344.8,214.45 345,214.45 345.2,214.45 345.4,214.45 345.6,214.45 345.8,214.45 346,214.45 346.2,214.45 346.4,214.45 346.6,214.45 346.8,214.45 347,214.45 347.2,214.45 347.4,214.45 347.6,214.45 347.8,214.45 348,214.45 348.2,214.45 348.4,214.45 348.6,214.45 348.8,214.45 349,214.45 349.2,214.45 349.4,214.45 349.6,214.45 349.8,214.45 350,214.45 350.2,214.45 350.4,214.45 350.6,214.45 350.8,214.45 351,214.45 351.2,214.45 351.4,214.45 351.6,214.45 351.8,214.45 352,214.45 352.2,214.45 352.4,214.45 352.6,214.45 352.8,214.45 353,214.45 353.2,214.45 353.4,214.45 353.6,214.45 353.8,214.45 354,214.45 354.2,214.45 354.4,214.45 354.6,214.45 354.8,214.45 355,214.45 355.2,214.45 355.4,214.45 355.6,214.45 355.8,214.45 356,214.45 356.2,214.45 356.4,214.45 356.6,214.45 356.8,214.45 357,214.45 357.2,214.45 357.4,214.45 357.6,214.45 357.8,214.45 358,214.45 358.2,214.45 358.4,214.45 358.6,214.45 358.8,214.45 359,214.45 359.2,214.45 359.4,214.45 359.6,214.45 359.8,214.45 360,214.45 360.2,214.45 360.4,214.45 360.6,214.45 360.8,214.45 361,214.45 361,214.45 361.2,214.98 361.4,215 361.6,214.5 361.8,213.47 362,211.96 362.2,210.01 362.4,207.72 362.6,205.76 362.8,204.5 363,203.5 363.2,202.77 363.4,202.35 363.6,202.24 363.8,202.45 364,202.96 364.2,203.77 364.4,204.85 364.6,206.18 364.8,207.72 365,209.43 365.2,211.28 365.4,213.2 365.6,215.16 365.8,217.1 366,218.97 366.2,220.72 366.4,222.32 366.6,223.71 366.8,224.86 367,225.75 367.2,226.34 367.4,226.63 367.6,226.61 367.8,226.27 368,225.63 368.2,224.7 368.4,223.51 368.6,222.09 368.8,220.47 369,218.7 369.2,216.81 369.4,214.87 369.6,212.91 369.8,211 370,209.17 370.2,207.48 370.4,205.96 370.6,204.67 370.8,203.63 371,202.86 371.2,202.4 371.4,202.24 371.6,202.4 371.8,202.86 372,203.63 372.2,204.67 372.4,205.96 372.6,207.48 372.8,209.17 373,211 373.2,212.91 373.4,214.87 373.6,216.81 373.8,218.7 374,220.47 374.2,222.09 374.4,223.51 374.6,224.7 374.8,225.63 375,226.27 375.2,226.61 375.4,226.63 375.6,226.34 375.8,225.75 376,224.86 376.2,223.71 376.4,222.32 376.6,220.72 376.8,218.97 377,217.1 377.2,215.16 377.4,213.2 377.6,211.28 377.8,209.43 378,207.72 378.2,206.18 378.4,204.85 378.6,203.77 378.8,202.96 379,202.45 379.2,202.24 379.4,202.35 379.6,202.77 379.8,203.5 380,204.5 380.2,205.76 380.4,207.24 380.6,208.9 380.8,210.71 381,212.62 381.2,214.57 381.4,216.52 381.6,218.42 381.8,220.21 382,221.86 382.2,223.31 382.4,224.54 382.6,225.51 382.8,226.2 383,226.58 383.2,226.65 383.4,226.41 383.6,225.86 383.8,225.01 384,223.9 384.2,222.54 384.4,220.97 384.6,219.24 384.8,217.38 385,215.45 385.2,213.5 385.4,211.56 385.6,209.7 385.8,207.97 386,206.4 386.2,205.03 386.4,203.91 386.6,203.06 386.8,202.5 387,202.25 387.2,202.32 387.4,202.69 387.6,203.37 387.8,204.33 388,205.55 388.2,207 388.4,208.64 388.6,210.44 388.8,212.33 389,214.28 389.2,216.23 389.4,218.14 389.6,219.95 389.8,221.62 390,223.11 390.2,224.37 390.4,225.38 390.6,226.11 390.8,226.54 391,226.66 391.2,226.46 391.4,225.96 391.6,225.16 391.8,224.08 392,222.76 392.2,221.22 392.4,219.51 392.6,217.67 392.8,215.75 393,213.79 393.2,211.85 393.4,209.98 393.6,208.22 393.8,206.62 394,205.22 394.2,204.06 394.4,203.17 394.6,202.57 394.8,202.27 395,202.29 395.2,202.62 395.4,203.25 395.6,204.17 395.8,205.35 396,206.77 396.2,208.39 396.4,210.16 396.6,212.04 396.8,213.98 397,215.94 397.2,217.86 397.4,219.69 397.6,221.38 397.8,222.9 398,224.2 398.2,225.25 398.4,226.02 398.6,226.5 398.8,226.66 399,226.51 399.2,226.05 399.4,225.29 399.6,224.26 399.8,222.97 400,221.46 400.2,219.78 400.4,217.95 400.6,216.04 400.8,214.08 401,212.14 401.2,210.25 401.4,208.47 401.6,206.85 401.8,205.42 402,204.22 402.2,203.29 402.4,202.64 402.6,202.3 402.8,202.27 403,202.55 403.2,203.13 403.4,204.01 403.6,205.16 403.8,206.55 404,208.13 404.2,209.89 404.4,211.75 404.6,213.69 404.8,215.65 405,217.57 405.2,219.42 405.4,221.14 405.6,222.69 405.8,224.02 406,225.11 406.2,225.92 406.4,226.44 406.6,226.66 406.8,226.55 407,226.14 407.2,225.43 407.4,224.43 407.6,223.18 407.8,221.7 408,220.04" fill="none" stroke="#7E2F8E" stroke-width="1.0" stroke-linejoin="round" />
</g>
<clipPath id="cBR2"><rect x="441.5" y="150" width="94.5" height="126"/></clipPath>
<g clip-path="url(#cBR2)">
<polyline points="441.5,177.55 441.7,179.74 441.9,182.55 442.1,185.93 442.3,189.84 442.5,194.19 442.7,198.91 442.9,203.91 443.1,209.1 443.3,214.38 443.5,219.67 443.7,224.87 443.9,229.87 444.1,234.6 444.3,238.96 444.5,242.87 444.7,246.28 444.9,249.1 445.1,251.3 445.3,252.83 445.5,253.66 445.7,253.79 445.9,253.2 446.1,251.91 446.3,249.94 446.5,247.33 446.7,244.13 446.9,240.38 447.1,236.17 447.3,231.56 447.5,226.64 447.7,221.51 447.9,216.24 448.1,210.94 448.3,205.71 448.5,200.63 448.7,195.8 448.9,191.32 449.1,187.25 449.3,183.67 449.5,180.65 449.7,178.24 449.9,176.49 450.1,175.43 450.3,175.07 450.5,175.43 450.7,176.49 450.9,178.24 451.1,180.65 451.3,183.67 451.5,187.25 451.7,191.32 451.9,195.8 452.1,200.63 452.3,205.71 452.5,210.94 452.7,216.24 452.9,221.51 453.1,226.64 453.3,231.56 453.5,236.17 453.7,240.38 453.9,244.13 454.1,247.33 454.3,249.94 454.5,251.91 454.7,253.2 454.9,253.79 455.1,253.66 455.3,252.83 455.5,251.3 455.7,249.1 455.9,246.28 456.1,242.87 456.3,238.96 456.5,234.6 456.7,229.87 456.9,224.87 457.1,219.67 457.3,214.38 457.5,209.1 457.7,203.91 457.9,198.91 458.1,194.19 458.3,189.84 458.5,185.93 458.7,182.55 458.9,179.74 459.1,177.55 459.3,176.04 459.5,175.22 459.7,175.12 459.9,175.72 460.1,177.03 460.3,179.01 460.5,181.64 460.7,184.86 460.9,188.62 461.1,192.84 461.3,197.46 461.5,202.38 461.7,207.53 461.9,212.79 462.1,218.09 462.3,223.32 462.5,228.39 462.7,233.21 462.9,237.69 463.1,241.75 463.3,245.31 463.5,248.32 463.7,250.71 463.9,252.44 464.1,253.49 464.3,253.83 464.5,253.45 464.7,252.37 464.9,250.6 465.1,248.18 465.3,245.15 465.5,241.56 465.7,237.48 465.9,232.98 466.1,228.15 466.3,223.06 466.5,217.83 466.7,212.53 466.9,207.26 467.1,202.13 467.3,197.22 467.5,192.62 467.7,188.42 467.9,184.69 468.1,181.49 468.3,178.9 468.5,176.95 468.7,175.67 468.9,175.1 469.1,175.25 469.3,176.1 469.5,177.65 469.7,179.86 469.9,182.7 470.1,186.12 470.3,190.05 470.5,194.42 470.7,199.15 470.9,204.16 471.1,209.36 471.3,214.65 471.5,219.93 471.7,225.12 471.9,230.11 472.1,234.82 472.3,239.16 472.5,243.06 472.7,246.43 472.9,249.23 473.1,251.39 473.3,252.89 473.5,253.69 473.7,253.78 473.9,253.15 474.1,251.83 474.3,249.83 474.5,247.19 474.7,243.95 474.9,240.18 475.1,235.95 475.3,231.32 475.5,226.39 475.7,221.24 475.9,215.97 476.1,210.68 476.3,205.45 476.5,200.38 476.7,195.57 476.9,191.1 477.1,187.05 477.3,183.5 477.5,180.52 477.7,178.14 477.9,176.42 478.1,175.39 478.3,175.07 478.5,175.47 478.7,176.56 478.9,178.35 479.1,180.79 479.3,183.84 479.5,187.44 479.7,191.53 479.9,196.04 480.1,200.88 480.3,205.96 480.5,211.21 480.7,216.5 480.9,221.77 481.1,226.9 481.3,231.8 481.5,236.39 481.7,240.58 481.9,244.3 482.1,247.48 482.3,250.06 482.5,251.99 482.7,253.25 482.9,253.8 483.1,253.64 483.3,252.77 483.5,251.2 483.7,248.97 483.9,246.12 484.1,242.69 484.3,238.75 484.5,234.37 484.7,229.63 484.9,224.61 485.1,219.41 485.3,214.12 485.5,208.83 485.7,203.65 485.9,198.66 486.1,193.96 486.3,189.63 486.5,185.75 486.7,182.39 486.9,179.61 487.1,177.46 487.3,175.98 487.5,175.2 487.7,175.13 487.9,175.77 488.1,177.11 488.3,179.13 488.5,181.79 488.5,214.45" fill="none" stroke="#0072BD" stroke-width="1.0" stroke-linejoin="round" />
<polyline points="441.5,254.58 441.7,254.7 441.9,254.1 442.1,252.78 442.3,250.77 442.5,248.1 442.7,244.82 442.9,240.99 443.1,236.67 443.3,231.96 443.5,226.93 443.7,221.67 443.9,216.28 444.1,210.86 444.3,205.5 444.5,200.31 444.7,195.37 444.9,190.78 445.1,186.61 445.3,182.95 445.5,179.86 445.7,177.4 445.9,175.61 446.1,174.52 446.3,174.16 446.5,174.52 446.7,175.61 446.9,177.4 447.1,179.86 447.3,182.95 447.5,186.61 447.7,190.78 447.9,195.37 448.1,200.31 448.3,205.5 448.5,210.86 448.7,216.28 448.9,221.67 449.1,226.93 449.3,231.96 449.5,236.67 449.7,240.99 449.9,244.82 450.1,248.1 450.3,250.77 450.5,252.78 450.7,254.1 450.9,254.7 451.1,254.58 451.3,253.72 451.5,252.16 451.7,249.91 451.9,247.02 452.1,243.53 452.3,239.53 452.5,235.06 452.7,230.23 452.9,225.11 453.1,219.79 453.3,214.38 453.5,208.97 453.7,203.66 453.9,198.55 454.1,193.72 454.3,189.27 454.5,185.27 454.7,181.8 454.9,178.93 455.1,176.7 455.3,175.15 455.5,174.31 455.7,174.2 455.9,174.82 456.1,176.16 456.3,178.19 456.5,180.88 456.7,184.17 456.9,188.02 457.1,192.34 457.3,197.06 457.5,202.1 457.7,207.36 457.9,212.75 458.1,218.18 458.3,223.53 458.5,228.72 458.7,233.65 458.9,238.23 459.1,242.38 459.3,246.03 459.5,249.1 459.7,251.55 459.9,253.33 460.1,254.4 460.3,254.74 460.5,254.36 460.7,253.25 460.9,251.44 461.1,248.97 461.3,245.86 461.5,242.19 461.7,238.01 461.9,233.41 462.1,228.46 462.3,223.26 462.5,217.91 462.7,212.48 462.9,207.1 463.1,201.84 463.3,196.82 463.5,192.11 463.7,187.81 463.9,183.99 464.1,180.73 464.3,178.07 464.5,176.07 464.7,174.77 464.9,174.19 465.1,174.34 465.3,175.21 465.5,176.79 465.7,179.06 465.9,181.96 466.1,185.46 466.3,189.48 466.5,193.95 466.7,198.8 466.9,203.92 467.1,209.24 467.3,214.65 467.5,220.06 467.7,225.37 467.9,230.48 468.1,235.3 468.3,239.74 468.5,243.72 468.7,247.17 468.9,250.04 469.1,252.25 469.3,253.78 469.5,254.6 469.7,254.69 469.9,254.05 470.1,252.7 470.3,250.65 470.5,247.95 470.7,244.64 470.9,240.78 471.1,236.45 471.3,231.71 471.5,226.67 471.7,221.4 471.9,216.01 472.1,210.59 472.3,205.24 472.5,200.05 472.7,195.13 472.9,190.56 473.1,186.42 473.3,182.79 473.5,179.73 473.7,177.3 473.9,175.54 474.1,174.49 474.3,174.16 474.5,174.56 474.7,175.68 474.9,177.51 475.1,180 475.3,183.12 475.5,186.81 475.7,191 475.9,195.61 476.1,200.56 476.3,205.77 476.5,211.13 476.7,216.55 476.9,221.94 477.1,227.18 477.3,232.2 477.5,236.9 477.7,241.19 477.9,244.99 478.1,248.25 478.3,250.89 478.5,252.87 478.7,254.15 478.9,254.72 479.1,254.55 479.3,253.66 479.5,252.06 479.7,249.78 479.9,246.86 480.1,243.35 480.3,239.31 480.5,234.83 480.7,229.98 480.9,224.85 481.1,219.52 481.3,214.11 481.5,208.7 481.7,203.4 481.9,198.3 482.1,193.49 482.3,189.06 482.5,185.09 482.7,181.65 482.9,178.8 483.1,176.6 483.3,175.09 483.5,174.29 483.7,174.22 483.9,174.87 484.1,176.24 484.3,178.31 484.5,181.03 484.7,184.35 484.9,188.22 485.1,192.57 485.3,197.31 485.5,202.36 485.7,207.63 485.9,213.03 486.1,218.45 486.3,223.79 486.5,228.97 486.7,233.89 486.9,238.45 487.1,242.58 487.3,246.2 487.5,249.24 487.7,251.66 487.9,253.4 488.1,254.43 488.3,254.74 488.5,254.32 488.5,214.45" fill="none" stroke="#D95319" stroke-width="1.0" stroke-linejoin="round" />
<polyline points="441.5,215.2 441.7,212.98 441.9,210.79 442.1,208.66 442.3,206.64 442.5,204.77 442.7,203.06 442.9,201.57 443.1,200.3 443.3,199.29 443.5,198.56 443.7,198.12 443.9,197.97 444.1,198.12 444.3,198.56 444.5,199.29 444.7,200.3 444.9,201.57 445.1,203.06 445.3,204.77 445.5,206.64 445.7,208.66 445.9,210.79 446.1,212.98 446.3,215.2 446.5,217.4 446.7,219.55 446.9,221.61 447.1,223.54 447.3,225.31 447.5,226.87 447.7,228.21 447.9,229.31 448.1,230.13 448.3,230.67 448.5,230.92 448.7,230.87 448.9,230.52 449.1,229.88 449.3,228.96 449.5,227.77 449.7,226.35 449.9,224.71 450.1,222.88 450.3,220.91 450.5,218.81 450.7,216.64 450.9,214.42 451.1,212.21 451.3,210.04 451.5,207.94 451.7,205.97 451.9,204.15 452.1,202.51 452.3,201.1 452.5,199.92 452.7,199.01 452.9,198.37 453.1,198.03 453.3,197.98 453.5,198.24 453.7,198.79 453.9,199.62 454.1,200.72 454.3,202.06 454.5,203.64 454.7,205.41 454.9,207.34 455.1,209.4 455.3,211.55 455.5,213.76 455.7,215.97 455.9,218.16 456.1,220.29 456.3,222.3 456.5,224.18 456.7,225.88 456.9,227.37 457.1,228.63 457.3,229.63 457.5,230.35 457.7,230.79 457.9,230.93 458.1,230.78 458.3,230.32 458.5,229.58 458.7,228.57 458.9,227.3 459.1,225.8 459.3,224.09 459.5,222.21 459.7,220.18 459.9,218.06 460.1,215.86 460.3,213.65 460.5,211.44 460.7,209.29 460.9,207.24 461.1,205.31 461.3,203.55 461.5,201.99 461.7,200.65 461.9,199.57 462.1,198.75 462.3,198.22 462.5,197.98 462.7,198.04 462.9,198.4 463.1,199.04 463.3,199.97 463.5,201.16 463.7,202.59 463.9,204.23 464.1,206.06 464.3,208.05 464.5,210.14 464.7,212.32 464.9,214.53 465.1,216.75 465.3,218.92 465.5,221.01 465.7,222.98 465.9,224.8 466.1,226.42 466.3,227.84 466.5,229.01 466.7,229.91 466.9,230.54 467.1,230.88 467.3,230.91 467.5,230.65 467.7,230.1 467.9,229.26 468.1,228.15 468.3,226.8 468.5,225.22 468.7,223.45 468.9,221.51 469.1,219.45 469.3,217.29 469.5,215.09 469.7,212.87 469.9,210.68 470.1,208.56 470.3,206.55 470.5,204.68 470.7,202.98 470.9,201.5 471.1,200.24 471.3,199.25 471.5,198.53 471.7,198.1 471.9,197.97 472.1,198.13 472.3,198.59 472.5,199.34 472.7,200.36 472.9,201.63 473.1,203.14 473.3,204.86 473.5,206.74 473.7,208.77 473.9,210.9 474.1,213.09 474.3,215.31 474.5,217.51 474.7,219.66 474.9,221.71 475.1,223.63 475.3,225.39 475.5,226.95 475.7,228.28 475.9,229.36 476.1,230.17 476.3,230.69 476.5,230.92 476.7,230.85 476.9,230.49 477.1,229.84 477.3,228.9 477.5,227.71 477.7,226.27 477.9,224.62 478.1,222.79 478.3,220.8 478.5,218.7 478.7,216.53 478.9,214.31 479.1,212.1 479.3,209.93 479.5,207.84 479.7,205.87 479.9,204.06 480.1,202.44 480.3,201.03 480.5,199.87 480.7,198.97 480.9,198.35 481.1,198.02 481.3,197.99 481.5,198.26 481.7,198.82 481.9,199.66 482.1,200.78 482.3,202.14 482.5,203.72 482.7,205.5 482.9,207.44 483.1,209.5 483.3,211.66 483.5,213.87 483.7,216.08 483.9,218.27 484.1,220.39 484.3,222.4 484.5,224.27 484.7,225.96 484.9,227.44 485.1,228.68 485.3,229.67 485.5,230.38 485.7,230.81 485.9,230.93 486.1,230.76 486.3,230.29 486.5,229.54 486.7,228.51 486.9,227.23 487.1,225.72 487.3,224 487.5,222.11 487.7,220.08 487.9,217.95 488.1,215.75 488.3,213.53 488.5,211.33 488.5,214.45" fill="none" stroke="#EDB120" stroke-width="1.0" stroke-linejoin="round" />
<polyline points="441.5,216.68 441.7,218.89 441.9,221.02 442.1,223.04 442.3,224.9 442.5,226.57 442.7,228.02 442.9,229.22 443.1,230.16 443.3,230.81 443.5,231.17 443.7,231.22 443.9,230.97 444.1,230.42 444.3,229.58 444.5,228.47 444.7,227.1 444.9,225.51 445.1,223.71 445.3,221.75 445.5,219.65 445.7,217.46 445.9,215.21 446.1,212.95 446.3,210.72 446.5,208.56 446.7,206.5 446.9,204.59 447.1,202.85 447.3,201.33 447.5,200.04 447.7,199.01 447.9,198.27 448.1,197.81 448.3,197.66 448.5,197.81 448.7,198.27 448.9,199.01 449.1,200.04 449.3,201.33 449.5,202.85 449.7,204.59 449.9,206.5 450.1,208.56 450.3,210.72 450.5,212.95 450.7,215.21 450.9,217.46 451.1,219.65 451.3,221.75 451.5,223.71 451.7,225.51 451.9,227.1 452.1,228.47 452.3,229.58 452.5,230.42 452.7,230.97 452.9,231.22 453.1,231.17 453.3,230.81 453.5,230.16 453.7,229.22 453.9,228.02 454.1,226.57 454.3,224.9 454.5,223.04 454.7,221.02 454.9,218.89 455.1,216.68 455.3,214.42 455.5,212.17 455.7,209.95 455.9,207.82 456.1,205.81 456.3,203.96 456.5,202.29 456.7,200.85 456.9,199.65 457.1,198.72 457.3,198.07 457.5,197.73 457.7,197.68 457.9,197.94 458.1,198.5 458.3,199.34 458.5,200.46 458.7,201.83 458.9,203.44 459.1,205.24 459.3,207.21 459.5,209.31 459.7,211.5 459.9,213.74 460.1,216 460.3,218.23 460.5,220.4 460.7,222.45 460.9,224.36 461.1,226.09 461.3,227.61 461.5,228.89 461.7,229.91 461.9,230.65 462.1,231.09 462.3,231.24 462.5,231.08 462.7,230.62 462.9,229.86 463.1,228.83 463.3,227.54 463.5,226.01 463.7,224.27 463.9,222.35 464.1,220.29 464.3,218.12 464.5,215.89 464.7,213.63 464.9,211.39 465.1,209.2 465.3,207.1 465.5,205.14 465.7,203.35 465.9,201.76 466.1,200.4 466.3,199.29 466.5,198.46 466.7,197.92 466.9,197.67 467.1,197.74 467.3,198.1 467.5,198.76 467.7,199.7 467.9,200.91 468.1,202.37 468.3,204.05 468.5,205.91 468.7,207.93 468.9,210.06 469.1,212.28 469.3,214.53 469.5,216.79 469.7,219 469.9,221.13 470.1,223.14 470.3,224.99 470.5,226.65 470.7,228.09 470.9,229.28 471.1,230.2 471.3,230.84 471.5,231.18 471.7,231.22 471.9,230.95 472.1,230.39 472.3,229.53 472.5,228.41 472.7,227.03 472.9,225.42 473.1,223.62 473.3,221.64 473.5,219.54 473.7,217.35 473.9,215.1 474.1,212.84 474.3,210.61 474.5,208.45 474.7,206.4 474.9,204.5 475.1,202.77 475.3,201.26 475.5,199.98 475.7,198.97 475.9,198.24 476.1,197.8 476.3,197.66 476.5,197.83 476.7,198.3 476.9,199.06 477.1,200.1 477.3,201.4 477.5,202.93 477.7,204.68 477.9,206.6 478.1,208.66 478.3,210.83 478.5,213.07 478.7,215.33 478.9,217.57 479.1,219.76 479.3,221.85 479.5,223.8 479.7,225.59 479.9,227.18 480.1,228.53 480.3,229.63 480.5,230.46 480.7,230.99 480.9,231.23 481.1,231.16 481.3,230.79 481.5,230.12 481.7,229.17 481.9,227.95 482.1,226.49 482.3,224.81 482.5,222.94 482.7,220.92 482.9,218.78 483.1,216.56 483.3,214.31 483.5,212.06 483.7,209.85 483.9,207.72 484.1,205.72 484.3,203.87 484.5,202.21 484.7,200.78 484.9,199.6 485.1,198.68 485.3,198.05 485.5,197.72 485.7,197.69 485.9,197.96 486.1,198.53 486.3,199.39 486.5,200.52 486.7,201.91 486.9,203.52 487.1,205.33 487.3,207.31 487.5,209.41 487.7,211.61 487.9,213.86 488.1,216.11 488.3,218.34 488.5,220.5 488.5,214.45 535.5,214.45" fill="none" stroke="#7E2F8E" stroke-width="1.0" stroke-linejoin="round" />
</g>
<line x1="361" y1="153.4" x2="361" y2="275.5" stroke="#F18672" stroke-width="1.2" stroke-dasharray="2.2,2.6" stroke-dashoffset="0.4"/>
<line x1="488.5" y1="153.4" x2="488.5" y2="275.5" stroke="#6474D6" stroke-width="1.0" stroke-dasharray="2.2,2.6" stroke-dashoffset="0.4"/>
<line x1="314" y1="153.4" x2="314" y2="275.9" stroke="#9a9a9a" stroke-width="0.8" />
<line x1="313.6" y1="275.5" x2="407.8" y2="275.5" stroke="#9a9a9a" stroke-width="0.85" />
<line x1="314" y1="153.4" x2="315.8" y2="153.4" stroke="#888" stroke-width="0.6" />
<line x1="314" y1="168.66" x2="315.8" y2="168.66" stroke="#888" stroke-width="0.6" />
<line x1="314" y1="183.92" x2="315.8" y2="183.92" stroke="#888" stroke-width="0.6" />
<line x1="314" y1="199.19" x2="315.8" y2="199.19" stroke="#888" stroke-width="0.6" />
<line x1="314" y1="214.45" x2="315.8" y2="214.45" stroke="#888" stroke-width="0.6" />
<line x1="314" y1="229.71" x2="315.8" y2="229.71" stroke="#888" stroke-width="0.6" />
<line x1="314" y1="244.97" x2="315.8" y2="244.97" stroke="#888" stroke-width="0.6" />
<line x1="314" y1="260.24" x2="315.8" y2="260.24" stroke="#888" stroke-width="0.6" />
<line x1="314" y1="275.5" x2="315.8" y2="275.5" stroke="#888" stroke-width="0.6" />
<line x1="314" y1="273.7" x2="314" y2="275.5" stroke="#888" stroke-width="0.6" />
<line x1="360.9" y1="273.7" x2="360.9" y2="275.5" stroke="#888" stroke-width="0.6" />
<line x1="407.8" y1="273.7" x2="407.8" y2="275.5" stroke="#888" stroke-width="0.6" />
<line x1="441.5" y1="153.4" x2="441.5" y2="275.9" stroke="#9a9a9a" stroke-width="0.8" />
<line x1="441.1" y1="275.5" x2="535.5" y2="275.5" stroke="#9a9a9a" stroke-width="0.85" />
<line x1="441.5" y1="153.4" x2="443.3" y2="153.4" stroke="#888" stroke-width="0.6" />
<line x1="441.5" y1="168.66" x2="443.3" y2="168.66" stroke="#888" stroke-width="0.6" />
<line x1="441.5" y1="183.92" x2="443.3" y2="183.92" stroke="#888" stroke-width="0.6" />
<line x1="441.5" y1="199.19" x2="443.3" y2="199.19" stroke="#888" stroke-width="0.6" />
<line x1="441.5" y1="214.45" x2="443.3" y2="214.45" stroke="#888" stroke-width="0.6" />
<line x1="441.5" y1="229.71" x2="443.3" y2="229.71" stroke="#888" stroke-width="0.6" />
<line x1="441.5" y1="244.97" x2="443.3" y2="244.97" stroke="#888" stroke-width="0.6" />
<line x1="441.5" y1="260.24" x2="443.3" y2="260.24" stroke="#888" stroke-width="0.6" />
<line x1="441.5" y1="275.5" x2="443.3" y2="275.5" stroke="#888" stroke-width="0.6" />
<line x1="441.5" y1="273.7" x2="441.5" y2="275.5" stroke="#888" stroke-width="0.6" />
<line x1="488.5" y1="273.7" x2="488.5" y2="275.5" stroke="#888" stroke-width="0.6" />
<line x1="535.5" y1="273.7" x2="535.5" y2="275.5" stroke="#888" stroke-width="0.6" />
<text x="311.4" y="156" font-size="7.5" text-anchor="end" font-family="'Liberation Serif', 'DejaVu Serif', serif" fill="#1a1a1a" stroke="#1a1a1a" stroke-width="0.1" letter-spacing="0.12" >1</text>
<text x="311.4" y="171.26" font-size="7.5" text-anchor="end" font-family="'Liberation Serif', 'DejaVu Serif', serif" fill="#1a1a1a" stroke="#1a1a1a" stroke-width="0.1" letter-spacing="0.12" >0.75</text>
<text x="311.4" y="186.52" font-size="7.5" text-anchor="end" font-family="'Liberation Serif', 'DejaVu Serif', serif" fill="#1a1a1a" stroke="#1a1a1a" stroke-width="0.1" letter-spacing="0.12" >0.5</text>
<text x="311.4" y="201.79" font-size="7.5" text-anchor="end" font-family="'Liberation Serif', 'DejaVu Serif', serif" fill="#1a1a1a" stroke="#1a1a1a" stroke-width="0.1" letter-spacing="0.12" >0.25</text>
<text x="311.4" y="217.05" font-size="7.5" text-anchor="end" font-family="'Liberation Serif', 'DejaVu Serif', serif" fill="#1a1a1a" stroke="#1a1a1a" stroke-width="0.1" letter-spacing="0.12" >0</text>
<text x="311.4" y="232.31" font-size="7.5" text-anchor="end" font-family="'Liberation Serif', 'DejaVu Serif', serif" fill="#1a1a1a" stroke="#1a1a1a" stroke-width="0.1" letter-spacing="0.12" >&#8722;0.25</text>
<text x="311.4" y="247.57" font-size="7.5" text-anchor="end" font-family="'Liberation Serif', 'DejaVu Serif', serif" fill="#1a1a1a" stroke="#1a1a1a" stroke-width="0.1" letter-spacing="0.12" >&#8722;0.5</text>
<text x="311.4" y="262.84" font-size="7.5" text-anchor="end" font-family="'Liberation Serif', 'DejaVu Serif', serif" fill="#1a1a1a" stroke="#1a1a1a" stroke-width="0.1" letter-spacing="0.12" >&#8722;0.75</text>
<text x="311.4" y="278.1" font-size="7.5" text-anchor="end" font-family="'Liberation Serif', 'DejaVu Serif', serif" fill="#1a1a1a" stroke="#1a1a1a" stroke-width="0.1" letter-spacing="0.12" >&#8722;1</text>
<text x="314" y="285.3" font-size="7.5" text-anchor="middle" font-family="'Liberation Serif', 'DejaVu Serif', serif" fill="#1a1a1a" stroke="#1a1a1a" stroke-width="0.1" letter-spacing="0.12" >11.99</text>
<text x="361" y="285.3" font-size="7.5" text-anchor="middle" font-family="'Liberation Serif', 'DejaVu Serif', serif" fill="#1a1a1a" stroke="#1a1a1a" stroke-width="0.1" letter-spacing="0.12" >12</text>
<text x="408" y="285.3" font-size="7.5" text-anchor="middle" font-family="'Liberation Serif', 'DejaVu Serif', serif" fill="#1a1a1a" stroke="#1a1a1a" stroke-width="0.1" letter-spacing="0.12" >12.01</text>
<text x="441.5" y="285.3" font-size="7.5" text-anchor="middle" font-family="'Liberation Serif', 'DejaVu Serif', serif" fill="#1a1a1a" stroke="#1a1a1a" stroke-width="0.1" letter-spacing="0.12" >12.24</text>
<text x="488.5" y="285.3" font-size="7.5" text-anchor="middle" font-family="'Liberation Serif', 'DejaVu Serif', serif" fill="#1a1a1a" stroke="#1a1a1a" stroke-width="0.1" letter-spacing="0.12" >12.25</text>
<text x="535.5" y="285.3" font-size="7.5" text-anchor="middle" font-family="'Liberation Serif', 'DejaVu Serif', serif" fill="#1a1a1a" stroke="#1a1a1a" stroke-width="0.1" letter-spacing="0.12" >12.26</text>
<text x="0" y="0" font-size="7.2" text-anchor="middle" dominant-baseline="central" font-family="'Liberation Sans', 'DejaVu Sans', sans-serif" fill="#F0303A" transform="translate(355.7,270) rotate(-90)">E1</text>
<text x="0" y="0" font-size="7.2" text-anchor="middle" dominant-baseline="central" font-family="'Liberation Sans', 'DejaVu Sans', sans-serif" fill="#3F56C4" transform="translate(494.7,263.2) rotate(-90)">E2+E3</text>
<text x="428.4" y="293.8" font-size="9.4" text-anchor="middle" font-family="'Liberation Serif', 'DejaVu Serif', serif" fill="#1a1a1a" stroke="#1a1a1a" stroke-width="0.12" paint-order="stroke"><tspan font-style="italic">time</tspan> [s]</text>
<text x="0" y="0" font-size="10.4" text-anchor="middle" font-family="'Liberation Serif', 'DejaVu Serif', serif" fill="#1a1a1a" stroke="#1a1a1a" stroke-width="0.12" paint-order="stroke" transform="translate(290.4,214.6) rotate(-90)"><tspan font-style="italic">V</tspan>/<tspan font-style="italic">V</tspan><tspan font-style="italic" font-size="6.6" dy="2">DC</tspan><tspan dy="-2"> [&#8722;]</tspan></text>
<rect x="494.1" y="157.1" width="38.7" height="30.7" fill="#fff" stroke="#666" stroke-width="0.7"/>
<line x1="495.8" y1="161.2" x2="509.8" y2="161.2" stroke="#0072BD" stroke-width="1.1" />
<text x="511.1" y="163.4" font-size="6.5" font-family="'Liberation Serif', 'DejaVu Serif', serif" fill="#111" stroke="#111" stroke-width="0.12" paint-order="stroke">Phase <tspan font-style="italic">c</tspan></text>
<line x1="495.8" y1="168.47" x2="509.8" y2="168.47" stroke="#D95319" stroke-width="1.1" />
<text x="511.1" y="170.67" font-size="6.5" font-family="'Liberation Serif', 'DejaVu Serif', serif" fill="#111" stroke="#111" stroke-width="0.12" paint-order="stroke">Phase <tspan font-style="italic">b</tspan></text>
<line x1="495.8" y1="175.74" x2="509.8" y2="175.74" stroke="#EDB120" stroke-width="1.1" />
<text x="511.1" y="177.94" font-size="6.5" font-family="'Liberation Serif', 'DejaVu Serif', serif" fill="#111" stroke="#111" stroke-width="0.12" paint-order="stroke">Phase <tspan font-style="italic">a</tspan></text>
<line x1="495.8" y1="183.01" x2="509.8" y2="183.01" stroke="#7E2F8E" stroke-width="1.1" />
<text x="511.1" y="185.21" font-size="6.5" font-family="'Liberation Serif', 'DejaVu Serif', serif" fill="#111" stroke="#111" stroke-width="0.12" paint-order="stroke">Neutral</text>
<text x="424.2" y="306.9" font-size="12" text-anchor="middle" font-family="'Liberation Serif', 'DejaVu Serif', serif" fill="#1a1a1a" stroke="#1a1a1a" stroke-width="0.12" paint-order="stroke">(b)</text>
</svg></body></html>
